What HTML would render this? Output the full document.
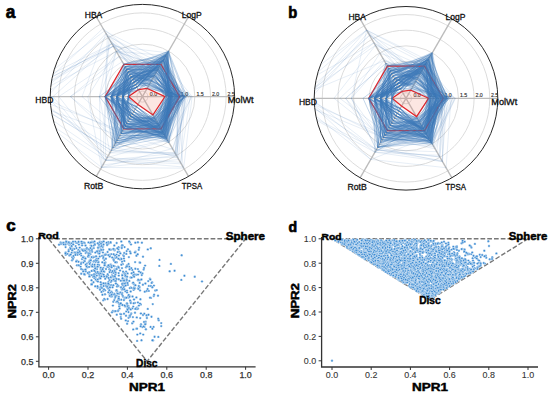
<!DOCTYPE html><html><head><meta charset="utf-8"><style>html,body{margin:0;padding:0;background:#fff;}svg{display:block;}</style></head><body>
<svg width="550" height="395" viewBox="0 0 550 395" font-family='"Liberation Sans", sans-serif'>
<rect width="550" height="395" fill="#fff"/>
<defs><circle id="pt" r="1.2" fill="#3a8ad2" stroke="#fff" stroke-width="0.42"/></defs>
<clipPath id="clipa"><circle cx="142.4" cy="96.6" r="92.2"/></clipPath>
<g clip-path="url(#clipa)">
<circle cx="142.4" cy="96.6" r="5.50" fill="none" stroke="#dcdcdc" stroke-width="1"/>
<circle cx="142.4" cy="96.6" r="21.15" fill="none" stroke="#dcdcdc" stroke-width="1"/>
<circle cx="142.4" cy="96.6" r="36.80" fill="none" stroke="#dcdcdc" stroke-width="1"/>
<circle cx="142.4" cy="96.6" r="52.45" fill="none" stroke="#dcdcdc" stroke-width="1"/>
<circle cx="142.4" cy="96.6" r="68.10" fill="none" stroke="#dcdcdc" stroke-width="1"/>
<circle cx="142.4" cy="96.6" r="83.75" fill="none" stroke="#dcdcdc" stroke-width="1"/>
<line x1="142.4" y1="96.6" x2="234.60" y2="96.60" stroke="#bcbcbc" stroke-width="1.35"/>
<line x1="142.4" y1="96.6" x2="188.50" y2="16.75" stroke="#bcbcbc" stroke-width="1.35"/>
<line x1="142.4" y1="96.6" x2="96.30" y2="16.75" stroke="#bcbcbc" stroke-width="1.35"/>
<line x1="142.4" y1="96.6" x2="50.20" y2="96.60" stroke="#bcbcbc" stroke-width="1.35"/>
<line x1="142.4" y1="96.6" x2="96.30" y2="176.45" stroke="#bcbcbc" stroke-width="1.35"/>
<line x1="142.4" y1="96.6" x2="188.50" y2="176.45" stroke="#bcbcbc" stroke-width="1.35"/>
<text x="149.8" y="95.5" font-size="5.2" fill="#333" stroke="#333" stroke-width="0.15" textLength="7.3" lengthAdjust="spacingAndGlyphs">0.0</text>
<text x="165.3" y="95.5" font-size="5.2" fill="#333" stroke="#333" stroke-width="0.15" textLength="7.3" lengthAdjust="spacingAndGlyphs">0.5</text>
<text x="180.8" y="95.5" font-size="5.2" fill="#333" stroke="#333" stroke-width="0.15" textLength="7.3" lengthAdjust="spacingAndGlyphs">1.0</text>
<text x="196.4" y="95.5" font-size="5.2" fill="#333" stroke="#333" stroke-width="0.15" textLength="7.3" lengthAdjust="spacingAndGlyphs">1.5</text>
<text x="211.9" y="95.5" font-size="5.2" fill="#333" stroke="#333" stroke-width="0.15" textLength="7.3" lengthAdjust="spacingAndGlyphs">2.0</text>
<text x="227.4" y="95.5" font-size="5.2" fill="#333" stroke="#333" stroke-width="0.15" textLength="7.3" lengthAdjust="spacingAndGlyphs">2.5</text>
<path d="M190.3 96.6L157.3 70.8L119.2 56.5L58.8 96.6L107.1 157.7L180.4 162.3ZM186.6 96.6L160.5 65.2L111.9 43.7L24.0 96.6L111.3 150.5L175.1 153.2ZM182.9 96.6L153.1 78.0L113.3 46.2L12.4 96.6L101.5 167.4L178.7 159.5ZM177.8 96.6L161.5 63.5L107.4 36.0L105.2 96.6L105.7 160.2L177.3 157.0ZM178.7 96.6L157.9 69.7L106.0 33.5L47.2 96.6L105.7 160.2L175.3 153.5ZM177.9 96.6L152.3 79.4L106.0 33.5L82.0 96.6L122.5 131.1L160.4 127.8ZM178.4 96.6L152.2 79.7L113.3 46.2L12.4 96.6L119.7 135.9L168.7 142.1ZM192.1 96.6L151.7 80.5L116.3 51.4L87.8 96.6L101.5 167.4L183.7 168.2ZM178.6 96.6L155.0 74.7L110.4 41.1L99.4 96.6L109.9 152.9L167.3 139.6ZM185.3 96.6L153.7 77.0L119.2 56.5L70.4 96.6L116.9 140.8L165.2 136.2ZM180.1 96.6L167.7 52.8L113.3 46.2L24.0 96.6L111.3 150.5L175.8 154.5ZM177.9 96.6L166.1 55.5L116.3 51.4L105.2 96.6L118.3 138.3L177.9 158.1ZM185.9 96.6L147.4 87.9L108.9 38.6L105.2 96.6L102.9 165.0L176.2 155.2ZM178.3 96.6L149.2 84.8L122.2 61.6L70.4 96.6L119.7 135.9L160.4 127.8ZM183.7 96.6L148.0 86.9L107.4 36.0L35.6 96.6L109.9 152.9L174.7 152.6ZM188.7 96.6L154.7 75.3L113.3 46.2L41.4 96.6L121.1 133.5L172.9 149.4ZM185.1 96.6L159.8 66.4L116.3 51.4L29.8 96.6L112.7 148.0L176.4 155.6ZM192.1 96.6L163.2 60.6L104.5 30.9L18.2 96.6L107.1 157.7L167.5 140.1ZM190.8 96.6L159.6 66.8L116.3 51.4L99.4 96.6L101.5 167.4L172.4 148.6ZM185.5 96.6L156.3 72.5L103.0 28.4L29.8 96.6L122.5 131.1L168.9 142.6ZM178.2 96.6L158.2 69.3L111.9 43.7L53.0 96.6L105.7 160.2L183.0 167.0ZM184.5 96.6L147.4 87.9L111.9 43.7L6.6 96.6L105.7 160.2L181.2 163.8Z" fill="none" stroke="#3f7bbb" stroke-opacity="0.15" stroke-width="0.85"/>
<path d="M171.9 96.6L154.7 75.3L128.1 71.8L122.6 96.6L133.7 111.7L165.1 135.9ZM179.1 96.6L163.3 60.4L136.9 87.1L116.8 96.6L125.3 126.2L166.2 137.9ZM169.3 96.6L161.3 63.9L134.0 82.0L105.2 96.6L132.3 114.1L154.4 117.4ZM175.0 96.6L157.9 69.8L132.5 79.5L116.8 96.6L136.5 106.8L158.3 124.1ZM173.4 96.6L149.3 84.7L136.9 87.1L122.6 96.6L121.1 133.5L161.3 129.3ZM175.5 96.6L166.6 54.8L131.0 76.9L111.0 96.6L126.7 123.8L159.1 125.6ZM172.6 96.6L156.1 72.8L136.9 87.1L111.0 96.6L128.1 121.4L169.1 142.9ZM180.3 96.6L164.3 58.7L135.5 84.6L116.8 96.6L125.3 126.2L159.5 126.2ZM175.6 96.6L165.1 57.2L131.0 76.9L105.2 96.6L119.7 135.9L156.3 120.7ZM177.3 96.6L156.5 72.2L134.0 82.0L116.8 96.6L123.9 128.6L155.0 118.4ZM179.4 96.6L153.7 77.1L129.6 74.3L111.0 96.6L125.3 126.2L159.3 125.9ZM183.3 96.6L159.0 67.8L125.1 66.7L111.0 96.6L132.3 114.1L166.2 137.8ZM179.7 96.6L164.2 58.8L126.6 69.2L105.2 96.6L123.9 128.6L157.6 122.9ZM169.4 96.6L150.2 83.2L138.4 89.7L128.4 96.6L130.9 116.5L164.4 134.8ZM167.6 96.6L167.4 53.3L132.5 79.5L122.6 96.6L119.7 135.9L164.4 134.6ZM169.4 96.6L156.5 72.1L131.0 76.9L111.0 96.6L123.9 128.6L165.4 136.5ZM178.5 96.6L151.6 80.7L131.0 76.9L122.6 96.6L121.1 133.5L162.1 130.8ZM179.1 96.6L149.3 84.7L128.1 71.8L116.8 96.6L133.7 111.7L156.6 121.2ZM184.1 96.6L151.4 81.0L136.9 87.1L111.0 96.6L125.3 126.2L159.0 125.3ZM171.0 96.6L150.4 82.8L135.5 84.6L128.4 96.6L126.7 123.8L159.5 126.3ZM181.8 96.6L148.4 86.1L131.0 76.9L116.8 96.6L126.7 123.8L163.4 133.0ZM177.0 96.6L149.8 83.9L132.5 79.5L116.8 96.6L112.7 148.0L165.9 137.3ZM181.4 96.6L165.7 56.3L129.6 74.3L122.6 96.6L125.3 126.2L155.0 118.5ZM164.5 96.6L153.8 76.9L129.6 74.3L111.0 96.6L132.3 114.1L157.2 122.3ZM179.7 96.6L168.5 51.3L129.6 74.3L122.6 96.6L128.1 121.4L161.2 129.1ZM167.2 96.6L151.6 80.7L129.6 74.3L122.6 96.6L137.9 104.4L153.9 116.4ZM174.6 96.6L157.9 69.8L129.6 74.3L116.8 96.6L122.5 131.1L156.8 121.5ZM166.4 96.6L151.2 81.4L129.6 74.3L116.8 96.6L122.5 131.1L163.0 132.2ZM171.4 96.6L148.1 86.7L131.0 76.9L122.6 96.6L123.9 128.6L154.7 117.9ZM168.2 96.6L155.5 73.9L131.0 76.9L128.4 96.6L136.5 106.8L159.3 125.8ZM174.3 96.6L163.7 59.7L134.0 82.0L105.2 96.6L118.3 138.3L162.5 131.4ZM170.9 96.6L163.6 59.9L135.5 84.6L116.8 96.6L118.3 138.3L165.5 136.6ZM183.9 96.6L159.1 67.6L125.1 66.7L111.0 96.6L116.9 140.8L163.2 132.6ZM171.2 96.6L158.4 68.9L126.6 69.2L105.2 96.6L129.5 118.9L168.0 140.9ZM170.7 96.6L158.1 69.5L129.6 74.3L116.8 96.6L130.9 116.5L167.7 140.5ZM173.7 96.6L157.6 70.3L126.6 69.2L122.6 96.6L123.9 128.6L164.6 135.1ZM175.3 96.6L151.7 80.5L126.6 69.2L122.6 96.6L129.5 118.9L158.2 124.0ZM182.1 96.6L164.4 58.5L132.5 79.5L105.2 96.6L130.9 116.5L164.9 135.6ZM170.9 96.6L158.6 68.5L132.5 79.5L116.8 96.6L133.7 111.7L165.2 136.2ZM172.0 96.6L162.1 62.5L136.9 87.1L116.8 96.6L136.5 106.8L158.4 124.2ZM174.9 96.6L166.1 55.5L128.1 71.8L116.8 96.6L126.7 123.8L160.0 127.2ZM173.0 96.6L154.6 75.5L135.5 84.6L122.6 96.6L125.3 126.2L160.5 128.0ZM171.1 96.6L152.8 78.6L134.0 82.0L122.6 96.6L132.3 114.1L166.8 138.8ZM169.9 96.6L165.0 57.5L125.1 66.7L111.0 96.6L112.7 148.0L155.5 119.3Z" fill="none" stroke="#3f7bbb" stroke-opacity="0.36" stroke-width="0.85"/>
<path d="M179.6 96.6 L161.0 64.4 L123.8 64.4 L105.2 96.6 L123.8 128.8 L161.0 128.8Z" fill="none" stroke="#e0252a" stroke-width="1.25"/>
<path d="M165.0 96.6 L147.2 88.4 L138.4 89.7 L128.5 96.6 L137.9 104.4 L153.0 114.9Z" fill="rgb(240,130,110)" fill-opacity="0.2" stroke="#e0252a" stroke-width="1.25"/>
<path d="M172.1 96.6L157.5 70.5L128.1 71.8L111.0 96.6L129.5 118.9L162.0 130.5ZM168.5 96.6L162.0 62.6L125.1 66.7L122.6 96.6L130.9 116.5L165.7 137.0ZM178.9 96.6L157.2 70.9L126.6 69.2L116.8 96.6L121.1 133.5L167.0 139.1ZM177.8 96.6L158.2 69.3L129.6 74.3L99.4 96.6L123.9 128.6L157.9 123.4ZM169.4 96.6L160.0 66.0L134.0 82.0L116.8 96.6L111.3 150.5L162.9 132.0ZM184.9 96.6L147.1 88.4L132.5 79.5L116.8 96.6L126.7 123.8L156.3 120.7ZM180.8 96.6L163.1 60.7L125.1 66.7L116.8 96.6L130.9 116.5L168.7 142.2ZM169.1 96.6L155.2 74.5L136.9 87.1L116.8 96.6L136.5 106.8L161.1 129.0ZM177.0 96.6L156.4 72.3L125.1 66.7L122.6 96.6L121.1 133.5L159.1 125.5ZM168.6 96.6L155.5 73.8L126.6 69.2L105.2 96.6L121.1 133.5L162.9 132.1ZM173.3 96.6L165.0 57.4L136.9 87.1L128.4 96.6L135.1 109.2L162.7 131.8ZM177.8 96.6L154.2 76.2L128.1 71.8L105.2 96.6L130.9 116.5L161.2 129.2ZM183.4 96.6L159.5 67.0L131.0 76.9L116.8 96.6L132.3 114.1L168.0 140.9ZM181.1 96.6L156.3 72.6L131.0 76.9L105.2 96.6L130.9 116.5L160.1 127.2ZM185.0 96.6L159.3 67.4L131.0 76.9L116.8 96.6L115.5 143.2L159.0 125.4ZM170.6 96.6L159.1 67.7L134.0 82.0L122.6 96.6L132.3 114.1L162.7 131.8ZM166.4 96.6L164.2 58.9L132.5 79.5L111.0 96.6L122.5 131.1L162.9 132.2ZM173.6 96.6L152.8 78.5L138.4 89.7L111.0 96.6L136.5 106.8L155.7 119.6ZM176.3 96.6L162.7 61.4L129.6 74.3L116.8 96.6L114.1 145.6L159.1 125.5ZM179.5 96.6L157.2 70.9L132.5 79.5L116.8 96.6L133.7 111.7L160.8 128.5ZM170.9 96.6L149.7 83.9L134.0 82.0L105.2 96.6L115.5 143.2L163.5 133.1ZM170.5 96.6L166.0 55.8L132.5 79.5L111.0 96.6L118.3 138.3L162.6 131.5ZM183.3 96.6L148.7 85.7L135.5 84.6L111.0 96.6L119.7 135.9L164.2 134.3ZM168.4 96.6L158.6 68.6L131.0 76.9L105.2 96.6L133.7 111.7L157.7 123.2ZM175.0 96.6L159.1 67.7L128.1 71.8L122.6 96.6L125.3 126.2L165.7 137.0ZM184.4 96.6L162.4 62.0L128.1 71.8L128.4 96.6L115.5 143.2L163.3 132.9ZM171.8 96.6L166.1 55.6L134.0 82.0L128.4 96.6L133.7 111.7L158.7 124.9ZM171.9 96.6L154.6 75.4L128.1 71.8L116.8 96.6L125.3 126.2L166.8 138.9ZM179.8 96.6L162.1 62.5L135.5 84.6L116.8 96.6L135.1 109.2L158.9 125.1ZM177.9 96.6L151.4 81.1L131.0 76.9L128.4 96.6L123.9 128.6L161.6 129.9ZM168.9 96.6L166.3 55.2L126.6 69.2L122.6 96.6L129.5 118.9L154.7 117.9ZM178.0 96.6L160.0 66.2L136.9 87.1L111.0 96.6L129.5 118.9L164.6 135.0ZM169.3 96.6L161.0 64.3L131.0 76.9L122.6 96.6L135.1 109.2L157.2 122.2ZM171.0 96.6L164.6 58.2L136.9 87.1L122.6 96.6L123.9 128.6L159.9 127.0ZM169.4 96.6L164.4 58.5L136.9 87.1L122.6 96.6L126.7 123.8L160.2 127.4ZM165.5 96.6L165.9 55.9L128.1 71.8L111.0 96.6L116.9 140.8L154.2 117.0ZM186.8 96.6L168.5 51.4L125.1 66.7L116.8 96.6L125.3 126.2L153.9 116.5ZM184.4 96.6L158.4 69.0L136.9 87.1L111.0 96.6L130.9 116.5L160.3 127.6ZM169.4 96.6L165.9 55.9L123.7 64.1L116.8 96.6L123.9 128.6L166.7 138.7ZM176.7 96.6L163.3 60.5L136.9 87.1L105.2 96.6L128.1 121.4L157.1 122.0ZM167.1 96.6L168.2 52.0L132.5 79.5L122.6 96.6L130.9 116.5L161.9 130.3ZM173.4 96.6L161.9 62.9L126.6 69.2L122.6 96.6L125.3 126.2L154.4 117.3ZM171.9 96.6L152.9 78.3L131.0 76.9L111.0 96.6L126.7 123.8L156.0 120.2ZM172.7 96.6L154.6 75.4L132.5 79.5L105.2 96.6L132.3 114.1L162.1 130.7ZM180.8 96.6L163.1 60.8L128.1 71.8L116.8 96.6L126.7 123.8L158.4 124.4ZM182.5 96.6L154.8 75.2L134.0 82.0L116.8 96.6L116.9 140.8L162.5 131.3ZM181.0 96.6L158.4 68.8L126.6 69.2L111.0 96.6L136.5 106.8L155.8 119.8ZM171.6 96.6L162.7 61.5L123.7 64.1L111.0 96.6L129.5 118.9L157.5 122.7ZM170.6 96.6L160.7 64.9L128.1 71.8L111.0 96.6L125.3 126.2L163.0 132.2ZM170.6 96.6L163.7 59.7L136.9 87.1L111.0 96.6L126.7 123.8L158.1 123.7ZM175.7 96.6L151.9 80.1L131.0 76.9L128.4 96.6L122.5 131.1L162.5 131.4ZM172.0 96.6L155.9 73.3L134.0 82.0L122.6 96.6L129.5 118.9L161.3 129.4ZM170.0 96.6L167.6 53.0L134.0 82.0L122.6 96.6L132.3 114.1L164.2 134.3ZM171.8 96.6L166.9 54.1L123.7 64.1L122.6 96.6L123.9 128.6L163.5 133.2ZM176.1 96.6L160.0 66.1L134.0 82.0L128.4 96.6L121.1 133.5L161.7 130.1ZM170.2 96.6L163.4 60.3L135.5 84.6L105.2 96.6L115.5 143.2L165.1 135.9ZM185.5 96.6L168.0 52.3L135.5 84.6L111.0 96.6L132.3 114.1L164.5 134.8ZM175.0 96.6L157.6 70.3L129.6 74.3L122.6 96.6L130.9 116.5L155.2 118.9ZM166.8 96.6L160.0 66.1L131.0 76.9L105.2 96.6L130.9 116.5L155.0 118.4ZM180.7 96.6L158.4 69.0L138.4 89.7L116.8 96.6L125.3 126.2L166.2 137.8ZM168.7 96.6L161.0 64.5L134.0 82.0L128.4 96.6L116.9 140.8L163.6 133.3ZM178.5 96.6L159.8 66.5L125.1 66.7L105.2 96.6L123.9 128.6L160.0 127.1ZM177.0 96.6L150.3 82.9L125.1 66.7L128.4 96.6L128.1 121.4L155.9 119.9ZM165.5 96.6L160.4 65.5L128.1 71.8L122.6 96.6L130.9 116.5L156.1 120.3ZM177.6 96.6L153.7 77.1L132.5 79.5L122.6 96.6L130.9 116.5L158.8 125.1ZM176.3 96.6L156.9 71.4L134.0 82.0L111.0 96.6L123.9 128.6L155.5 119.3ZM172.2 96.6L157.2 70.9L131.0 76.9L111.0 96.6L132.3 114.1L159.1 125.5ZM184.8 96.6L163.4 60.3L126.6 69.2L116.8 96.6L129.5 118.9L158.2 123.9ZM166.1 96.6L153.8 76.8L126.6 69.2L111.0 96.6L125.3 126.2L160.3 127.6ZM169.3 96.6L168.0 52.3L135.5 84.6L116.8 96.6L133.7 111.7L164.4 134.6ZM176.5 96.6L167.0 54.0L136.9 87.1L122.6 96.6L121.1 133.5L160.8 128.5ZM173.1 96.6L154.3 76.1L135.5 84.6L111.0 96.6L135.1 109.2L158.2 124.0ZM170.3 96.6L151.3 81.2L132.5 79.5L122.6 96.6L135.1 109.2L163.8 133.7ZM176.8 96.6L154.3 75.9L131.0 76.9L116.8 96.6L125.3 126.2L166.4 138.2ZM169.0 96.6L167.4 53.3L131.0 76.9L105.2 96.6L112.7 148.0L158.4 124.2ZM169.5 96.6L165.8 56.1L135.5 84.6L122.6 96.6L126.7 123.8L153.3 115.5ZM170.1 96.6L150.7 82.2L132.5 79.5L122.6 96.6L114.1 145.6L164.4 134.7ZM175.2 96.6L156.2 72.7L135.5 84.6L111.0 96.6L126.7 123.8L163.4 133.0ZM183.9 96.6L160.2 65.7L134.0 82.0L111.0 96.6L129.5 118.9L157.1 122.0ZM168.5 96.6L149.3 84.6L134.0 82.0L122.6 96.6L130.9 116.5L166.5 138.3ZM166.3 96.6L168.8 50.9L126.6 69.2L128.4 96.6L128.1 121.4L159.0 125.4ZM177.2 96.6L168.7 51.1L132.5 79.5L122.6 96.6L121.1 133.5L159.9 126.8ZM168.5 96.6L163.6 59.9L132.5 79.5L122.6 96.6L128.1 121.4L154.5 117.6ZM173.6 96.6L151.9 80.2L128.1 71.8L122.6 96.6L123.9 128.6L159.4 126.1Z" fill="none" stroke="#3f7bbb" stroke-opacity="0.36" stroke-width="0.85"/>
</g>
<circle cx="142.4" cy="96.6" r="92.2" fill="none" stroke="#2a2a2a" stroke-width="1.0"/>
<text x="84.8" y="18.2" font-size="8.5" fill="#111" stroke="#111" stroke-width="0.3" textLength="17.5" lengthAdjust="spacingAndGlyphs">HBA</text>
<text x="181.8" y="18.2" font-size="8.5" fill="#111" stroke="#111" stroke-width="0.3" textLength="20" lengthAdjust="spacingAndGlyphs">LogP</text>
<text x="35.3" y="103.4" font-size="8.5" fill="#111" stroke="#111" stroke-width="0.3" textLength="18" lengthAdjust="spacingAndGlyphs">HBD</text>
<text x="227.7" y="103.2" font-size="8.5" fill="#111" stroke="#111" stroke-width="0.3" textLength="25.9" lengthAdjust="spacingAndGlyphs">MolWt</text>
<text x="83.9" y="188.5" font-size="8.5" fill="#111" stroke="#111" stroke-width="0.3" textLength="19.3" lengthAdjust="spacingAndGlyphs">RotB</text>
<text x="181.8" y="188.5" font-size="8.5" fill="#111" stroke="#111" stroke-width="0.3" textLength="20.5" lengthAdjust="spacingAndGlyphs">TPSA</text>
<clipPath id="clipb"><circle cx="406.0" cy="98.3" r="91.8"/></clipPath>
<g clip-path="url(#clipb)">
<circle cx="406.0" cy="98.3" r="5.50" fill="none" stroke="#dcdcdc" stroke-width="1"/>
<circle cx="406.0" cy="98.3" r="21.15" fill="none" stroke="#dcdcdc" stroke-width="1"/>
<circle cx="406.0" cy="98.3" r="36.80" fill="none" stroke="#dcdcdc" stroke-width="1"/>
<circle cx="406.0" cy="98.3" r="52.45" fill="none" stroke="#dcdcdc" stroke-width="1"/>
<circle cx="406.0" cy="98.3" r="68.10" fill="none" stroke="#dcdcdc" stroke-width="1"/>
<circle cx="406.0" cy="98.3" r="83.75" fill="none" stroke="#dcdcdc" stroke-width="1"/>
<line x1="406.0" y1="98.3" x2="497.80" y2="98.30" stroke="#bcbcbc" stroke-width="1.35"/>
<line x1="406.0" y1="98.3" x2="451.90" y2="18.80" stroke="#bcbcbc" stroke-width="1.35"/>
<line x1="406.0" y1="98.3" x2="360.10" y2="18.80" stroke="#bcbcbc" stroke-width="1.35"/>
<line x1="406.0" y1="98.3" x2="314.20" y2="98.30" stroke="#bcbcbc" stroke-width="1.35"/>
<line x1="406.0" y1="98.3" x2="360.10" y2="177.80" stroke="#bcbcbc" stroke-width="1.35"/>
<line x1="406.0" y1="98.3" x2="451.90" y2="177.80" stroke="#bcbcbc" stroke-width="1.35"/>
<text x="413.4" y="97.2" font-size="5.2" fill="#333" stroke="#333" stroke-width="0.15" textLength="7.3" lengthAdjust="spacingAndGlyphs">0.0</text>
<text x="428.9" y="97.2" font-size="5.2" fill="#333" stroke="#333" stroke-width="0.15" textLength="7.3" lengthAdjust="spacingAndGlyphs">0.5</text>
<text x="444.4" y="97.2" font-size="5.2" fill="#333" stroke="#333" stroke-width="0.15" textLength="7.3" lengthAdjust="spacingAndGlyphs">1.0</text>
<text x="460.0" y="97.2" font-size="5.2" fill="#333" stroke="#333" stroke-width="0.15" textLength="7.3" lengthAdjust="spacingAndGlyphs">1.5</text>
<text x="475.5" y="97.2" font-size="5.2" fill="#333" stroke="#333" stroke-width="0.15" textLength="7.3" lengthAdjust="spacingAndGlyphs">2.0</text>
<text x="491.0" y="97.2" font-size="5.2" fill="#333" stroke="#333" stroke-width="0.15" textLength="7.3" lengthAdjust="spacingAndGlyphs">2.5</text>
<path d="M454.9 98.3L425.5 64.6L387.2 65.8L368.8 98.3L381.9 140.0L434.1 146.9ZM455.7 98.3L416.8 79.6L382.8 58.2L339.8 98.3L386.1 132.8L431.7 142.8ZM448.4 98.3L425.8 64.1L369.6 35.2L305.0 98.3L370.7 159.4L428.6 137.4ZM452.7 98.3L414.3 83.8L375.4 45.4L334.0 98.3L383.3 137.6L431.8 142.9ZM441.2 98.3L423.6 67.7L385.8 63.3L345.6 98.3L381.9 140.0L430.9 141.4ZM454.4 98.3L422.9 69.0L379.9 53.1L351.4 98.3L381.9 140.0L432.6 144.3ZM443.7 98.3L419.9 74.2L366.6 30.1L276.0 98.3L374.9 152.2L438.9 155.3ZM452.5 98.3L413.1 86.0L366.6 30.1L287.6 98.3L383.3 137.6L435.2 148.9ZM451.0 98.3L421.6 71.3L384.3 60.7L293.4 98.3L370.7 159.4L446.1 167.7ZM441.9 98.3L420.1 73.8L385.8 63.3L345.6 98.3L377.7 147.3L442.6 161.7ZM443.7 98.3L419.2 75.5L384.3 60.7L351.4 98.3L376.3 149.7L436.8 151.7ZM442.0 98.3L420.3 73.5L374.0 42.8L276.0 98.3L376.3 149.7L439.9 157.0ZM443.1 98.3L424.3 66.6L375.4 45.4L299.2 98.3L384.7 135.2L433.6 146.0ZM445.1 98.3L427.9 60.3L366.6 30.1L305.0 98.3L374.9 152.2L442.5 161.6ZM445.8 98.3L419.0 75.7L369.6 35.2L299.2 98.3L376.3 149.7L439.8 156.9ZM447.3 98.3L426.7 62.4L366.6 30.1L351.4 98.3L376.3 149.7L427.5 135.5ZM447.5 98.3L415.9 81.2L368.1 32.6L310.8 98.3L376.3 149.7L442.0 160.7ZM450.4 98.3L421.0 72.4L374.0 42.8L305.0 98.3L383.3 137.6L432.8 144.7Z" fill="none" stroke="#3f7bbb" stroke-opacity="0.15" stroke-width="0.85"/>
<path d="M430.6 98.3L419.8 74.4L390.2 70.9L380.4 98.3L394.5 118.2L429.3 138.7ZM428.4 98.3L426.1 63.5L390.2 70.9L374.6 98.3L394.5 118.2L416.6 116.7ZM431.2 98.3L418.4 76.9L397.6 83.7L392.0 98.3L380.5 142.5L427.6 135.7ZM441.2 98.3L419.9 74.2L397.6 83.7L374.6 98.3L386.1 132.8L419.3 121.3ZM434.4 98.3L422.6 69.5L399.1 86.3L386.2 98.3L387.5 130.3L423.6 128.8ZM440.5 98.3L427.3 61.4L397.6 83.7L374.6 98.3L395.9 115.8L423.9 129.2ZM439.4 98.3L430.9 55.2L399.1 86.3L368.8 98.3L383.3 137.6L431.7 142.8ZM438.3 98.3L432.0 53.2L391.7 73.5L374.6 98.3L377.7 147.3L431.8 143.0ZM429.8 98.3L428.2 59.8L402.0 91.4L374.6 98.3L400.1 108.5L427.7 135.9ZM445.1 98.3L416.7 79.7L385.8 63.3L374.6 98.3L397.3 113.4L427.0 134.6ZM438.6 98.3L413.9 84.7L399.1 86.3L380.4 98.3L391.7 123.1L429.5 139.0ZM433.5 98.3L431.9 53.4L393.1 76.0L380.4 98.3L383.3 137.6L422.3 126.6ZM445.2 98.3L412.7 86.7L394.6 78.6L380.4 98.3L390.3 125.5L422.1 126.2ZM429.5 98.3L425.8 64.0L387.2 65.8L392.0 98.3L398.7 110.9L428.6 137.4ZM427.6 98.3L428.0 60.1L391.7 73.5L374.6 98.3L387.5 130.3L422.6 127.0ZM447.5 98.3L421.8 71.0L400.5 88.8L386.2 98.3L398.7 110.9L417.8 118.7ZM440.7 98.3L428.3 59.7L396.1 81.2L374.6 98.3L398.7 110.9L421.5 125.1ZM427.7 98.3L413.7 85.0L390.2 70.9L374.6 98.3L388.9 127.9L429.2 138.4ZM429.1 98.3L419.2 75.5L400.5 88.8L374.6 98.3L383.3 137.6L430.7 141.1ZM431.5 98.3L417.9 77.7L396.1 81.2L380.4 98.3L394.5 118.2L419.9 122.3ZM431.0 98.3L429.9 56.9L391.7 73.5L374.6 98.3L398.7 110.9L425.8 132.5ZM428.6 98.3L414.0 84.4L397.6 83.7L368.8 98.3L384.7 135.2L430.5 140.7ZM443.8 98.3L414.7 83.2L399.1 86.3L380.4 98.3L395.9 115.8L424.7 130.8ZM445.5 98.3L423.6 67.8L387.2 65.8L374.6 98.3L398.7 110.9L419.0 120.8ZM438.7 98.3L415.8 81.4L397.6 83.7L392.0 98.3L387.5 130.3L426.8 134.3ZM436.4 98.3L421.0 72.3L402.0 91.4L386.2 98.3L393.1 120.6L430.5 140.7ZM442.7 98.3L427.1 61.8L400.5 88.8L380.4 98.3L394.5 118.2L432.6 144.4ZM446.3 98.3L424.9 65.5L393.1 76.0L380.4 98.3L390.3 125.5L429.2 138.5ZM440.2 98.3L424.1 67.0L397.6 83.7L380.4 98.3L391.7 123.1L418.4 119.8ZM444.9 98.3L428.9 58.7L387.2 65.8L380.4 98.3L384.7 135.2L427.2 135.1ZM436.5 98.3L422.3 70.1L394.6 78.6L368.8 98.3L388.9 127.9L419.2 121.2ZM438.5 98.3L425.7 64.2L397.6 83.7L380.4 98.3L390.3 125.5L421.7 125.6ZM433.1 98.3L417.9 77.6L391.7 73.5L374.6 98.3L383.3 137.6L426.3 133.5ZM443.9 98.3L420.8 72.7L394.6 78.6L374.6 98.3L386.1 132.8L421.8 125.7ZM445.5 98.3L426.3 63.1L399.1 86.3L386.2 98.3L386.1 132.8L431.4 142.3ZM438.6 98.3L415.4 82.0L400.5 88.8L368.8 98.3L381.9 140.0L428.8 137.8ZM441.4 98.3L426.8 62.3L388.7 68.4L368.8 98.3L388.9 127.9L428.7 137.6ZM428.7 98.3L426.1 63.6L397.6 83.7L380.4 98.3L384.7 135.2L417.0 117.4ZM433.4 98.3L426.5 62.7L400.5 88.8L368.8 98.3L397.3 113.4L425.0 131.2ZM436.7 98.3L425.8 64.0L391.7 73.5L380.4 98.3L395.9 115.8L423.1 127.9ZM429.8 98.3L422.0 70.6L396.1 81.2L380.4 98.3L400.1 108.5L426.3 133.4ZM432.9 98.3L423.9 67.3L396.1 81.2L380.4 98.3L380.5 142.5L420.6 123.6ZM444.9 98.3L430.9 55.1L400.5 88.8L386.2 98.3L393.1 120.6L422.2 126.4ZM446.7 98.3L430.6 55.7L397.6 83.7L380.4 98.3L384.7 135.2L419.3 121.3ZM436.3 98.3L419.3 75.2L393.1 76.0L368.8 98.3L381.9 140.0L430.1 140.1ZM437.2 98.3L412.7 86.7L394.6 78.6L386.2 98.3L388.9 127.9L424.6 130.4Z" fill="none" stroke="#3f7bbb" stroke-opacity="0.36" stroke-width="0.85"/>
<path d="M443.2 98.3 L424.6 66.1 L387.4 66.1 L368.8 98.3 L387.4 130.5 L424.6 130.5Z" fill="none" stroke="#e0252a" stroke-width="1.25"/>
<path d="M428.6 98.3 L410.8 90.1 L402.0 91.4 L392.1 98.3 L401.5 106.1 L416.6 116.6Z" fill="rgb(240,130,110)" fill-opacity="0.2" stroke="#e0252a" stroke-width="1.25"/>
<path d="M431.1 98.3L429.8 57.1L391.7 73.5L368.8 98.3L395.9 115.8L423.9 129.3ZM434.7 98.3L426.9 62.0L397.6 83.7L374.6 98.3L386.1 132.8L425.2 131.6ZM435.9 98.3L425.9 63.9L396.1 81.2L380.4 98.3L400.1 108.5L428.1 136.6ZM446.3 98.3L424.2 66.7L396.1 81.2L392.0 98.3L386.1 132.8L420.3 123.0ZM440.6 98.3L427.8 60.5L390.2 70.9L392.0 98.3L398.7 110.9L426.3 133.4ZM431.3 98.3L411.1 89.4L400.5 88.8L374.6 98.3L379.1 144.9L419.7 122.1ZM437.8 98.3L418.2 77.2L399.1 86.3L380.4 98.3L386.1 132.8L431.1 141.7ZM442.4 98.3L423.9 67.3L393.1 76.0L368.8 98.3L391.7 123.1L419.3 121.3ZM437.4 98.3L428.5 59.3L394.6 78.6L386.2 98.3L390.3 125.5L432.1 143.6ZM449.0 98.3L426.8 62.3L397.6 83.7L380.4 98.3L390.3 125.5L423.3 128.3ZM434.4 98.3L416.0 80.9L385.8 63.3L380.4 98.3L383.3 137.6L431.7 142.8ZM446.1 98.3L427.6 60.9L391.7 73.5L386.2 98.3L377.7 147.3L423.1 127.8ZM435.9 98.3L423.7 67.7L388.7 68.4L386.2 98.3L386.1 132.8L426.8 134.4ZM429.7 98.3L417.5 78.4L399.1 86.3L374.6 98.3L397.3 113.4L418.8 120.5ZM440.8 98.3L417.0 79.2L397.6 83.7L374.6 98.3L397.3 113.4L421.5 125.1ZM447.5 98.3L420.6 73.1L396.1 81.2L386.2 98.3L393.1 120.6L425.4 131.9ZM430.3 98.3L429.4 57.7L396.1 81.2L380.4 98.3L387.5 130.3L425.2 131.6ZM447.0 98.3L417.0 79.2L388.7 68.4L368.8 98.3L391.7 123.1L426.0 133.0ZM437.8 98.3L424.9 65.5L396.1 81.2L386.2 98.3L400.1 108.5L421.7 125.5ZM436.1 98.3L428.8 58.8L394.6 78.6L374.6 98.3L393.1 120.6L430.3 140.4ZM443.5 98.3L416.0 81.0L388.7 68.4L392.0 98.3L400.1 108.5L427.8 136.1ZM450.2 98.3L411.8 88.2L393.1 76.0L374.6 98.3L393.1 120.6L419.8 122.1ZM441.8 98.3L428.5 59.3L394.6 78.6L368.8 98.3L394.5 118.2L423.4 128.4ZM429.5 98.3L422.5 69.7L394.6 78.6L368.8 98.3L377.7 147.3L429.2 138.5ZM443.4 98.3L411.7 88.5L396.1 81.2L368.8 98.3L387.5 130.3L417.3 117.8ZM440.8 98.3L424.9 65.6L399.1 86.3L368.8 98.3L395.9 115.8L430.7 141.2ZM437.0 98.3L431.6 54.0L396.1 81.2L368.8 98.3L397.3 113.4L423.4 128.5ZM433.9 98.3L427.0 61.9L391.7 73.5L380.4 98.3L400.1 108.5L424.8 130.8ZM444.0 98.3L422.1 70.4L394.6 78.6L368.8 98.3L400.1 108.5L418.3 119.6ZM440.7 98.3L432.4 52.5L390.2 70.9L386.2 98.3L391.7 123.1L423.6 128.8ZM430.5 98.3L423.4 68.2L399.1 86.3L380.4 98.3L400.1 108.5L432.4 144.1ZM444.2 98.3L420.9 72.5L397.6 83.7L380.4 98.3L390.3 125.5L428.6 137.5ZM437.6 98.3L411.7 88.5L400.5 88.8L380.4 98.3L395.9 115.8L422.2 126.3ZM430.5 98.3L418.6 76.5L397.6 83.7L374.6 98.3L383.3 137.6L427.1 134.9ZM442.9 98.3L417.1 79.1L399.1 86.3L386.2 98.3L386.1 132.8L417.6 118.4ZM437.1 98.3L423.0 68.8L391.7 73.5L374.6 98.3L384.7 135.2L428.3 136.9ZM445.4 98.3L420.6 73.0L396.1 81.2L380.4 98.3L384.7 135.2L423.3 128.2ZM441.1 98.3L419.3 75.3L399.1 86.3L392.0 98.3L391.7 123.1L422.3 126.5ZM447.1 98.3L421.4 71.7L400.5 88.8L368.8 98.3L387.5 130.3L418.9 120.6ZM437.1 98.3L428.5 59.4L399.1 86.3L368.8 98.3L384.7 135.2L419.6 121.9ZM432.3 98.3L430.5 55.8L390.2 70.9L386.2 98.3L388.9 127.9L429.5 139.0ZM433.7 98.3L422.3 70.1L399.1 86.3L374.6 98.3L374.9 152.2L420.6 123.6ZM436.5 98.3L423.4 68.2L394.6 78.6L380.4 98.3L377.7 147.3L430.1 140.1ZM442.4 98.3L420.0 74.1L397.6 83.7L380.4 98.3L388.9 127.9L420.4 123.2ZM440.3 98.3L424.4 66.4L394.6 78.6L380.4 98.3L393.1 120.6L421.1 124.5ZM439.1 98.3L420.9 72.5L396.1 81.2L374.6 98.3L398.7 110.9L417.8 118.7ZM446.7 98.3L417.5 78.4L391.7 73.5L374.6 98.3L386.1 132.8L426.6 134.0ZM446.5 98.3L426.8 62.3L390.2 70.9L386.2 98.3L397.3 113.4L419.8 122.2ZM443.0 98.3L425.4 64.7L390.2 70.9L374.6 98.3L377.7 147.3L426.2 133.3ZM448.6 98.3L428.2 59.9L396.1 81.2L380.4 98.3L383.3 137.6L423.8 129.1ZM442.0 98.3L425.3 64.8L397.6 83.7L380.4 98.3L393.1 120.6L428.7 137.6ZM434.7 98.3L421.7 71.1L397.6 83.7L374.6 98.3L397.3 113.4L425.7 132.5ZM443.9 98.3L423.2 68.5L393.1 76.0L363.0 98.3L381.9 140.0L422.7 127.2ZM438.6 98.3L413.4 85.5L394.6 78.6L392.0 98.3L391.7 123.1L419.8 122.2ZM431.9 98.3L421.3 71.8L394.6 78.6L380.4 98.3L387.5 130.3L427.9 136.2ZM441.8 98.3L415.2 82.3L388.7 68.4L374.6 98.3L383.3 137.6L428.0 136.4ZM447.6 98.3L429.8 57.0L397.6 83.7L392.0 98.3L391.7 123.1L420.9 124.0ZM443.8 98.3L415.5 81.8L399.1 86.3L374.6 98.3L388.9 127.9L421.8 125.6ZM432.3 98.3L420.3 73.5L393.1 76.0L386.2 98.3L390.3 125.5L426.9 134.5ZM435.9 98.3L425.4 64.8L388.7 68.4L380.4 98.3L398.7 110.9L424.6 130.6ZM432.7 98.3L420.5 73.1L388.7 68.4L380.4 98.3L387.5 130.3L418.8 120.6ZM438.0 98.3L431.3 54.5L388.7 68.4L380.4 98.3L395.9 115.8L430.6 140.8ZM447.5 98.3L420.9 72.4L396.1 81.2L374.6 98.3L398.7 110.9L431.4 142.2ZM445.0 98.3L423.3 68.4L400.5 88.8L368.8 98.3L395.9 115.8L420.8 123.9ZM428.0 98.3L431.8 53.6L396.1 81.2L386.2 98.3L395.9 115.8L422.2 126.4ZM435.9 98.3L423.4 68.1L399.1 86.3L374.6 98.3L381.9 140.0L426.6 134.0ZM441.4 98.3L414.5 83.6L397.6 83.7L368.8 98.3L379.1 144.9L425.5 132.1ZM433.1 98.3L428.6 59.2L396.1 81.2L392.0 98.3L390.3 125.5L417.4 118.0ZM429.1 98.3L426.2 63.2L402.0 91.4L380.4 98.3L390.3 125.5L424.7 130.7ZM438.8 98.3L417.7 78.0L390.2 70.9L374.6 98.3L386.1 132.8L425.3 131.7ZM433.8 98.3L416.1 80.9L399.1 86.3L380.4 98.3L390.3 125.5L430.5 140.7ZM435.5 98.3L422.1 70.5L396.1 81.2L386.2 98.3L397.3 113.4L431.4 142.3ZM439.2 98.3L424.6 66.0L399.1 86.3L386.2 98.3L390.3 125.5L426.7 134.1ZM434.4 98.3L426.1 63.4L391.7 73.5L380.4 98.3L380.5 142.5L423.7 128.9ZM440.0 98.3L415.7 81.5L400.5 88.8L374.6 98.3L397.3 113.4L430.7 141.1ZM440.5 98.3L427.9 60.3L387.2 65.8L392.0 98.3L388.9 127.9L431.0 141.7ZM447.0 98.3L412.4 87.2L394.6 78.6L374.6 98.3L395.9 115.8L423.6 128.7ZM436.4 98.3L424.2 66.8L390.2 70.9L380.4 98.3L390.3 125.5L424.1 129.6ZM443.0 98.3L423.6 67.9L397.6 83.7L380.4 98.3L384.7 135.2L426.1 133.1ZM431.0 98.3L432.4 52.6L393.1 76.0L380.4 98.3L395.9 115.8L423.6 128.7ZM432.7 98.3L418.9 75.9L396.1 81.2L386.2 98.3L384.7 135.2L424.9 131.1ZM438.9 98.3L421.2 71.9L394.6 78.6L386.2 98.3L386.1 132.8L429.2 138.4ZM436.5 98.3L421.5 71.5L390.2 70.9L380.4 98.3L380.5 142.5L424.4 130.2ZM428.5 98.3L425.8 64.0L387.2 65.8L380.4 98.3L397.3 113.4L423.5 128.5ZM435.2 98.3L422.8 69.2L394.6 78.6L386.2 98.3L377.7 147.3L427.8 136.0ZM436.6 98.3L426.4 62.9L399.1 86.3L392.0 98.3L394.5 118.2L423.2 128.1Z" fill="none" stroke="#3f7bbb" stroke-opacity="0.36" stroke-width="0.85"/>
</g>
<circle cx="406.0" cy="98.3" r="91.8" fill="none" stroke="#2a2a2a" stroke-width="1.0"/>
<text x="348.4" y="20.0" font-size="8.5" fill="#111" stroke="#111" stroke-width="0.3" textLength="17.5" lengthAdjust="spacingAndGlyphs">HBA</text>
<text x="445.4" y="20.0" font-size="8.5" fill="#111" stroke="#111" stroke-width="0.3" textLength="20" lengthAdjust="spacingAndGlyphs">LogP</text>
<text x="298.9" y="105.2" font-size="8.5" fill="#111" stroke="#111" stroke-width="0.3" textLength="18" lengthAdjust="spacingAndGlyphs">HBD</text>
<text x="491.3" y="105.0" font-size="8.5" fill="#111" stroke="#111" stroke-width="0.3" textLength="25.9" lengthAdjust="spacingAndGlyphs">MolWt</text>
<text x="347.5" y="190.3" font-size="8.5" fill="#111" stroke="#111" stroke-width="0.3" textLength="19.3" lengthAdjust="spacingAndGlyphs">RotB</text>
<text x="445.4" y="190.3" font-size="8.5" fill="#111" stroke="#111" stroke-width="0.3" textLength="20.5" lengthAdjust="spacingAndGlyphs">TPSA</text>
<text x="5.8" y="18" font-size="17.6" font-weight="bold" fill="#000" stroke="#000" stroke-width="0.7" textLength="9.6" lengthAdjust="spacingAndGlyphs">a</text>
<text x="288.2" y="18" font-size="15.8" font-weight="bold" fill="#000" stroke="#000" stroke-width="0.7" textLength="9.0" lengthAdjust="spacingAndGlyphs">b</text>
<text x="6.3" y="230.6" font-size="15.6" font-weight="bold" fill="#000" stroke="#000" stroke-width="0.7" textLength="9.4" lengthAdjust="spacingAndGlyphs">c</text>
<text x="288.5" y="231.6" font-size="15" font-weight="bold" fill="#000" stroke="#000" stroke-width="0.7" textLength="8.6" lengthAdjust="spacingAndGlyphs">d</text>
<path d="M38.9 237 L38.9 366.8 L255.6 366.8" fill="none" stroke="#333" stroke-width="1.3"/>
<line x1="35.9" y1="361.3" x2="38.9" y2="361.3" stroke="#333" stroke-width="1"/>
<text x="33.5" y="364.9" font-size="8.4" fill="#333" stroke="#333" stroke-width="0.25" text-anchor="end" textLength="12.4" lengthAdjust="spacingAndGlyphs">0.5</text>
<line x1="35.9" y1="336.8" x2="38.9" y2="336.8" stroke="#333" stroke-width="1"/>
<text x="33.5" y="340.4" font-size="8.4" fill="#333" stroke="#333" stroke-width="0.25" text-anchor="end" textLength="12.4" lengthAdjust="spacingAndGlyphs">0.6</text>
<line x1="35.9" y1="312.3" x2="38.9" y2="312.3" stroke="#333" stroke-width="1"/>
<text x="33.5" y="315.9" font-size="8.4" fill="#333" stroke="#333" stroke-width="0.25" text-anchor="end" textLength="12.4" lengthAdjust="spacingAndGlyphs">0.7</text>
<line x1="35.9" y1="287.8" x2="38.9" y2="287.8" stroke="#333" stroke-width="1"/>
<text x="33.5" y="291.4" font-size="8.4" fill="#333" stroke="#333" stroke-width="0.25" text-anchor="end" textLength="12.4" lengthAdjust="spacingAndGlyphs">0.8</text>
<line x1="35.9" y1="263.3" x2="38.9" y2="263.3" stroke="#333" stroke-width="1"/>
<text x="33.5" y="266.9" font-size="8.4" fill="#333" stroke="#333" stroke-width="0.25" text-anchor="end" textLength="12.4" lengthAdjust="spacingAndGlyphs">0.9</text>
<line x1="35.9" y1="238.8" x2="38.9" y2="238.8" stroke="#333" stroke-width="1"/>
<text x="33.5" y="242.4" font-size="8.4" fill="#333" stroke="#333" stroke-width="0.25" text-anchor="end" textLength="12.4" lengthAdjust="spacingAndGlyphs">1.0</text>
<line x1="48.6" y1="366.8" x2="48.6" y2="369.8" stroke="#333" stroke-width="1"/>
<text x="48.6" y="378.2" font-size="8.4" fill="#333" stroke="#333" stroke-width="0.25" text-anchor="middle" textLength="12.4" lengthAdjust="spacingAndGlyphs">0.0</text>
<line x1="88.0" y1="366.8" x2="88.0" y2="369.8" stroke="#333" stroke-width="1"/>
<text x="88.0" y="378.2" font-size="8.4" fill="#333" stroke="#333" stroke-width="0.25" text-anchor="middle" textLength="12.4" lengthAdjust="spacingAndGlyphs">0.2</text>
<line x1="127.4" y1="366.8" x2="127.4" y2="369.8" stroke="#333" stroke-width="1"/>
<text x="127.4" y="378.2" font-size="8.4" fill="#333" stroke="#333" stroke-width="0.25" text-anchor="middle" textLength="12.4" lengthAdjust="spacingAndGlyphs">0.4</text>
<line x1="166.8" y1="366.8" x2="166.8" y2="369.8" stroke="#333" stroke-width="1"/>
<text x="166.8" y="378.2" font-size="8.4" fill="#333" stroke="#333" stroke-width="0.25" text-anchor="middle" textLength="12.4" lengthAdjust="spacingAndGlyphs">0.6</text>
<line x1="206.2" y1="366.8" x2="206.2" y2="369.8" stroke="#333" stroke-width="1"/>
<text x="206.2" y="378.2" font-size="8.4" fill="#333" stroke="#333" stroke-width="0.25" text-anchor="middle" textLength="12.4" lengthAdjust="spacingAndGlyphs">0.8</text>
<line x1="245.6" y1="366.8" x2="245.6" y2="369.8" stroke="#333" stroke-width="1"/>
<text x="245.6" y="378.2" font-size="8.4" fill="#333" stroke="#333" stroke-width="0.25" text-anchor="middle" textLength="12.4" lengthAdjust="spacingAndGlyphs">1.0</text>
<path d="M48.6 238.8 L245.6 238.8 L147.1 361.3 Z" fill="none" stroke="#777" stroke-width="1.4" stroke-dasharray="4.7 2.05"/>
<use href="#pt" x="67.6" y="253.9"/><use href="#pt" x="95.8" y="262.0"/><use href="#pt" x="126.9" y="303.3"/><use href="#pt" x="123.3" y="255.3"/><use href="#pt" x="135.3" y="242.7"/><use href="#pt" x="107.6" y="252.0"/><use href="#pt" x="92.6" y="257.1"/><use href="#pt" x="120.9" y="293.4"/><use href="#pt" x="114.7" y="275.4"/><use href="#pt" x="87.3" y="267.4"/><use href="#pt" x="131.0" y="244.4"/><use href="#pt" x="133.2" y="306.6"/><use href="#pt" x="108.0" y="275.5"/><use href="#pt" x="65.8" y="254.7"/><use href="#pt" x="83.5" y="270.1"/><use href="#pt" x="151.0" y="297.9"/><use href="#pt" x="153.9" y="285.6"/><use href="#pt" x="108.0" y="288.3"/><use href="#pt" x="142.4" y="327.1"/><use href="#pt" x="91.4" y="275.1"/><use href="#pt" x="121.3" y="241.5"/><use href="#pt" x="88.6" y="253.9"/><use href="#pt" x="118.9" y="255.6"/><use href="#pt" x="89.0" y="249.1"/><use href="#pt" x="140.9" y="272.6"/><use href="#pt" x="124.0" y="288.4"/><use href="#pt" x="109.8" y="279.9"/><use href="#pt" x="94.6" y="269.7"/><use href="#pt" x="118.6" y="310.1"/><use href="#pt" x="125.5" y="291.3"/><use href="#pt" x="93.8" y="248.1"/><use href="#pt" x="88.4" y="256.9"/><use href="#pt" x="112.5" y="287.3"/><use href="#pt" x="124.3" y="260.9"/><use href="#pt" x="114.5" y="250.3"/><use href="#pt" x="137.1" y="340.9"/><use href="#pt" x="114.4" y="249.2"/><use href="#pt" x="137.9" y="302.4"/><use href="#pt" x="113.5" y="249.5"/><use href="#pt" x="78.4" y="242.8"/><use href="#pt" x="108.3" y="284.4"/><use href="#pt" x="137.9" y="242.2"/><use href="#pt" x="98.3" y="279.1"/><use href="#pt" x="73.6" y="257.4"/><use href="#pt" x="136.9" y="307.5"/><use href="#pt" x="107.7" y="274.2"/><use href="#pt" x="87.4" y="249.2"/><use href="#pt" x="65.7" y="252.4"/><use href="#pt" x="89.2" y="249.8"/><use href="#pt" x="100.9" y="272.5"/><use href="#pt" x="94.5" y="256.9"/><use href="#pt" x="114.5" y="280.0"/><use href="#pt" x="121.1" y="287.6"/><use href="#pt" x="96.5" y="251.7"/><use href="#pt" x="106.9" y="243.6"/><use href="#pt" x="94.4" y="277.8"/><use href="#pt" x="91.6" y="248.4"/><use href="#pt" x="134.1" y="284.2"/><use href="#pt" x="143.7" y="269.6"/><use href="#pt" x="140.0" y="290.4"/><use href="#pt" x="151.5" y="316.8"/><use href="#pt" x="127.9" y="249.3"/><use href="#pt" x="126.3" y="311.4"/><use href="#pt" x="99.5" y="272.7"/><use href="#pt" x="74.4" y="252.4"/><use href="#pt" x="89.8" y="262.8"/><use href="#pt" x="110.7" y="242.8"/><use href="#pt" x="101.9" y="273.4"/><use href="#pt" x="100.6" y="269.0"/><use href="#pt" x="114.5" y="280.7"/><use href="#pt" x="116.6" y="295.7"/><use href="#pt" x="88.8" y="262.2"/><use href="#pt" x="109.7" y="286.8"/><use href="#pt" x="95.7" y="279.5"/><use href="#pt" x="140.8" y="304.5"/><use href="#pt" x="91.3" y="246.0"/><use href="#pt" x="139.1" y="288.7"/><use href="#pt" x="84.4" y="261.0"/><use href="#pt" x="110.9" y="264.6"/><use href="#pt" x="127.6" y="310.0"/><use href="#pt" x="122.9" y="280.5"/><use href="#pt" x="104.4" y="271.8"/><use href="#pt" x="128.9" y="257.1"/><use href="#pt" x="122.2" y="289.1"/><use href="#pt" x="120.6" y="258.8"/><use href="#pt" x="101.9" y="274.0"/><use href="#pt" x="131.7" y="273.2"/><use href="#pt" x="124.3" y="299.0"/><use href="#pt" x="135.4" y="285.3"/><use href="#pt" x="124.2" y="253.0"/><use href="#pt" x="101.4" y="246.3"/><use href="#pt" x="95.4" y="277.4"/><use href="#pt" x="117.9" y="267.4"/><use href="#pt" x="116.7" y="243.0"/><use href="#pt" x="97.0" y="269.0"/><use href="#pt" x="117.3" y="291.4"/><use href="#pt" x="106.0" y="283.8"/><use href="#pt" x="66.7" y="241.7"/><use href="#pt" x="112.9" y="276.7"/><use href="#pt" x="96.7" y="258.6"/><use href="#pt" x="133.7" y="289.9"/><use href="#pt" x="148.2" y="281.1"/><use href="#pt" x="103.0" y="246.7"/><use href="#pt" x="90.7" y="259.4"/><use href="#pt" x="92.0" y="241.7"/><use href="#pt" x="105.1" y="265.1"/><use href="#pt" x="96.8" y="280.8"/><use href="#pt" x="101.0" y="243.6"/><use href="#pt" x="92.8" y="270.7"/><use href="#pt" x="161.2" y="326.1"/><use href="#pt" x="123.1" y="296.7"/><use href="#pt" x="98.3" y="258.6"/><use href="#pt" x="110.4" y="264.7"/><use href="#pt" x="146.7" y="315.6"/><use href="#pt" x="111.6" y="294.0"/><use href="#pt" x="82.5" y="269.6"/><use href="#pt" x="112.0" y="275.3"/><use href="#pt" x="128.7" y="297.5"/><use href="#pt" x="111.2" y="254.1"/><use href="#pt" x="124.9" y="284.4"/><use href="#pt" x="117.0" y="268.7"/><use href="#pt" x="100.7" y="271.5"/><use href="#pt" x="114.5" y="266.3"/><use href="#pt" x="121.4" y="304.7"/><use href="#pt" x="126.0" y="315.8"/><use href="#pt" x="116.5" y="254.6"/><use href="#pt" x="93.3" y="242.1"/><use href="#pt" x="84.3" y="257.2"/><use href="#pt" x="120.0" y="259.5"/><use href="#pt" x="115.0" y="255.7"/><use href="#pt" x="82.5" y="242.2"/><use href="#pt" x="89.9" y="250.9"/><use href="#pt" x="84.2" y="258.6"/><use href="#pt" x="144.8" y="323.9"/><use href="#pt" x="120.0" y="270.5"/><use href="#pt" x="155.3" y="290.5"/><use href="#pt" x="117.1" y="267.1"/><use href="#pt" x="85.5" y="245.5"/><use href="#pt" x="76.3" y="242.9"/><use href="#pt" x="122.1" y="261.7"/><use href="#pt" x="114.9" y="298.0"/><use href="#pt" x="86.6" y="251.7"/><use href="#pt" x="89.4" y="274.7"/><use href="#pt" x="138.3" y="288.1"/><use href="#pt" x="91.2" y="284.3"/><use href="#pt" x="100.8" y="249.3"/><use href="#pt" x="81.1" y="269.0"/><use href="#pt" x="98.3" y="253.3"/><use href="#pt" x="60.6" y="242.5"/><use href="#pt" x="98.1" y="250.5"/><use href="#pt" x="128.0" y="321.1"/><use href="#pt" x="78.0" y="242.9"/><use href="#pt" x="122.6" y="295.6"/><use href="#pt" x="102.0" y="271.6"/><use href="#pt" x="105.5" y="254.0"/><use href="#pt" x="148.8" y="290.9"/><use href="#pt" x="136.4" y="328.7"/><use href="#pt" x="85.7" y="271.2"/><use href="#pt" x="113.6" y="272.9"/><use href="#pt" x="115.8" y="257.9"/><use href="#pt" x="81.2" y="255.6"/><use href="#pt" x="125.3" y="297.8"/><use href="#pt" x="76.6" y="253.4"/><use href="#pt" x="70.2" y="254.4"/><use href="#pt" x="126.1" y="282.4"/><use href="#pt" x="120.8" y="317.1"/><use href="#pt" x="112.9" y="305.6"/><use href="#pt" x="100.3" y="242.8"/><use href="#pt" x="113.5" y="270.8"/><use href="#pt" x="60.9" y="244.1"/><use href="#pt" x="97.7" y="287.7"/><use href="#pt" x="125.3" y="283.4"/><use href="#pt" x="122.7" y="245.4"/><use href="#pt" x="145.4" y="283.5"/><use href="#pt" x="65.6" y="247.1"/><use href="#pt" x="72.8" y="248.7"/><use href="#pt" x="158.3" y="336.9"/><use href="#pt" x="91.5" y="280.3"/><use href="#pt" x="84.9" y="274.6"/><use href="#pt" x="72.6" y="243.8"/><use href="#pt" x="111.5" y="291.6"/><use href="#pt" x="150.0" y="297.7"/><use href="#pt" x="99.8" y="241.7"/><use href="#pt" x="113.6" y="272.8"/><use href="#pt" x="127.0" y="290.6"/><use href="#pt" x="124.6" y="247.1"/><use href="#pt" x="117.0" y="293.1"/><use href="#pt" x="122.8" y="285.3"/><use href="#pt" x="100.7" y="275.4"/><use href="#pt" x="149.9" y="278.8"/><use href="#pt" x="148.9" y="285.9"/><use href="#pt" x="120.2" y="313.9"/><use href="#pt" x="135.0" y="288.3"/><use href="#pt" x="68.2" y="243.9"/><use href="#pt" x="115.0" y="295.6"/><use href="#pt" x="126.1" y="271.8"/><use href="#pt" x="90.1" y="243.0"/><use href="#pt" x="135.5" y="251.8"/><use href="#pt" x="126.6" y="280.5"/><use href="#pt" x="119.7" y="252.2"/><use href="#pt" x="128.2" y="296.0"/><use href="#pt" x="93.0" y="256.6"/><use href="#pt" x="113.3" y="301.8"/><use href="#pt" x="104.3" y="260.1"/><use href="#pt" x="99.9" y="275.9"/><use href="#pt" x="118.0" y="300.1"/><use href="#pt" x="118.1" y="266.8"/><use href="#pt" x="103.8" y="276.2"/><use href="#pt" x="70.1" y="242.6"/><use href="#pt" x="81.8" y="249.4"/><use href="#pt" x="150.9" y="286.0"/><use href="#pt" x="84.0" y="273.9"/><use href="#pt" x="133.2" y="288.4"/><use href="#pt" x="121.5" y="259.0"/><use href="#pt" x="103.3" y="300.3"/><use href="#pt" x="95.7" y="274.0"/><use href="#pt" x="69.2" y="244.8"/><use href="#pt" x="113.8" y="258.1"/><use href="#pt" x="78.9" y="244.6"/><use href="#pt" x="93.1" y="276.9"/><use href="#pt" x="105.4" y="262.4"/><use href="#pt" x="99.1" y="245.9"/><use href="#pt" x="100.8" y="267.6"/><use href="#pt" x="111.5" y="276.9"/><use href="#pt" x="128.4" y="305.9"/><use href="#pt" x="107.6" y="299.0"/><use href="#pt" x="85.7" y="269.4"/><use href="#pt" x="134.9" y="252.4"/><use href="#pt" x="84.1" y="261.1"/><use href="#pt" x="139.6" y="280.2"/><use href="#pt" x="152.1" y="282.2"/><use href="#pt" x="132.5" y="296.5"/><use href="#pt" x="139.6" y="262.4"/><use href="#pt" x="105.4" y="283.4"/><use href="#pt" x="97.5" y="286.3"/><use href="#pt" x="158.7" y="320.3"/><use href="#pt" x="69.7" y="243.6"/><use href="#pt" x="102.5" y="246.8"/><use href="#pt" x="109.3" y="254.6"/><use href="#pt" x="145.9" y="329.2"/><use href="#pt" x="130.5" y="301.6"/><use href="#pt" x="132.2" y="323.2"/><use href="#pt" x="115.4" y="274.6"/><use href="#pt" x="124.2" y="273.1"/><use href="#pt" x="127.6" y="308.3"/><use href="#pt" x="132.3" y="269.9"/><use href="#pt" x="110.6" y="265.9"/><use href="#pt" x="99.9" y="242.7"/><use href="#pt" x="100.9" y="286.3"/><use href="#pt" x="106.0" y="269.0"/><use href="#pt" x="113.2" y="258.6"/><use href="#pt" x="105.0" y="290.3"/><use href="#pt" x="83.4" y="250.2"/><use href="#pt" x="75.2" y="241.6"/><use href="#pt" x="93.9" y="270.1"/><use href="#pt" x="118.2" y="249.3"/><use href="#pt" x="135.1" y="262.1"/><use href="#pt" x="126.1" y="267.2"/><use href="#pt" x="98.5" y="266.3"/><use href="#pt" x="115.3" y="278.1"/><use href="#pt" x="108.1" y="288.2"/><use href="#pt" x="118.6" y="247.2"/><use href="#pt" x="134.9" y="302.9"/><use href="#pt" x="116.3" y="302.1"/><use href="#pt" x="110.8" y="249.8"/><use href="#pt" x="122.7" y="283.5"/><use href="#pt" x="132.3" y="308.4"/><use href="#pt" x="118.3" y="258.7"/><use href="#pt" x="104.9" y="299.6"/><use href="#pt" x="116.7" y="279.0"/><use href="#pt" x="94.8" y="267.1"/><use href="#pt" x="121.1" y="318.8"/><use href="#pt" x="114.2" y="293.7"/><use href="#pt" x="127.3" y="306.0"/><use href="#pt" x="70.4" y="243.7"/><use href="#pt" x="97.8" y="252.1"/><use href="#pt" x="110.5" y="296.3"/><use href="#pt" x="107.7" y="285.3"/><use href="#pt" x="125.3" y="306.4"/><use href="#pt" x="140.1" y="262.7"/><use href="#pt" x="111.6" y="277.3"/><use href="#pt" x="153.8" y="296.0"/><use href="#pt" x="123.1" y="271.7"/><use href="#pt" x="101.8" y="242.5"/><use href="#pt" x="146.7" y="291.0"/><use href="#pt" x="138.8" y="249.8"/><use href="#pt" x="143.0" y="256.7"/><use href="#pt" x="118.8" y="298.2"/><use href="#pt" x="70.3" y="247.4"/><use href="#pt" x="108.6" y="243.5"/><use href="#pt" x="111.0" y="285.0"/><use href="#pt" x="127.6" y="273.4"/><use href="#pt" x="88.9" y="272.3"/><use href="#pt" x="140.6" y="272.5"/><use href="#pt" x="78.5" y="250.2"/><use href="#pt" x="111.7" y="265.7"/><use href="#pt" x="72.1" y="260.2"/><use href="#pt" x="116.0" y="272.6"/><use href="#pt" x="100.3" y="246.5"/><use href="#pt" x="134.0" y="287.5"/><use href="#pt" x="124.0" y="283.5"/><use href="#pt" x="76.7" y="252.5"/><use href="#pt" x="67.3" y="243.0"/><use href="#pt" x="118.5" y="286.0"/><use href="#pt" x="83.3" y="262.5"/><use href="#pt" x="109.9" y="271.8"/><use href="#pt" x="74.5" y="252.6"/><use href="#pt" x="123.9" y="258.4"/><use href="#pt" x="110.8" y="281.0"/><use href="#pt" x="93.1" y="242.2"/><use href="#pt" x="106.1" y="254.6"/><use href="#pt" x="78.3" y="251.4"/><use href="#pt" x="122.9" y="264.1"/><use href="#pt" x="71.2" y="243.3"/><use href="#pt" x="89.6" y="276.3"/><use href="#pt" x="95.2" y="286.3"/><use href="#pt" x="119.2" y="306.3"/><use href="#pt" x="123.9" y="256.1"/><use href="#pt" x="97.7" y="266.5"/><use href="#pt" x="138.9" y="271.4"/><use href="#pt" x="147.8" y="308.9"/><use href="#pt" x="126.7" y="251.1"/><use href="#pt" x="96.8" y="275.6"/><use href="#pt" x="66.0" y="241.5"/><use href="#pt" x="69.5" y="255.2"/><use href="#pt" x="84.8" y="261.1"/><use href="#pt" x="68.6" y="243.4"/><use href="#pt" x="143.2" y="334.6"/><use href="#pt" x="111.7" y="272.3"/><use href="#pt" x="118.8" y="279.2"/><use href="#pt" x="118.8" y="251.8"/><use href="#pt" x="156.8" y="290.1"/><use href="#pt" x="117.0" y="286.6"/><use href="#pt" x="108.2" y="242.1"/><use href="#pt" x="129.8" y="242.6"/><use href="#pt" x="99.1" y="264.9"/><use href="#pt" x="88.0" y="252.9"/><use href="#pt" x="111.2" y="296.5"/><use href="#pt" x="86.7" y="263.8"/><use href="#pt" x="78.5" y="261.7"/><use href="#pt" x="123.4" y="279.1"/><use href="#pt" x="121.2" y="299.7"/><use href="#pt" x="141.0" y="324.2"/><use href="#pt" x="140.9" y="313.5"/><use href="#pt" x="133.5" y="272.3"/><use href="#pt" x="94.7" y="266.9"/><use href="#pt" x="112.2" y="292.9"/><use href="#pt" x="82.0" y="259.1"/><use href="#pt" x="90.8" y="245.6"/><use href="#pt" x="91.6" y="270.9"/><use href="#pt" x="118.8" y="275.6"/><use href="#pt" x="109.8" y="255.3"/><use href="#pt" x="140.0" y="303.6"/><use href="#pt" x="129.2" y="241.4"/><use href="#pt" x="113.3" y="285.2"/><use href="#pt" x="95.3" y="252.6"/><use href="#pt" x="62.2" y="242.9"/><use href="#pt" x="121.1" y="287.3"/><use href="#pt" x="126.7" y="279.2"/><use href="#pt" x="88.5" y="242.4"/><use href="#pt" x="118.9" y="267.7"/><use href="#pt" x="101.0" y="284.6"/><use href="#pt" x="127.8" y="284.9"/><use href="#pt" x="92.5" y="264.4"/><use href="#pt" x="109.6" y="266.6"/><use href="#pt" x="150.6" y="326.9"/><use href="#pt" x="112.5" y="275.9"/><use href="#pt" x="86.7" y="265.7"/><use href="#pt" x="139.6" y="287.0"/><use href="#pt" x="107.8" y="244.0"/><use href="#pt" x="102.2" y="241.9"/><use href="#pt" x="107.3" y="266.7"/><use href="#pt" x="140.4" y="299.2"/><use href="#pt" x="128.6" y="264.0"/><use href="#pt" x="125.2" y="275.5"/><use href="#pt" x="103.1" y="291.0"/><use href="#pt" x="153.1" y="340.4"/><use href="#pt" x="102.2" y="269.6"/><use href="#pt" x="124.6" y="305.5"/><use href="#pt" x="123.9" y="300.1"/><use href="#pt" x="96.4" y="273.0"/><use href="#pt" x="98.4" y="261.8"/><use href="#pt" x="66.0" y="242.5"/><use href="#pt" x="90.0" y="248.5"/><use href="#pt" x="136.4" y="255.7"/><use href="#pt" x="127.1" y="265.3"/><use href="#pt" x="95.7" y="267.8"/><use href="#pt" x="94.6" y="243.9"/><use href="#pt" x="121.8" y="247.0"/><use href="#pt" x="118.8" y="296.8"/><use href="#pt" x="118.9" y="293.9"/><use href="#pt" x="110.9" y="281.9"/><use href="#pt" x="119.6" y="293.0"/><use href="#pt" x="114.2" y="300.1"/><use href="#pt" x="89.4" y="276.4"/><use href="#pt" x="154.6" y="336.8"/><use href="#pt" x="99.3" y="274.7"/><use href="#pt" x="77.6" y="254.7"/><use href="#pt" x="128.5" y="312.1"/><use href="#pt" x="101.6" y="245.9"/><use href="#pt" x="130.0" y="251.5"/><use href="#pt" x="79.5" y="252.0"/><use href="#pt" x="150.3" y="279.5"/><use href="#pt" x="85.7" y="253.1"/><use href="#pt" x="77.0" y="265.3"/><use href="#pt" x="141.9" y="242.7"/><use href="#pt" x="68.8" y="249.8"/><use href="#pt" x="79.7" y="252.2"/><use href="#pt" x="159.3" y="265.9"/><use href="#pt" x="91.5" y="245.9"/><use href="#pt" x="152.3" y="287.2"/><use href="#pt" x="110.6" y="292.9"/><use href="#pt" x="130.7" y="309.0"/><use href="#pt" x="106.8" y="286.8"/><use href="#pt" x="118.0" y="311.0"/><use href="#pt" x="125.2" y="274.2"/><use href="#pt" x="90.0" y="262.6"/><use href="#pt" x="113.5" y="276.5"/><use href="#pt" x="92.1" y="251.8"/><use href="#pt" x="114.3" y="294.2"/><use href="#pt" x="146.7" y="315.2"/><use href="#pt" x="104.0" y="289.3"/><use href="#pt" x="103.5" y="244.5"/><use href="#pt" x="97.6" y="279.8"/><use href="#pt" x="72.2" y="257.2"/><use href="#pt" x="120.6" y="292.5"/><use href="#pt" x="75.5" y="253.9"/><use href="#pt" x="102.9" y="252.4"/><use href="#pt" x="134.0" y="299.5"/><use href="#pt" x="106.6" y="242.7"/><use href="#pt" x="136.8" y="317.4"/><use href="#pt" x="112.5" y="271.1"/><use href="#pt" x="127.6" y="309.6"/><use href="#pt" x="94.6" y="264.7"/><use href="#pt" x="125.8" y="320.4"/><use href="#pt" x="158.2" y="318.7"/><use href="#pt" x="74.3" y="248.9"/><use href="#pt" x="122.2" y="274.7"/><use href="#pt" x="124.1" y="286.5"/><use href="#pt" x="69.2" y="243.0"/><use href="#pt" x="65.5" y="244.5"/><use href="#pt" x="75.2" y="252.7"/><use href="#pt" x="129.3" y="266.7"/><use href="#pt" x="96.1" y="256.3"/><use href="#pt" x="112.9" y="310.9"/><use href="#pt" x="108.0" y="266.9"/><use href="#pt" x="130.6" y="253.2"/><use href="#pt" x="108.1" y="284.3"/><use href="#pt" x="116.8" y="291.0"/><use href="#pt" x="136.2" y="274.8"/><use href="#pt" x="113.6" y="259.2"/><use href="#pt" x="126.9" y="266.3"/><use href="#pt" x="122.2" y="293.0"/><use href="#pt" x="71.7" y="246.0"/><use href="#pt" x="68.8" y="242.2"/><use href="#pt" x="144.3" y="313.7"/><use href="#pt" x="99.7" y="277.5"/><use href="#pt" x="71.8" y="246.1"/><use href="#pt" x="90.3" y="254.2"/><use href="#pt" x="103.2" y="258.2"/><use href="#pt" x="130.6" y="277.5"/><use href="#pt" x="100.1" y="273.4"/><use href="#pt" x="139.7" y="282.9"/><use href="#pt" x="59.0" y="244.7"/><use href="#pt" x="83.2" y="271.4"/><use href="#pt" x="93.8" y="245.6"/><use href="#pt" x="115.3" y="272.5"/><use href="#pt" x="109.7" y="294.2"/><use href="#pt" x="116.8" y="291.2"/><use href="#pt" x="130.7" y="291.5"/><use href="#pt" x="117.2" y="284.8"/><use href="#pt" x="105.9" y="258.8"/><use href="#pt" x="81.2" y="273.8"/><use href="#pt" x="83.3" y="249.6"/><use href="#pt" x="111.6" y="280.8"/><use href="#pt" x="152.8" y="304.1"/><use href="#pt" x="118.1" y="302.4"/><use href="#pt" x="79.5" y="254.1"/><use href="#pt" x="138.0" y="308.8"/><use href="#pt" x="138.9" y="305.6"/><use href="#pt" x="138.8" y="286.0"/><use href="#pt" x="99.7" y="251.9"/><use href="#pt" x="94.5" y="241.4"/><use href="#pt" x="88.0" y="255.9"/><use href="#pt" x="145.6" y="321.7"/><use href="#pt" x="143.0" y="315.0"/><use href="#pt" x="110.3" y="294.8"/><use href="#pt" x="152.4" y="340.3"/><use href="#pt" x="102.0" y="283.4"/><use href="#pt" x="109.2" y="280.0"/><use href="#pt" x="98.2" y="262.2"/><use href="#pt" x="120.8" y="280.7"/><use href="#pt" x="101.0" y="243.8"/><use href="#pt" x="102.8" y="270.9"/><use href="#pt" x="93.2" y="274.9"/><use href="#pt" x="85.9" y="249.3"/><use href="#pt" x="145.3" y="323.4"/><use href="#pt" x="103.7" y="241.4"/><use href="#pt" x="126.5" y="297.7"/><use href="#pt" x="88.1" y="256.4"/><use href="#pt" x="114.5" y="311.3"/><use href="#pt" x="117.6" y="252.1"/><use href="#pt" x="103.6" y="283.3"/><use href="#pt" x="71.9" y="249.4"/><use href="#pt" x="113.5" y="279.4"/><use href="#pt" x="119.0" y="299.7"/><use href="#pt" x="106.9" y="277.1"/><use href="#pt" x="124.4" y="279.8"/><use href="#pt" x="104.2" y="276.5"/><use href="#pt" x="103.2" y="268.0"/><use href="#pt" x="128.6" y="317.7"/><use href="#pt" x="133.5" y="321.6"/><use href="#pt" x="90.9" y="242.4"/><use href="#pt" x="93.0" y="257.4"/><use href="#pt" x="101.4" y="271.1"/><use href="#pt" x="63.6" y="242.7"/><use href="#pt" x="133.2" y="329.4"/><use href="#pt" x="137.0" y="328.7"/><use href="#pt" x="132.7" y="283.1"/><use href="#pt" x="136.3" y="308.1"/><use href="#pt" x="82.1" y="245.3"/><use href="#pt" x="94.9" y="244.8"/><use href="#pt" x="129.4" y="295.7"/><use href="#pt" x="108.3" y="292.3"/><use href="#pt" x="145.1" y="265.6"/><use href="#pt" x="113.6" y="265.9"/><use href="#pt" x="131.2" y="313.4"/><use href="#pt" x="109.2" y="249.2"/><use href="#pt" x="71.7" y="252.8"/><use href="#pt" x="70.5" y="248.8"/><use href="#pt" x="98.1" y="273.2"/><use href="#pt" x="136.9" y="309.1"/><use href="#pt" x="84.7" y="243.0"/><use href="#pt" x="89.7" y="263.9"/><use href="#pt" x="80.6" y="266.6"/><use href="#pt" x="144.0" y="268.0"/><use href="#pt" x="84.3" y="274.2"/><use href="#pt" x="95.8" y="259.9"/><use href="#pt" x="91.4" y="266.0"/><use href="#pt" x="129.6" y="269.2"/><use href="#pt" x="88.4" y="273.6"/><use href="#pt" x="110.5" y="295.4"/><use href="#pt" x="109.3" y="269.3"/><use href="#pt" x="122.6" y="278.2"/><use href="#pt" x="97.2" y="260.4"/><use href="#pt" x="117.1" y="301.4"/><use href="#pt" x="78.4" y="250.0"/><use href="#pt" x="144.0" y="321.9"/><use href="#pt" x="102.6" y="269.2"/><use href="#pt" x="101.4" y="291.9"/><use href="#pt" x="94.3" y="277.9"/><use href="#pt" x="97.9" y="281.6"/><use href="#pt" x="63.7" y="244.4"/><use href="#pt" x="73.0" y="258.9"/><use href="#pt" x="100.2" y="288.1"/><use href="#pt" x="98.9" y="244.8"/><use href="#pt" x="98.6" y="247.6"/><use href="#pt" x="126.8" y="280.0"/><use href="#pt" x="83.3" y="256.8"/><use href="#pt" x="120.4" y="253.4"/><use href="#pt" x="89.0" y="249.1"/><use href="#pt" x="129.5" y="296.7"/><use href="#pt" x="130.6" y="287.4"/><use href="#pt" x="130.7" y="314.6"/><use href="#pt" x="89.9" y="253.2"/><use href="#pt" x="118.7" y="273.1"/><use href="#pt" x="95.4" y="271.8"/><use href="#pt" x="93.4" y="282.2"/><use href="#pt" x="103.8" y="271.4"/><use href="#pt" x="134.5" y="274.5"/><use href="#pt" x="81.2" y="262.8"/><use href="#pt" x="112.2" y="257.4"/><use href="#pt" x="84.1" y="242.7"/><use href="#pt" x="130.6" y="309.4"/><use href="#pt" x="99.4" y="253.5"/><use href="#pt" x="129.3" y="280.9"/><use href="#pt" x="138.0" y="280.2"/><use href="#pt" x="140.2" y="333.4"/><use href="#pt" x="92.0" y="283.6"/><use href="#pt" x="88.9" y="253.4"/><use href="#pt" x="110.2" y="270.2"/><use href="#pt" x="133.8" y="276.3"/><use href="#pt" x="81.6" y="242.1"/><use href="#pt" x="118.7" y="298.4"/><use href="#pt" x="123.9" y="289.2"/><use href="#pt" x="114.1" y="260.9"/><use href="#pt" x="122.3" y="275.4"/><use href="#pt" x="93.5" y="261.6"/><use href="#pt" x="109.6" y="272.1"/><use href="#pt" x="147.6" y="289.0"/><use href="#pt" x="85.7" y="264.7"/><use href="#pt" x="99.7" y="250.9"/><use href="#pt" x="100.7" y="282.2"/><use href="#pt" x="94.1" y="261.0"/><use href="#pt" x="116.7" y="262.2"/><use href="#pt" x="104.2" y="298.9"/><use href="#pt" x="114.6" y="269.5"/><use href="#pt" x="116.7" y="257.1"/><use href="#pt" x="73.4" y="256.0"/><use href="#pt" x="139.1" y="247.7"/><use href="#pt" x="113.8" y="260.0"/><use href="#pt" x="125.7" y="285.6"/><use href="#pt" x="101.1" y="250.2"/><use href="#pt" x="76.7" y="260.7"/><use href="#pt" x="108.6" y="277.9"/><use href="#pt" x="153.6" y="326.9"/><use href="#pt" x="127.1" y="323.8"/><use href="#pt" x="103.1" y="249.6"/><use href="#pt" x="85.5" y="258.5"/><use href="#pt" x="106.0" y="286.0"/><use href="#pt" x="135.3" y="308.9"/><use href="#pt" x="114.8" y="270.2"/><use href="#pt" x="121.0" y="314.3"/><use href="#pt" x="137.7" y="254.3"/><use href="#pt" x="89.2" y="272.3"/><use href="#pt" x="82.7" y="242.2"/><use href="#pt" x="132.9" y="317.1"/><use href="#pt" x="86.9" y="248.0"/><use href="#pt" x="120.8" y="303.2"/><use href="#pt" x="130.1" y="300.4"/><use href="#pt" x="89.6" y="260.8"/><use href="#pt" x="78.8" y="265.2"/><use href="#pt" x="108.3" y="282.1"/><use href="#pt" x="144.4" y="326.9"/><use href="#pt" x="106.6" y="276.0"/><use href="#pt" x="84.3" y="249.7"/><use href="#pt" x="106.8" y="276.8"/><use href="#pt" x="101.9" y="287.9"/><use href="#pt" x="99.8" y="256.5"/><use href="#pt" x="114.8" y="270.9"/><use href="#pt" x="116.1" y="269.1"/><use href="#pt" x="108.8" y="284.5"/><use href="#pt" x="94.1" y="274.2"/><use href="#pt" x="69.5" y="255.2"/><use href="#pt" x="78.6" y="241.8"/><use href="#pt" x="154.1" y="294.7"/><use href="#pt" x="131.3" y="268.1"/><use href="#pt" x="110.8" y="277.2"/><use href="#pt" x="80.9" y="253.6"/><use href="#pt" x="76.2" y="261.5"/><use href="#pt" x="103.4" y="255.6"/><use href="#pt" x="66.2" y="241.7"/><use href="#pt" x="111.9" y="296.2"/><use href="#pt" x="142.4" y="273.5"/><use href="#pt" x="137.9" y="269.1"/><use href="#pt" x="72.2" y="250.3"/><use href="#pt" x="113.3" y="248.9"/><use href="#pt" x="136.4" y="297.4"/><use href="#pt" x="105.1" y="254.9"/><use href="#pt" x="142.9" y="284.8"/><use href="#pt" x="81.9" y="243.3"/><use href="#pt" x="129.5" y="315.8"/><use href="#pt" x="130.8" y="303.0"/><use href="#pt" x="97.8" y="264.6"/><use href="#pt" x="97.7" y="271.9"/><use href="#pt" x="125.4" y="276.6"/><use href="#pt" x="127.6" y="283.0"/><use href="#pt" x="116.8" y="314.7"/><use href="#pt" x="109.5" y="249.5"/><use href="#pt" x="152.4" y="328.7"/><use href="#pt" x="114.3" y="245.5"/><use href="#pt" x="125.4" y="275.9"/><use href="#pt" x="114.8" y="276.3"/><use href="#pt" x="135.3" y="268.8"/><use href="#pt" x="104.6" y="263.2"/><use href="#pt" x="86.6" y="266.4"/><use href="#pt" x="112.8" y="294.6"/><use href="#pt" x="134.2" y="288.7"/><use href="#pt" x="101.4" y="276.4"/><use href="#pt" x="103.6" y="283.4"/><use href="#pt" x="122.1" y="245.2"/><use href="#pt" x="103.6" y="286.0"/><use href="#pt" x="122.5" y="305.0"/><use href="#pt" x="105.2" y="278.8"/><use href="#pt" x="92.3" y="266.5"/><use href="#pt" x="75.7" y="254.0"/><use href="#pt" x="141.8" y="275.1"/><use href="#pt" x="71.6" y="246.0"/><use href="#pt" x="97.1" y="251.3"/><use href="#pt" x="109.7" y="256.5"/><use href="#pt" x="138.2" y="279.8"/><use href="#pt" x="140.2" y="318.1"/><use href="#pt" x="111.5" y="294.8"/><use href="#pt" x="117.3" y="248.2"/><use href="#pt" x="115.3" y="262.3"/><use href="#pt" x="83.4" y="250.9"/><use href="#pt" x="101.0" y="284.6"/><use href="#pt" x="108.4" y="265.3"/><use href="#pt" x="88.7" y="255.2"/><use href="#pt" x="109.9" y="287.5"/><use href="#pt" x="109.8" y="295.9"/><use href="#pt" x="119.6" y="308.4"/><use href="#pt" x="79.5" y="251.1"/><use href="#pt" x="118.5" y="267.2"/><use href="#pt" x="91.9" y="249.9"/><use href="#pt" x="98.0" y="247.8"/><use href="#pt" x="129.8" y="316.9"/><use href="#pt" x="104.6" y="265.3"/><use href="#pt" x="97.8" y="243.2"/><use href="#pt" x="138.0" y="274.6"/><use href="#pt" x="103.0" y="249.7"/><use href="#pt" x="102.3" y="262.3"/><use href="#pt" x="86.0" y="251.9"/><use href="#pt" x="161.2" y="323.1"/><use href="#pt" x="121.9" y="289.5"/><use href="#pt" x="115.8" y="281.0"/><use href="#pt" x="130.0" y="315.9"/><use href="#pt" x="108.3" y="255.1"/><use href="#pt" x="115.9" y="283.5"/><use href="#pt" x="146.9" y="318.0"/><use href="#pt" x="79.7" y="251.9"/><use href="#pt" x="70.7" y="254.6"/><use href="#pt" x="116.7" y="269.0"/><use href="#pt" x="85.3" y="269.6"/><use href="#pt" x="90.5" y="248.1"/><use href="#pt" x="103.6" y="274.6"/><use href="#pt" x="133.4" y="275.3"/><use href="#pt" x="87.8" y="272.9"/><use href="#pt" x="85.0" y="250.6"/><use href="#pt" x="105.0" y="294.2"/><use href="#pt" x="77.9" y="252.7"/><use href="#pt" x="134.1" y="276.7"/><use href="#pt" x="124.2" y="281.0"/><use href="#pt" x="116.1" y="290.4"/><use href="#pt" x="79.7" y="247.6"/><use href="#pt" x="122.0" y="268.1"/><use href="#pt" x="141.4" y="279.5"/><use href="#pt" x="108.3" y="283.6"/><use href="#pt" x="148.5" y="314.7"/><use href="#pt" x="150.8" y="248.2"/><use href="#pt" x="65.5" y="253.3"/><use href="#pt" x="140.7" y="326.3"/><use href="#pt" x="111.6" y="267.2"/><use href="#pt" x="83.0" y="257.4"/><use href="#pt" x="112.0" y="312.3"/><use href="#pt" x="100.4" y="278.4"/><use href="#pt" x="135.0" y="312.8"/><use href="#pt" x="145.2" y="324.3"/><use href="#pt" x="131.4" y="287.9"/><use href="#pt" x="75.4" y="254.9"/><use href="#pt" x="109.3" y="290.2"/><use href="#pt" x="97.6" y="266.6"/><use href="#pt" x="89.1" y="266.9"/><use href="#pt" x="117.8" y="293.6"/><use href="#pt" x="113.7" y="254.2"/><use href="#pt" x="124.0" y="280.5"/><use href="#pt" x="68.6" y="251.2"/><use href="#pt" x="75.7" y="246.1"/><use href="#pt" x="102.1" y="255.9"/><use href="#pt" x="102.4" y="294.7"/><use href="#pt" x="123.6" y="287.9"/><use href="#pt" x="151.7" y="282.9"/><use href="#pt" x="147.8" y="249.4"/><use href="#pt" x="158.0" y="295.7"/><use href="#pt" x="129.8" y="288.1"/><use href="#pt" x="127.1" y="292.4"/><use href="#pt" x="122.5" y="289.0"/><use href="#pt" x="76.4" y="248.1"/><use href="#pt" x="90.8" y="260.4"/><use href="#pt" x="96.1" y="260.8"/><use href="#pt" x="103.3" y="257.1"/><use href="#pt" x="124.0" y="313.7"/><use href="#pt" x="94.1" y="276.3"/><use href="#pt" x="107.1" y="245.0"/><use href="#pt" x="133.7" y="303.3"/><use href="#pt" x="82.7" y="250.2"/><use href="#pt" x="73.0" y="241.7"/><use href="#pt" x="91.8" y="284.4"/><use href="#pt" x="141.5" y="340.2"/><use href="#pt" x="127.1" y="303.8"/><use href="#pt" x="133.2" y="282.6"/><use href="#pt" x="122.0" y="294.1"/><use href="#pt" x="124.2" y="289.3"/><use href="#pt" x="138.3" y="288.9"/><use href="#pt" x="122.1" y="283.9"/><use href="#pt" x="121.8" y="248.0"/><use href="#pt" x="127.1" y="276.7"/><use href="#pt" x="110.6" y="242.2"/><use href="#pt" x="119.3" y="303.9"/><use href="#pt" x="107.1" y="286.8"/><use href="#pt" x="128.9" y="308.0"/><use href="#pt" x="94.4" y="270.8"/><use href="#pt" x="126.3" y="253.9"/><use href="#pt" x="131.7" y="277.6"/><use href="#pt" x="115.3" y="297.0"/><use href="#pt" x="121.3" y="264.8"/><use href="#pt" x="115.7" y="311.1"/><use href="#pt" x="81.0" y="263.9"/><use href="#pt" x="73.2" y="244.4"/><use href="#pt" x="101.2" y="249.9"/><use href="#pt" x="95.2" y="268.5"/><use href="#pt" x="144.8" y="291.7"/><use href="#pt" x="137.3" y="334.6"/><use href="#pt" x="143.6" y="326.4"/><use href="#pt" x="116.7" y="290.1"/><use href="#pt" x="91.6" y="257.1"/><use href="#pt" x="128.7" y="294.9"/><use href="#pt" x="100.0" y="289.7"/><use href="#pt" x="120.7" y="303.5"/><use href="#pt" x="81.5" y="241.6"/><use href="#pt" x="184.4" y="275.7"/><use href="#pt" x="181.3" y="279.9"/><use href="#pt" x="174.6" y="270.7"/><use href="#pt" x="194.8" y="276.8"/><use href="#pt" x="181.7" y="255.2"/><use href="#pt" x="169.7" y="271.3"/><use href="#pt" x="202.0" y="281.4"/><use href="#pt" x="170.9" y="263.9"/><use href="#pt" x="159.5" y="259.9"/>
<path d="M321.6 237 L321.6 367.0 L538.0 367.0" fill="none" stroke="#333" stroke-width="1.3"/>
<line x1="318.6" y1="360.8" x2="321.6" y2="360.8" stroke="#333" stroke-width="1"/>
<text x="316.2" y="364.4" font-size="8.4" fill="#333" stroke="#333" stroke-width="0.08" text-anchor="end" textLength="12.4" lengthAdjust="spacingAndGlyphs">0.0</text>
<line x1="318.6" y1="336.4" x2="321.6" y2="336.4" stroke="#333" stroke-width="1"/>
<text x="316.2" y="340.0" font-size="8.4" fill="#333" stroke="#333" stroke-width="0.08" text-anchor="end" textLength="12.4" lengthAdjust="spacingAndGlyphs">0.2</text>
<line x1="318.6" y1="312.0" x2="321.6" y2="312.0" stroke="#333" stroke-width="1"/>
<text x="316.2" y="315.6" font-size="8.4" fill="#333" stroke="#333" stroke-width="0.08" text-anchor="end" textLength="12.4" lengthAdjust="spacingAndGlyphs">0.4</text>
<line x1="318.6" y1="287.6" x2="321.6" y2="287.6" stroke="#333" stroke-width="1"/>
<text x="316.2" y="291.2" font-size="8.4" fill="#333" stroke="#333" stroke-width="0.08" text-anchor="end" textLength="12.4" lengthAdjust="spacingAndGlyphs">0.6</text>
<line x1="318.6" y1="263.2" x2="321.6" y2="263.2" stroke="#333" stroke-width="1"/>
<text x="316.2" y="266.8" font-size="8.4" fill="#333" stroke="#333" stroke-width="0.08" text-anchor="end" textLength="12.4" lengthAdjust="spacingAndGlyphs">0.8</text>
<line x1="318.6" y1="238.8" x2="321.6" y2="238.8" stroke="#333" stroke-width="1"/>
<text x="316.2" y="242.4" font-size="8.4" fill="#333" stroke="#333" stroke-width="0.08" text-anchor="end" textLength="12.4" lengthAdjust="spacingAndGlyphs">1.0</text>
<line x1="332.0" y1="367.0" x2="332.0" y2="370.0" stroke="#333" stroke-width="1"/>
<text x="332.0" y="378.4" font-size="8.4" fill="#333" stroke="#333" stroke-width="0.08" text-anchor="middle" textLength="12.4" lengthAdjust="spacingAndGlyphs">0.0</text>
<line x1="371.2" y1="367.0" x2="371.2" y2="370.0" stroke="#333" stroke-width="1"/>
<text x="371.2" y="378.4" font-size="8.4" fill="#333" stroke="#333" stroke-width="0.08" text-anchor="middle" textLength="12.4" lengthAdjust="spacingAndGlyphs">0.2</text>
<line x1="410.4" y1="367.0" x2="410.4" y2="370.0" stroke="#333" stroke-width="1"/>
<text x="410.4" y="378.4" font-size="8.4" fill="#333" stroke="#333" stroke-width="0.08" text-anchor="middle" textLength="12.4" lengthAdjust="spacingAndGlyphs">0.4</text>
<line x1="449.6" y1="367.0" x2="449.6" y2="370.0" stroke="#333" stroke-width="1"/>
<text x="449.6" y="378.4" font-size="8.4" fill="#333" stroke="#333" stroke-width="0.08" text-anchor="middle" textLength="12.4" lengthAdjust="spacingAndGlyphs">0.6</text>
<line x1="488.8" y1="367.0" x2="488.8" y2="370.0" stroke="#333" stroke-width="1"/>
<text x="488.8" y="378.4" font-size="8.4" fill="#333" stroke="#333" stroke-width="0.08" text-anchor="middle" textLength="12.4" lengthAdjust="spacingAndGlyphs">0.8</text>
<line x1="528.0" y1="367.0" x2="528.0" y2="370.0" stroke="#333" stroke-width="1"/>
<text x="528.0" y="378.4" font-size="8.4" fill="#333" stroke="#333" stroke-width="0.08" text-anchor="middle" textLength="12.4" lengthAdjust="spacingAndGlyphs">1.0</text>
<path d="M332.0 238.8 L528.0 238.8 L430.0 299.8 Z" fill="none" stroke="#777" stroke-width="1.4" stroke-dasharray="4.7 2.05"/>
<use href="#pt" x="361.1" y="246.6"/><use href="#pt" x="413.9" y="258.6"/><use href="#pt" x="368.1" y="257.6"/><use href="#pt" x="395.7" y="254.7"/><use href="#pt" x="463.2" y="261.9"/><use href="#pt" x="393.7" y="269.3"/><use href="#pt" x="437.6" y="265.1"/><use href="#pt" x="443.2" y="270.1"/><use href="#pt" x="417.1" y="276.6"/><use href="#pt" x="423.7" y="248.0"/><use href="#pt" x="456.6" y="263.5"/><use href="#pt" x="436.9" y="270.2"/><use href="#pt" x="390.9" y="261.1"/><use href="#pt" x="346.1" y="242.5"/><use href="#pt" x="343.1" y="243.4"/><use href="#pt" x="386.5" y="260.3"/><use href="#pt" x="369.3" y="244.3"/><use href="#pt" x="410.8" y="251.3"/><use href="#pt" x="450.7" y="280.7"/><use href="#pt" x="436.2" y="287.9"/><use href="#pt" x="385.3" y="248.7"/><use href="#pt" x="401.5" y="260.6"/><use href="#pt" x="410.1" y="245.1"/><use href="#pt" x="395.5" y="272.3"/><use href="#pt" x="387.6" y="253.0"/><use href="#pt" x="364.5" y="244.6"/><use href="#pt" x="366.4" y="239.7"/><use href="#pt" x="403.7" y="240.1"/><use href="#pt" x="461.6" y="243.2"/><use href="#pt" x="416.7" y="247.7"/><use href="#pt" x="451.9" y="282.4"/><use href="#pt" x="454.0" y="266.8"/><use href="#pt" x="387.0" y="251.8"/><use href="#pt" x="404.8" y="273.4"/><use href="#pt" x="440.8" y="273.3"/><use href="#pt" x="447.0" y="245.4"/><use href="#pt" x="379.3" y="265.8"/><use href="#pt" x="371.7" y="261.1"/><use href="#pt" x="369.8" y="244.0"/><use href="#pt" x="415.5" y="263.2"/><use href="#pt" x="429.1" y="254.9"/><use href="#pt" x="450.2" y="250.2"/><use href="#pt" x="436.0" y="290.1"/><use href="#pt" x="430.2" y="247.3"/><use href="#pt" x="373.3" y="251.3"/><use href="#pt" x="376.6" y="264.5"/><use href="#pt" x="444.5" y="287.6"/><use href="#pt" x="392.6" y="245.0"/><use href="#pt" x="404.7" y="269.4"/><use href="#pt" x="420.3" y="266.2"/><use href="#pt" x="384.9" y="241.4"/><use href="#pt" x="418.1" y="275.6"/><use href="#pt" x="401.2" y="242.8"/><use href="#pt" x="463.8" y="268.3"/><use href="#pt" x="444.8" y="276.7"/><use href="#pt" x="456.9" y="262.2"/><use href="#pt" x="471.4" y="247.5"/><use href="#pt" x="403.4" y="252.6"/><use href="#pt" x="429.5" y="259.3"/><use href="#pt" x="467.2" y="270.7"/><use href="#pt" x="368.8" y="252.2"/><use href="#pt" x="368.2" y="252.1"/><use href="#pt" x="427.3" y="287.7"/><use href="#pt" x="421.5" y="261.0"/><use href="#pt" x="444.4" y="248.9"/><use href="#pt" x="408.4" y="262.9"/><use href="#pt" x="392.2" y="264.0"/><use href="#pt" x="478.5" y="266.4"/><use href="#pt" x="382.3" y="260.9"/><use href="#pt" x="405.0" y="249.8"/><use href="#pt" x="434.1" y="268.3"/><use href="#pt" x="368.2" y="255.6"/><use href="#pt" x="412.6" y="258.1"/><use href="#pt" x="411.3" y="274.1"/><use href="#pt" x="397.3" y="278.8"/><use href="#pt" x="408.3" y="256.1"/><use href="#pt" x="422.1" y="269.2"/><use href="#pt" x="392.4" y="273.1"/><use href="#pt" x="415.2" y="261.9"/><use href="#pt" x="391.9" y="253.8"/><use href="#pt" x="424.0" y="291.7"/><use href="#pt" x="372.1" y="241.1"/><use href="#pt" x="465.3" y="273.4"/><use href="#pt" x="399.9" y="251.5"/><use href="#pt" x="420.5" y="268.1"/><use href="#pt" x="364.5" y="246.7"/><use href="#pt" x="444.6" y="268.1"/><use href="#pt" x="445.0" y="278.8"/><use href="#pt" x="412.8" y="249.8"/><use href="#pt" x="419.5" y="267.7"/><use href="#pt" x="435.9" y="286.8"/><use href="#pt" x="441.5" y="289.1"/><use href="#pt" x="448.4" y="269.4"/><use href="#pt" x="370.1" y="251.3"/><use href="#pt" x="402.5" y="265.6"/><use href="#pt" x="458.8" y="260.1"/><use href="#pt" x="359.7" y="253.4"/><use href="#pt" x="432.2" y="272.2"/><use href="#pt" x="428.6" y="252.5"/><use href="#pt" x="411.4" y="275.9"/><use href="#pt" x="394.6" y="257.3"/><use href="#pt" x="478.0" y="259.7"/><use href="#pt" x="430.1" y="285.5"/><use href="#pt" x="379.4" y="264.9"/><use href="#pt" x="389.4" y="262.8"/><use href="#pt" x="442.9" y="246.6"/><use href="#pt" x="436.2" y="263.8"/><use href="#pt" x="403.0" y="282.6"/><use href="#pt" x="393.1" y="275.1"/><use href="#pt" x="433.1" y="262.1"/><use href="#pt" x="374.0" y="256.6"/><use href="#pt" x="425.3" y="265.8"/><use href="#pt" x="428.5" y="259.3"/><use href="#pt" x="364.9" y="258.6"/><use href="#pt" x="413.0" y="262.3"/><use href="#pt" x="433.0" y="290.4"/><use href="#pt" x="443.7" y="280.9"/><use href="#pt" x="389.1" y="260.0"/><use href="#pt" x="408.1" y="270.3"/><use href="#pt" x="425.7" y="278.4"/><use href="#pt" x="430.1" y="286.2"/><use href="#pt" x="412.7" y="252.8"/><use href="#pt" x="404.6" y="279.7"/><use href="#pt" x="413.5" y="287.6"/><use href="#pt" x="417.6" y="281.5"/><use href="#pt" x="424.9" y="257.9"/><use href="#pt" x="456.8" y="246.2"/><use href="#pt" x="396.6" y="274.3"/><use href="#pt" x="416.7" y="287.2"/><use href="#pt" x="394.4" y="254.5"/><use href="#pt" x="405.1" y="268.2"/><use href="#pt" x="352.3" y="240.6"/><use href="#pt" x="353.5" y="244.4"/><use href="#pt" x="424.5" y="242.2"/><use href="#pt" x="414.6" y="276.4"/><use href="#pt" x="433.4" y="250.6"/><use href="#pt" x="389.0" y="267.3"/><use href="#pt" x="373.7" y="259.4"/><use href="#pt" x="365.1" y="239.9"/><use href="#pt" x="448.4" y="250.7"/><use href="#pt" x="412.5" y="280.0"/><use href="#pt" x="470.7" y="246.2"/><use href="#pt" x="403.3" y="240.9"/><use href="#pt" x="403.7" y="241.2"/><use href="#pt" x="455.6" y="264.4"/><use href="#pt" x="368.3" y="246.9"/><use href="#pt" x="405.6" y="283.0"/><use href="#pt" x="449.1" y="252.8"/><use href="#pt" x="422.9" y="266.7"/><use href="#pt" x="356.1" y="247.2"/><use href="#pt" x="439.8" y="292.3"/><use href="#pt" x="398.9" y="253.4"/><use href="#pt" x="439.8" y="287.5"/><use href="#pt" x="451.9" y="267.6"/><use href="#pt" x="412.6" y="266.8"/><use href="#pt" x="436.6" y="269.9"/><use href="#pt" x="374.1" y="264.6"/><use href="#pt" x="452.2" y="263.4"/><use href="#pt" x="396.3" y="263.8"/><use href="#pt" x="408.8" y="282.1"/><use href="#pt" x="408.7" y="260.0"/><use href="#pt" x="463.7" y="274.5"/><use href="#pt" x="345.5" y="241.7"/><use href="#pt" x="367.4" y="251.9"/><use href="#pt" x="406.4" y="260.4"/><use href="#pt" x="412.1" y="240.7"/><use href="#pt" x="397.0" y="253.7"/><use href="#pt" x="406.4" y="268.0"/><use href="#pt" x="360.2" y="251.4"/><use href="#pt" x="393.7" y="255.9"/><use href="#pt" x="374.0" y="256.0"/><use href="#pt" x="472.4" y="263.1"/><use href="#pt" x="418.8" y="268.0"/><use href="#pt" x="450.6" y="276.1"/><use href="#pt" x="444.9" y="250.9"/><use href="#pt" x="445.5" y="280.9"/><use href="#pt" x="405.8" y="257.8"/><use href="#pt" x="442.7" y="257.5"/><use href="#pt" x="452.8" y="275.0"/><use href="#pt" x="438.7" y="267.4"/><use href="#pt" x="400.2" y="271.5"/><use href="#pt" x="350.1" y="245.2"/><use href="#pt" x="413.9" y="272.9"/><use href="#pt" x="416.9" y="291.1"/><use href="#pt" x="435.9" y="283.7"/><use href="#pt" x="397.9" y="261.5"/><use href="#pt" x="380.4" y="251.9"/><use href="#pt" x="410.5" y="271.0"/><use href="#pt" x="434.9" y="245.5"/><use href="#pt" x="449.5" y="275.8"/><use href="#pt" x="381.3" y="263.5"/><use href="#pt" x="439.9" y="243.6"/><use href="#pt" x="409.5" y="272.9"/><use href="#pt" x="381.3" y="249.4"/><use href="#pt" x="406.7" y="271.5"/><use href="#pt" x="339.2" y="241.2"/><use href="#pt" x="433.6" y="261.7"/><use href="#pt" x="381.0" y="255.9"/><use href="#pt" x="442.5" y="244.6"/><use href="#pt" x="351.6" y="240.7"/><use href="#pt" x="347.0" y="247.7"/><use href="#pt" x="346.9" y="242.2"/><use href="#pt" x="442.7" y="280.9"/><use href="#pt" x="382.1" y="257.2"/><use href="#pt" x="431.4" y="250.7"/><use href="#pt" x="382.5" y="269.5"/><use href="#pt" x="355.9" y="251.1"/><use href="#pt" x="442.0" y="269.9"/><use href="#pt" x="355.2" y="251.6"/><use href="#pt" x="425.5" y="281.2"/><use href="#pt" x="439.4" y="251.2"/><use href="#pt" x="377.4" y="246.2"/><use href="#pt" x="421.0" y="252.7"/><use href="#pt" x="437.9" y="278.6"/><use href="#pt" x="410.7" y="265.5"/><use href="#pt" x="449.4" y="285.2"/><use href="#pt" x="465.1" y="275.4"/><use href="#pt" x="421.5" y="270.4"/><use href="#pt" x="363.8" y="258.0"/><use href="#pt" x="426.5" y="280.6"/><use href="#pt" x="455.5" y="259.7"/><use href="#pt" x="428.4" y="245.2"/><use href="#pt" x="462.3" y="271.9"/><use href="#pt" x="392.5" y="240.2"/><use href="#pt" x="422.1" y="264.9"/><use href="#pt" x="351.7" y="241.5"/><use href="#pt" x="407.9" y="265.7"/><use href="#pt" x="426.8" y="289.0"/><use href="#pt" x="376.7" y="241.4"/><use href="#pt" x="353.4" y="240.5"/><use href="#pt" x="435.5" y="259.8"/><use href="#pt" x="440.1" y="277.6"/><use href="#pt" x="453.7" y="264.1"/><use href="#pt" x="444.4" y="283.5"/><use href="#pt" x="456.6" y="271.9"/><use href="#pt" x="429.7" y="294.7"/><use href="#pt" x="425.4" y="285.8"/><use href="#pt" x="386.1" y="241.4"/><use href="#pt" x="426.2" y="260.2"/><use href="#pt" x="427.9" y="249.8"/><use href="#pt" x="366.1" y="248.7"/><use href="#pt" x="400.5" y="270.5"/><use href="#pt" x="391.7" y="267.3"/><use href="#pt" x="425.5" y="288.2"/><use href="#pt" x="424.2" y="279.0"/><use href="#pt" x="387.2" y="249.5"/><use href="#pt" x="362.7" y="243.7"/><use href="#pt" x="381.0" y="264.6"/><use href="#pt" x="393.7" y="276.2"/><use href="#pt" x="425.0" y="288.7"/><use href="#pt" x="450.5" y="259.3"/><use href="#pt" x="375.5" y="253.0"/><use href="#pt" x="423.0" y="258.6"/><use href="#pt" x="413.4" y="258.7"/><use href="#pt" x="379.6" y="267.4"/><use href="#pt" x="359.3" y="248.3"/><use href="#pt" x="455.9" y="271.8"/><use href="#pt" x="435.6" y="283.4"/><use href="#pt" x="391.6" y="257.1"/><use href="#pt" x="440.8" y="289.9"/><use href="#pt" x="399.7" y="247.4"/><use href="#pt" x="468.8" y="272.1"/><use href="#pt" x="419.6" y="290.6"/><use href="#pt" x="415.6" y="270.3"/><use href="#pt" x="438.2" y="254.8"/><use href="#pt" x="440.4" y="278.9"/><use href="#pt" x="390.3" y="262.0"/><use href="#pt" x="392.2" y="252.1"/><use href="#pt" x="394.3" y="245.0"/><use href="#pt" x="374.6" y="246.9"/><use href="#pt" x="416.6" y="267.0"/><use href="#pt" x="367.6" y="259.3"/><use href="#pt" x="422.9" y="285.8"/><use href="#pt" x="400.8" y="261.0"/><use href="#pt" x="434.7" y="253.4"/><use href="#pt" x="407.4" y="279.7"/><use href="#pt" x="392.7" y="240.5"/><use href="#pt" x="344.7" y="240.9"/><use href="#pt" x="396.2" y="248.3"/><use href="#pt" x="401.3" y="244.2"/><use href="#pt" x="356.8" y="253.0"/><use href="#pt" x="402.3" y="268.4"/><use href="#pt" x="441.8" y="280.3"/><use href="#pt" x="406.7" y="264.2"/><use href="#pt" x="400.4" y="274.8"/><use href="#pt" x="439.9" y="263.6"/><use href="#pt" x="430.7" y="278.4"/><use href="#pt" x="443.6" y="266.2"/><use href="#pt" x="391.7" y="261.7"/><use href="#pt" x="366.1" y="254.6"/><use href="#pt" x="457.4" y="253.2"/><use href="#pt" x="431.9" y="260.2"/><use href="#pt" x="376.9" y="263.0"/><use href="#pt" x="449.6" y="262.2"/><use href="#pt" x="397.0" y="277.1"/><use href="#pt" x="394.2" y="276.0"/><use href="#pt" x="415.5" y="286.8"/><use href="#pt" x="404.4" y="262.2"/><use href="#pt" x="399.6" y="273.8"/><use href="#pt" x="418.8" y="240.8"/><use href="#pt" x="430.2" y="274.6"/><use href="#pt" x="432.5" y="264.9"/><use href="#pt" x="441.9" y="284.0"/><use href="#pt" x="407.2" y="276.9"/><use href="#pt" x="412.6" y="272.3"/><use href="#pt" x="441.1" y="275.3"/><use href="#pt" x="389.8" y="261.4"/><use href="#pt" x="470.2" y="273.3"/><use href="#pt" x="422.8" y="278.2"/><use href="#pt" x="381.6" y="251.2"/><use href="#pt" x="388.9" y="265.9"/><use href="#pt" x="452.6" y="265.5"/><use href="#pt" x="424.8" y="271.8"/><use href="#pt" x="417.8" y="282.0"/><use href="#pt" x="385.9" y="260.0"/><use href="#pt" x="412.5" y="256.5"/><use href="#pt" x="426.7" y="297.1"/><use href="#pt" x="412.4" y="279.1"/><use href="#pt" x="370.4" y="248.9"/><use href="#pt" x="431.1" y="248.5"/><use href="#pt" x="436.4" y="282.6"/><use href="#pt" x="444.2" y="283.4"/><use href="#pt" x="416.7" y="250.1"/><use href="#pt" x="373.6" y="260.4"/><use href="#pt" x="362.8" y="256.7"/><use href="#pt" x="381.0" y="246.9"/><use href="#pt" x="428.5" y="270.7"/><use href="#pt" x="391.2" y="245.7"/><use href="#pt" x="416.1" y="279.1"/><use href="#pt" x="421.3" y="267.1"/><use href="#pt" x="459.5" y="256.9"/><use href="#pt" x="360.8" y="255.9"/><use href="#pt" x="460.5" y="265.0"/><use href="#pt" x="421.0" y="260.1"/><use href="#pt" x="405.7" y="281.4"/><use href="#pt" x="427.4" y="249.7"/><use href="#pt" x="357.0" y="240.2"/><use href="#pt" x="468.9" y="253.6"/><use href="#pt" x="361.5" y="246.3"/><use href="#pt" x="442.2" y="246.4"/><use href="#pt" x="462.6" y="264.3"/><use href="#pt" x="426.3" y="291.2"/><use href="#pt" x="433.4" y="275.5"/><use href="#pt" x="407.5" y="270.1"/><use href="#pt" x="411.6" y="272.0"/><use href="#pt" x="341.4" y="241.1"/><use href="#pt" x="381.2" y="262.4"/><use href="#pt" x="477.6" y="267.3"/><use href="#pt" x="395.1" y="276.6"/><use href="#pt" x="394.2" y="252.4"/><use href="#pt" x="397.7" y="254.1"/><use href="#pt" x="417.0" y="277.7"/><use href="#pt" x="400.2" y="267.1"/><use href="#pt" x="413.8" y="284.8"/><use href="#pt" x="388.0" y="258.4"/><use href="#pt" x="400.7" y="259.9"/><use href="#pt" x="425.1" y="292.5"/><use href="#pt" x="427.8" y="289.5"/><use href="#pt" x="455.8" y="268.9"/><use href="#pt" x="394.8" y="259.1"/><use href="#pt" x="385.3" y="269.9"/><use href="#pt" x="403.5" y="261.2"/><use href="#pt" x="442.1" y="274.2"/><use href="#pt" x="387.5" y="272.5"/><use href="#pt" x="379.8" y="243.3"/><use href="#pt" x="345.4" y="240.2"/><use href="#pt" x="436.9" y="293.4"/><use href="#pt" x="405.6" y="274.5"/><use href="#pt" x="429.0" y="254.0"/><use href="#pt" x="375.4" y="247.9"/><use href="#pt" x="446.0" y="252.2"/><use href="#pt" x="390.9" y="255.7"/><use href="#pt" x="413.9" y="277.5"/><use href="#pt" x="397.4" y="276.0"/><use href="#pt" x="353.3" y="241.5"/><use href="#pt" x="401.3" y="252.7"/><use href="#pt" x="448.1" y="281.6"/><use href="#pt" x="364.1" y="240.2"/><use href="#pt" x="431.4" y="278.3"/><use href="#pt" x="467.8" y="254.2"/><use href="#pt" x="410.2" y="245.3"/><use href="#pt" x="341.9" y="244.1"/><use href="#pt" x="460.1" y="269.4"/><use href="#pt" x="385.7" y="253.5"/><use href="#pt" x="436.6" y="289.9"/><use href="#pt" x="421.9" y="256.1"/><use href="#pt" x="399.4" y="274.9"/><use href="#pt" x="445.2" y="255.1"/><use href="#pt" x="350.9" y="247.9"/><use href="#pt" x="361.9" y="240.0"/><use href="#pt" x="394.6" y="241.8"/><use href="#pt" x="423.2" y="267.3"/><use href="#pt" x="439.4" y="274.1"/><use href="#pt" x="410.8" y="286.1"/><use href="#pt" x="465.3" y="275.9"/><use href="#pt" x="399.1" y="275.8"/><use href="#pt" x="448.2" y="285.7"/><use href="#pt" x="411.5" y="254.2"/><use href="#pt" x="409.9" y="255.8"/><use href="#pt" x="459.1" y="275.8"/><use href="#pt" x="486.2" y="257.7"/><use href="#pt" x="422.2" y="283.3"/><use href="#pt" x="378.4" y="249.8"/><use href="#pt" x="396.3" y="273.7"/><use href="#pt" x="389.5" y="269.7"/><use href="#pt" x="451.9" y="279.7"/><use href="#pt" x="427.1" y="250.9"/><use href="#pt" x="443.3" y="253.2"/><use href="#pt" x="410.6" y="282.6"/><use href="#pt" x="386.9" y="265.6"/><use href="#pt" x="426.0" y="294.0"/><use href="#pt" x="361.7" y="245.0"/><use href="#pt" x="458.1" y="261.6"/><use href="#pt" x="349.4" y="244.3"/><use href="#pt" x="384.2" y="242.1"/><use href="#pt" x="460.3" y="264.4"/><use href="#pt" x="368.2" y="259.1"/><use href="#pt" x="358.0" y="245.6"/><use href="#pt" x="427.7" y="265.4"/><use href="#pt" x="430.3" y="258.3"/><use href="#pt" x="423.9" y="271.0"/><use href="#pt" x="375.4" y="242.0"/><use href="#pt" x="407.8" y="277.3"/><use href="#pt" x="470.2" y="270.9"/><use href="#pt" x="420.6" y="265.2"/><use href="#pt" x="395.0" y="260.4"/><use href="#pt" x="399.5" y="272.6"/><use href="#pt" x="426.2" y="256.8"/><use href="#pt" x="383.1" y="251.0"/><use href="#pt" x="484.9" y="263.6"/><use href="#pt" x="421.7" y="271.2"/><use href="#pt" x="409.7" y="279.7"/><use href="#pt" x="448.9" y="260.3"/><use href="#pt" x="389.6" y="257.1"/><use href="#pt" x="396.5" y="269.4"/><use href="#pt" x="440.4" y="259.0"/><use href="#pt" x="445.9" y="270.0"/><use href="#pt" x="406.9" y="243.6"/><use href="#pt" x="426.8" y="292.5"/><use href="#pt" x="404.2" y="280.3"/><use href="#pt" x="402.5" y="250.1"/><use href="#pt" x="452.7" y="283.4"/><use href="#pt" x="351.8" y="241.9"/><use href="#pt" x="433.3" y="269.3"/><use href="#pt" x="424.9" y="263.6"/><use href="#pt" x="444.1" y="278.3"/><use href="#pt" x="354.0" y="249.2"/><use href="#pt" x="455.1" y="280.0"/><use href="#pt" x="348.2" y="244.9"/><use href="#pt" x="368.6" y="245.1"/><use href="#pt" x="455.2" y="256.5"/><use href="#pt" x="437.8" y="293.2"/><use href="#pt" x="446.6" y="265.6"/><use href="#pt" x="431.9" y="268.5"/><use href="#pt" x="409.1" y="285.7"/><use href="#pt" x="408.2" y="252.4"/><use href="#pt" x="466.3" y="265.9"/><use href="#pt" x="448.2" y="254.3"/><use href="#pt" x="473.9" y="263.2"/><use href="#pt" x="397.4" y="242.4"/><use href="#pt" x="445.0" y="256.2"/><use href="#pt" x="438.9" y="266.5"/><use href="#pt" x="427.4" y="288.0"/><use href="#pt" x="436.5" y="290.0"/><use href="#pt" x="480.2" y="262.7"/><use href="#pt" x="363.4" y="251.4"/><use href="#pt" x="382.7" y="263.2"/><use href="#pt" x="445.6" y="264.9"/><use href="#pt" x="452.2" y="270.9"/><use href="#pt" x="413.8" y="268.7"/><use href="#pt" x="436.8" y="270.6"/><use href="#pt" x="385.6" y="242.6"/><use href="#pt" x="462.7" y="271.0"/><use href="#pt" x="388.8" y="273.3"/><use href="#pt" x="420.4" y="276.7"/><use href="#pt" x="401.8" y="278.0"/><use href="#pt" x="363.9" y="257.2"/><use href="#pt" x="445.2" y="285.0"/><use href="#pt" x="422.2" y="287.7"/><use href="#pt" x="388.1" y="245.3"/><use href="#pt" x="414.3" y="287.2"/><use href="#pt" x="360.7" y="243.5"/><use href="#pt" x="394.4" y="242.3"/><use href="#pt" x="431.4" y="279.9"/><use href="#pt" x="422.3" y="282.7"/><use href="#pt" x="452.2" y="259.4"/><use href="#pt" x="385.4" y="245.1"/><use href="#pt" x="406.8" y="258.5"/><use href="#pt" x="403.4" y="267.0"/><use href="#pt" x="400.2" y="253.9"/><use href="#pt" x="370.3" y="247.1"/><use href="#pt" x="374.5" y="243.6"/><use href="#pt" x="418.9" y="264.5"/><use href="#pt" x="421.9" y="276.4"/><use href="#pt" x="425.7" y="268.5"/><use href="#pt" x="438.4" y="289.6"/><use href="#pt" x="358.7" y="248.6"/><use href="#pt" x="457.1" y="259.1"/><use href="#pt" x="416.5" y="280.4"/><use href="#pt" x="442.4" y="267.7"/><use href="#pt" x="342.9" y="242.9"/><use href="#pt" x="445.8" y="276.7"/><use href="#pt" x="384.6" y="264.0"/><use href="#pt" x="416.0" y="246.9"/><use href="#pt" x="423.3" y="260.8"/><use href="#pt" x="417.5" y="286.2"/><use href="#pt" x="393.4" y="240.4"/><use href="#pt" x="430.5" y="293.6"/><use href="#pt" x="418.4" y="286.0"/><use href="#pt" x="390.2" y="274.3"/><use href="#pt" x="373.3" y="243.7"/><use href="#pt" x="410.2" y="281.8"/><use href="#pt" x="353.3" y="242.9"/><use href="#pt" x="418.8" y="240.8"/><use href="#pt" x="462.4" y="249.0"/><use href="#pt" x="371.4" y="257.0"/><use href="#pt" x="348.2" y="243.4"/><use href="#pt" x="389.1" y="247.3"/><use href="#pt" x="426.1" y="251.8"/><use href="#pt" x="461.3" y="272.9"/><use href="#pt" x="399.9" y="241.6"/><use href="#pt" x="428.0" y="270.8"/><use href="#pt" x="352.5" y="244.1"/><use href="#pt" x="406.8" y="249.0"/><use href="#pt" x="438.0" y="290.7"/><use href="#pt" x="440.0" y="278.8"/><use href="#pt" x="429.2" y="293.9"/><use href="#pt" x="366.6" y="251.8"/><use href="#pt" x="377.2" y="259.4"/><use href="#pt" x="461.5" y="272.0"/><use href="#pt" x="429.8" y="273.8"/><use href="#pt" x="418.8" y="274.5"/><use href="#pt" x="469.1" y="254.1"/><use href="#pt" x="447.1" y="277.7"/><use href="#pt" x="353.1" y="246.4"/><use href="#pt" x="384.2" y="244.3"/><use href="#pt" x="410.7" y="266.0"/><use href="#pt" x="410.9" y="257.7"/><use href="#pt" x="422.2" y="292.4"/><use href="#pt" x="413.7" y="245.4"/><use href="#pt" x="356.6" y="249.9"/><use href="#pt" x="424.0" y="275.8"/><use href="#pt" x="403.9" y="281.0"/><use href="#pt" x="378.9" y="249.9"/><use href="#pt" x="427.2" y="277.5"/><use href="#pt" x="368.4" y="249.0"/><use href="#pt" x="445.8" y="273.5"/><use href="#pt" x="401.5" y="278.1"/><use href="#pt" x="415.1" y="281.1"/><use href="#pt" x="433.6" y="288.6"/><use href="#pt" x="340.3" y="240.6"/><use href="#pt" x="409.9" y="248.0"/><use href="#pt" x="425.4" y="278.7"/><use href="#pt" x="443.4" y="288.5"/><use href="#pt" x="353.7" y="249.6"/><use href="#pt" x="439.7" y="263.2"/><use href="#pt" x="376.4" y="263.2"/><use href="#pt" x="421.1" y="268.9"/><use href="#pt" x="384.9" y="271.1"/><use href="#pt" x="406.7" y="248.5"/><use href="#pt" x="376.0" y="240.0"/><use href="#pt" x="387.5" y="272.5"/><use href="#pt" x="384.9" y="254.7"/><use href="#pt" x="405.0" y="267.5"/><use href="#pt" x="339.8" y="240.4"/><use href="#pt" x="379.1" y="260.4"/><use href="#pt" x="430.5" y="267.9"/><use href="#pt" x="437.8" y="281.0"/><use href="#pt" x="378.0" y="264.1"/><use href="#pt" x="426.6" y="290.0"/><use href="#pt" x="461.6" y="268.9"/><use href="#pt" x="409.2" y="244.3"/><use href="#pt" x="432.9" y="261.4"/><use href="#pt" x="354.8" y="240.5"/><use href="#pt" x="372.3" y="256.1"/><use href="#pt" x="351.2" y="240.9"/><use href="#pt" x="387.4" y="242.7"/><use href="#pt" x="357.7" y="242.5"/><use href="#pt" x="357.4" y="242.5"/><use href="#pt" x="393.9" y="252.6"/><use href="#pt" x="423.3" y="266.2"/><use href="#pt" x="414.5" y="283.5"/><use href="#pt" x="391.0" y="269.5"/><use href="#pt" x="382.8" y="265.0"/><use href="#pt" x="414.6" y="249.0"/><use href="#pt" x="374.2" y="240.6"/><use href="#pt" x="410.5" y="278.9"/><use href="#pt" x="469.0" y="263.7"/><use href="#pt" x="417.1" y="259.2"/><use href="#pt" x="399.8" y="242.6"/><use href="#pt" x="439.8" y="284.1"/><use href="#pt" x="484.3" y="250.7"/><use href="#pt" x="389.5" y="272.7"/><use href="#pt" x="384.1" y="269.3"/><use href="#pt" x="376.8" y="250.9"/><use href="#pt" x="436.6" y="261.4"/><use href="#pt" x="438.9" y="255.4"/><use href="#pt" x="427.1" y="266.5"/><use href="#pt" x="374.2" y="242.2"/><use href="#pt" x="411.7" y="257.9"/><use href="#pt" x="442.7" y="253.3"/><use href="#pt" x="396.5" y="259.9"/><use href="#pt" x="411.4" y="242.4"/><use href="#pt" x="389.4" y="268.4"/><use href="#pt" x="406.5" y="251.8"/><use href="#pt" x="374.9" y="263.4"/><use href="#pt" x="381.7" y="254.5"/><use href="#pt" x="376.6" y="246.3"/><use href="#pt" x="424.1" y="283.6"/><use href="#pt" x="376.3" y="247.7"/><use href="#pt" x="445.9" y="243.4"/><use href="#pt" x="380.8" y="263.0"/><use href="#pt" x="472.7" y="258.2"/><use href="#pt" x="402.9" y="279.0"/><use href="#pt" x="436.4" y="249.2"/><use href="#pt" x="395.7" y="257.8"/><use href="#pt" x="415.6" y="271.1"/><use href="#pt" x="440.1" y="272.3"/><use href="#pt" x="349.0" y="242.3"/><use href="#pt" x="436.2" y="286.9"/><use href="#pt" x="373.3" y="254.4"/><use href="#pt" x="352.6" y="240.0"/><use href="#pt" x="373.8" y="258.4"/><use href="#pt" x="415.0" y="263.4"/><use href="#pt" x="374.1" y="259.6"/><use href="#pt" x="459.0" y="263.8"/><use href="#pt" x="453.2" y="274.6"/><use href="#pt" x="420.2" y="255.1"/><use href="#pt" x="390.4" y="266.2"/><use href="#pt" x="452.9" y="266.0"/><use href="#pt" x="441.7" y="271.6"/><use href="#pt" x="370.7" y="239.9"/><use href="#pt" x="427.2" y="260.6"/><use href="#pt" x="446.1" y="285.0"/><use href="#pt" x="378.9" y="262.9"/><use href="#pt" x="357.8" y="242.9"/><use href="#pt" x="438.6" y="283.1"/><use href="#pt" x="420.7" y="251.3"/><use href="#pt" x="422.3" y="276.2"/><use href="#pt" x="392.3" y="258.1"/><use href="#pt" x="431.1" y="276.6"/><use href="#pt" x="443.3" y="288.0"/><use href="#pt" x="422.0" y="290.8"/><use href="#pt" x="411.2" y="276.1"/><use href="#pt" x="386.6" y="247.3"/><use href="#pt" x="411.3" y="281.0"/><use href="#pt" x="393.0" y="264.3"/><use href="#pt" x="444.1" y="282.7"/><use href="#pt" x="442.5" y="264.7"/><use href="#pt" x="404.8" y="253.4"/><use href="#pt" x="441.0" y="253.1"/><use href="#pt" x="392.4" y="258.0"/><use href="#pt" x="419.8" y="249.6"/><use href="#pt" x="399.6" y="273.6"/><use href="#pt" x="411.0" y="269.5"/><use href="#pt" x="405.1" y="281.9"/><use href="#pt" x="365.2" y="258.4"/><use href="#pt" x="454.0" y="270.1"/><use href="#pt" x="458.8" y="272.3"/><use href="#pt" x="433.3" y="276.6"/><use href="#pt" x="400.3" y="271.1"/><use href="#pt" x="385.1" y="268.5"/><use href="#pt" x="410.2" y="270.9"/><use href="#pt" x="379.5" y="241.3"/><use href="#pt" x="396.5" y="269.2"/><use href="#pt" x="393.0" y="249.5"/><use href="#pt" x="424.8" y="243.6"/><use href="#pt" x="359.1" y="255.1"/><use href="#pt" x="443.6" y="256.2"/><use href="#pt" x="438.4" y="260.3"/><use href="#pt" x="347.6" y="239.7"/><use href="#pt" x="435.2" y="256.6"/><use href="#pt" x="402.2" y="268.3"/><use href="#pt" x="428.9" y="254.5"/><use href="#pt" x="456.5" y="281.9"/><use href="#pt" x="400.2" y="248.8"/><use href="#pt" x="359.5" y="245.3"/><use href="#pt" x="428.9" y="239.9"/><use href="#pt" x="384.3" y="266.7"/><use href="#pt" x="379.7" y="251.7"/><use href="#pt" x="431.5" y="249.8"/><use href="#pt" x="394.3" y="274.8"/><use href="#pt" x="440.4" y="254.1"/><use href="#pt" x="432.9" y="296.6"/><use href="#pt" x="380.6" y="245.6"/><use href="#pt" x="338.4" y="241.2"/><use href="#pt" x="399.8" y="275.3"/><use href="#pt" x="428.7" y="291.2"/><use href="#pt" x="412.0" y="252.8"/><use href="#pt" x="347.4" y="247.3"/><use href="#pt" x="357.9" y="254.1"/><use href="#pt" x="356.0" y="252.3"/><use href="#pt" x="359.0" y="248.0"/><use href="#pt" x="463.6" y="276.8"/><use href="#pt" x="444.1" y="279.4"/><use href="#pt" x="414.7" y="272.7"/><use href="#pt" x="447.5" y="261.5"/><use href="#pt" x="476.3" y="256.7"/><use href="#pt" x="375.8" y="247.4"/><use href="#pt" x="453.0" y="275.6"/><use href="#pt" x="422.2" y="267.5"/><use href="#pt" x="461.5" y="263.2"/><use href="#pt" x="477.7" y="266.9"/><use href="#pt" x="454.0" y="252.1"/><use href="#pt" x="400.8" y="275.4"/><use href="#pt" x="381.5" y="245.8"/><use href="#pt" x="413.8" y="262.5"/><use href="#pt" x="364.3" y="240.0"/><use href="#pt" x="422.6" y="251.6"/><use href="#pt" x="439.2" y="292.3"/><use href="#pt" x="416.7" y="255.1"/><use href="#pt" x="401.1" y="266.8"/><use href="#pt" x="401.4" y="252.4"/><use href="#pt" x="432.0" y="250.7"/><use href="#pt" x="442.7" y="277.4"/><use href="#pt" x="420.5" y="282.2"/><use href="#pt" x="381.9" y="240.8"/><use href="#pt" x="408.1" y="273.5"/><use href="#pt" x="385.2" y="259.3"/><use href="#pt" x="388.8" y="272.7"/><use href="#pt" x="378.5" y="248.2"/><use href="#pt" x="401.9" y="267.7"/><use href="#pt" x="441.9" y="244.9"/><use href="#pt" x="344.4" y="240.1"/><use href="#pt" x="425.8" y="244.3"/><use href="#pt" x="448.4" y="242.7"/><use href="#pt" x="421.6" y="266.6"/><use href="#pt" x="346.9" y="241.6"/><use href="#pt" x="418.8" y="268.9"/><use href="#pt" x="361.2" y="252.1"/><use href="#pt" x="392.1" y="261.9"/><use href="#pt" x="404.7" y="266.9"/><use href="#pt" x="411.1" y="252.0"/><use href="#pt" x="364.8" y="253.3"/><use href="#pt" x="445.0" y="247.7"/><use href="#pt" x="405.4" y="246.7"/><use href="#pt" x="440.4" y="278.4"/><use href="#pt" x="414.9" y="243.0"/><use href="#pt" x="377.6" y="244.6"/><use href="#pt" x="406.7" y="275.3"/><use href="#pt" x="393.4" y="264.6"/><use href="#pt" x="419.8" y="284.8"/><use href="#pt" x="397.6" y="265.8"/><use href="#pt" x="389.4" y="244.5"/><use href="#pt" x="394.8" y="253.3"/><use href="#pt" x="341.5" y="239.8"/><use href="#pt" x="416.3" y="274.7"/><use href="#pt" x="428.5" y="245.3"/><use href="#pt" x="386.3" y="262.8"/><use href="#pt" x="384.9" y="260.2"/><use href="#pt" x="353.3" y="239.8"/><use href="#pt" x="411.6" y="275.0"/><use href="#pt" x="404.3" y="275.2"/><use href="#pt" x="434.3" y="267.6"/><use href="#pt" x="362.2" y="257.2"/><use href="#pt" x="403.6" y="259.2"/><use href="#pt" x="463.3" y="266.4"/><use href="#pt" x="440.4" y="264.8"/><use href="#pt" x="405.6" y="263.5"/><use href="#pt" x="433.0" y="273.5"/><use href="#pt" x="457.3" y="259.6"/><use href="#pt" x="425.3" y="289.2"/><use href="#pt" x="434.8" y="294.9"/><use href="#pt" x="425.0" y="291.9"/><use href="#pt" x="400.2" y="242.5"/><use href="#pt" x="431.0" y="267.0"/><use href="#pt" x="372.9" y="254.4"/><use href="#pt" x="446.2" y="282.3"/><use href="#pt" x="450.5" y="267.9"/><use href="#pt" x="438.2" y="272.7"/><use href="#pt" x="369.1" y="255.6"/><use href="#pt" x="369.2" y="244.1"/><use href="#pt" x="447.5" y="278.3"/><use href="#pt" x="393.2" y="268.1"/><use href="#pt" x="440.8" y="253.4"/><use href="#pt" x="418.2" y="251.8"/><use href="#pt" x="413.7" y="263.5"/><use href="#pt" x="424.9" y="244.7"/><use href="#pt" x="365.1" y="245.0"/><use href="#pt" x="406.9" y="250.2"/><use href="#pt" x="415.7" y="261.1"/><use href="#pt" x="435.4" y="274.1"/><use href="#pt" x="382.0" y="262.4"/><use href="#pt" x="450.4" y="255.7"/><use href="#pt" x="429.7" y="296.6"/><use href="#pt" x="409.4" y="259.9"/><use href="#pt" x="378.9" y="248.5"/><use href="#pt" x="413.0" y="266.5"/><use href="#pt" x="387.5" y="261.8"/><use href="#pt" x="410.7" y="278.6"/><use href="#pt" x="415.7" y="280.0"/><use href="#pt" x="412.4" y="252.3"/><use href="#pt" x="398.0" y="245.1"/><use href="#pt" x="477.6" y="267.6"/><use href="#pt" x="402.4" y="274.8"/><use href="#pt" x="439.4" y="280.5"/><use href="#pt" x="408.1" y="249.6"/><use href="#pt" x="403.0" y="277.8"/><use href="#pt" x="388.2" y="258.8"/><use href="#pt" x="402.3" y="261.1"/><use href="#pt" x="454.3" y="255.3"/><use href="#pt" x="418.5" y="288.0"/><use href="#pt" x="422.7" y="267.1"/><use href="#pt" x="432.4" y="284.5"/><use href="#pt" x="428.5" y="277.0"/><use href="#pt" x="362.0" y="240.5"/><use href="#pt" x="414.6" y="268.5"/><use href="#pt" x="413.7" y="284.5"/><use href="#pt" x="462.6" y="277.7"/><use href="#pt" x="436.7" y="284.5"/><use href="#pt" x="415.4" y="280.6"/><use href="#pt" x="348.1" y="240.1"/><use href="#pt" x="382.4" y="241.3"/><use href="#pt" x="361.7" y="244.0"/><use href="#pt" x="421.3" y="265.4"/><use href="#pt" x="387.9" y="262.7"/><use href="#pt" x="361.5" y="252.7"/><use href="#pt" x="440.5" y="252.2"/><use href="#pt" x="461.0" y="272.5"/><use href="#pt" x="421.1" y="278.3"/><use href="#pt" x="373.1" y="241.7"/><use href="#pt" x="463.2" y="271.8"/><use href="#pt" x="397.9" y="271.1"/><use href="#pt" x="402.5" y="275.7"/><use href="#pt" x="438.0" y="270.0"/><use href="#pt" x="401.9" y="274.3"/><use href="#pt" x="377.3" y="253.8"/><use href="#pt" x="443.4" y="285.1"/><use href="#pt" x="428.5" y="259.9"/><use href="#pt" x="362.1" y="242.1"/><use href="#pt" x="433.8" y="288.6"/><use href="#pt" x="425.6" y="287.9"/><use href="#pt" x="396.6" y="273.7"/><use href="#pt" x="419.5" y="268.3"/><use href="#pt" x="444.3" y="287.0"/><use href="#pt" x="424.2" y="273.5"/><use href="#pt" x="426.1" y="287.5"/><use href="#pt" x="406.7" y="244.8"/><use href="#pt" x="360.9" y="247.9"/><use href="#pt" x="432.5" y="251.1"/><use href="#pt" x="373.2" y="250.3"/><use href="#pt" x="406.9" y="268.7"/><use href="#pt" x="453.5" y="280.2"/><use href="#pt" x="428.6" y="296.3"/><use href="#pt" x="370.2" y="252.4"/><use href="#pt" x="464.4" y="260.2"/><use href="#pt" x="448.3" y="286.6"/><use href="#pt" x="363.3" y="255.1"/><use href="#pt" x="461.9" y="274.0"/><use href="#pt" x="417.1" y="288.5"/><use href="#pt" x="406.0" y="241.5"/><use href="#pt" x="382.9" y="260.6"/><use href="#pt" x="369.7" y="255.5"/><use href="#pt" x="406.6" y="263.8"/><use href="#pt" x="402.9" y="276.9"/><use href="#pt" x="412.9" y="277.2"/><use href="#pt" x="453.1" y="281.0"/><use href="#pt" x="382.6" y="267.5"/><use href="#pt" x="411.9" y="261.7"/><use href="#pt" x="406.6" y="271.1"/><use href="#pt" x="412.5" y="283.8"/><use href="#pt" x="412.4" y="257.6"/><use href="#pt" x="452.0" y="263.3"/><use href="#pt" x="388.6" y="244.4"/><use href="#pt" x="373.6" y="245.5"/><use href="#pt" x="430.8" y="277.2"/><use href="#pt" x="357.0" y="251.7"/><use href="#pt" x="420.5" y="260.7"/><use href="#pt" x="365.2" y="257.1"/><use href="#pt" x="420.3" y="292.3"/><use href="#pt" x="438.7" y="260.0"/><use href="#pt" x="406.3" y="273.1"/><use href="#pt" x="358.6" y="242.0"/><use href="#pt" x="406.8" y="243.7"/><use href="#pt" x="446.2" y="264.3"/><use href="#pt" x="453.3" y="278.6"/><use href="#pt" x="400.0" y="275.5"/><use href="#pt" x="426.5" y="273.2"/><use href="#pt" x="413.3" y="275.2"/><use href="#pt" x="371.7" y="260.7"/><use href="#pt" x="384.0" y="263.8"/><use href="#pt" x="391.6" y="269.1"/><use href="#pt" x="436.2" y="279.7"/><use href="#pt" x="425.0" y="293.5"/><use href="#pt" x="371.9" y="261.7"/><use href="#pt" x="440.3" y="276.9"/><use href="#pt" x="420.8" y="258.6"/><use href="#pt" x="365.0" y="259.0"/><use href="#pt" x="444.1" y="272.3"/><use href="#pt" x="410.6" y="241.5"/><use href="#pt" x="408.0" y="244.7"/><use href="#pt" x="371.3" y="262.5"/><use href="#pt" x="387.6" y="266.9"/><use href="#pt" x="386.1" y="250.7"/><use href="#pt" x="394.8" y="262.4"/><use href="#pt" x="413.4" y="253.2"/><use href="#pt" x="407.5" y="248.4"/><use href="#pt" x="380.5" y="255.3"/><use href="#pt" x="433.7" y="283.9"/><use href="#pt" x="414.2" y="256.4"/><use href="#pt" x="368.1" y="244.5"/><use href="#pt" x="388.9" y="269.8"/><use href="#pt" x="396.4" y="252.9"/><use href="#pt" x="417.3" y="262.0"/><use href="#pt" x="414.0" y="268.2"/><use href="#pt" x="443.5" y="255.5"/><use href="#pt" x="465.4" y="269.1"/><use href="#pt" x="405.7" y="247.4"/><use href="#pt" x="418.7" y="268.1"/><use href="#pt" x="464.2" y="250.9"/><use href="#pt" x="428.3" y="281.5"/><use href="#pt" x="460.6" y="272.1"/><use href="#pt" x="374.3" y="262.1"/><use href="#pt" x="437.3" y="263.8"/><use href="#pt" x="457.5" y="271.8"/><use href="#pt" x="402.1" y="250.3"/><use href="#pt" x="418.4" y="266.3"/><use href="#pt" x="413.7" y="277.4"/><use href="#pt" x="398.1" y="257.7"/><use href="#pt" x="412.5" y="266.1"/><use href="#pt" x="403.2" y="242.9"/><use href="#pt" x="435.3" y="284.9"/><use href="#pt" x="451.7" y="262.3"/><use href="#pt" x="414.7" y="285.0"/><use href="#pt" x="399.0" y="245.0"/><use href="#pt" x="384.8" y="267.0"/><use href="#pt" x="369.4" y="259.8"/><use href="#pt" x="450.9" y="273.3"/><use href="#pt" x="439.6" y="250.6"/><use href="#pt" x="449.0" y="271.0"/><use href="#pt" x="409.9" y="286.7"/><use href="#pt" x="391.6" y="251.1"/><use href="#pt" x="397.6" y="274.2"/><use href="#pt" x="394.1" y="267.3"/><use href="#pt" x="344.2" y="244.9"/><use href="#pt" x="447.9" y="281.3"/><use href="#pt" x="414.2" y="271.9"/><use href="#pt" x="410.8" y="269.1"/><use href="#pt" x="449.7" y="281.2"/><use href="#pt" x="425.9" y="287.3"/><use href="#pt" x="414.8" y="284.4"/><use href="#pt" x="413.3" y="285.9"/><use href="#pt" x="386.7" y="243.3"/><use href="#pt" x="414.7" y="287.2"/><use href="#pt" x="355.0" y="250.9"/><use href="#pt" x="468.8" y="273.2"/><use href="#pt" x="390.1" y="258.0"/><use href="#pt" x="386.9" y="244.2"/><use href="#pt" x="441.1" y="284.6"/><use href="#pt" x="391.6" y="255.8"/><use href="#pt" x="435.3" y="294.6"/><use href="#pt" x="408.1" y="278.4"/><use href="#pt" x="463.9" y="265.7"/><use href="#pt" x="374.4" y="241.9"/><use href="#pt" x="416.7" y="262.7"/><use href="#pt" x="390.6" y="245.9"/><use href="#pt" x="341.1" y="240.9"/><use href="#pt" x="397.4" y="276.5"/><use href="#pt" x="341.1" y="242.2"/><use href="#pt" x="386.6" y="264.1"/><use href="#pt" x="385.4" y="270.3"/><use href="#pt" x="339.1" y="241.1"/><use href="#pt" x="448.6" y="277.9"/><use href="#pt" x="421.8" y="293.5"/><use href="#pt" x="413.3" y="266.7"/><use href="#pt" x="448.0" y="269.8"/><use href="#pt" x="421.2" y="265.0"/><use href="#pt" x="408.9" y="279.8"/><use href="#pt" x="420.2" y="257.4"/><use href="#pt" x="355.3" y="249.0"/><use href="#pt" x="378.1" y="249.9"/><use href="#pt" x="449.7" y="262.2"/><use href="#pt" x="418.6" y="284.3"/><use href="#pt" x="409.3" y="242.4"/><use href="#pt" x="379.9" y="263.7"/><use href="#pt" x="415.4" y="268.0"/><use href="#pt" x="428.5" y="280.4"/><use href="#pt" x="401.8" y="247.6"/><use href="#pt" x="412.8" y="284.4"/><use href="#pt" x="398.0" y="279.2"/><use href="#pt" x="398.5" y="254.0"/><use href="#pt" x="431.7" y="270.4"/><use href="#pt" x="376.8" y="257.1"/><use href="#pt" x="457.0" y="273.1"/><use href="#pt" x="379.6" y="258.9"/><use href="#pt" x="420.6" y="246.8"/><use href="#pt" x="391.9" y="258.0"/><use href="#pt" x="394.7" y="266.5"/><use href="#pt" x="405.0" y="252.9"/><use href="#pt" x="367.3" y="247.7"/><use href="#pt" x="432.3" y="259.5"/><use href="#pt" x="385.6" y="259.8"/><use href="#pt" x="443.8" y="255.4"/><use href="#pt" x="436.6" y="259.0"/><use href="#pt" x="380.7" y="267.9"/><use href="#pt" x="408.6" y="262.8"/><use href="#pt" x="406.5" y="265.5"/><use href="#pt" x="388.0" y="269.6"/><use href="#pt" x="439.0" y="269.5"/><use href="#pt" x="457.0" y="280.0"/><use href="#pt" x="405.2" y="262.5"/><use href="#pt" x="386.4" y="255.3"/><use href="#pt" x="440.4" y="255.4"/><use href="#pt" x="437.2" y="293.6"/><use href="#pt" x="379.7" y="253.7"/><use href="#pt" x="441.7" y="253.6"/><use href="#pt" x="427.5" y="292.9"/><use href="#pt" x="381.5" y="244.9"/><use href="#pt" x="383.3" y="265.5"/><use href="#pt" x="348.1" y="244.1"/><use href="#pt" x="431.3" y="273.0"/><use href="#pt" x="418.5" y="281.9"/><use href="#pt" x="438.2" y="281.0"/><use href="#pt" x="381.0" y="252.3"/><use href="#pt" x="412.4" y="264.8"/><use href="#pt" x="352.5" y="251.0"/><use href="#pt" x="406.0" y="243.1"/><use href="#pt" x="383.0" y="265.0"/><use href="#pt" x="380.0" y="248.1"/><use href="#pt" x="433.7" y="256.8"/><use href="#pt" x="390.6" y="271.2"/><use href="#pt" x="418.3" y="249.5"/><use href="#pt" x="435.2" y="278.3"/><use href="#pt" x="429.2" y="297.1"/><use href="#pt" x="357.3" y="253.7"/><use href="#pt" x="345.3" y="244.6"/><use href="#pt" x="410.9" y="260.7"/><use href="#pt" x="453.9" y="252.2"/><use href="#pt" x="405.8" y="255.6"/><use href="#pt" x="439.6" y="291.3"/><use href="#pt" x="416.8" y="243.1"/><use href="#pt" x="370.6" y="261.6"/><use href="#pt" x="400.6" y="251.6"/><use href="#pt" x="436.2" y="273.0"/><use href="#pt" x="428.7" y="265.7"/><use href="#pt" x="425.6" y="259.9"/><use href="#pt" x="404.5" y="248.7"/><use href="#pt" x="401.3" y="274.4"/><use href="#pt" x="380.1" y="250.7"/><use href="#pt" x="422.5" y="267.6"/><use href="#pt" x="437.1" y="279.1"/><use href="#pt" x="399.9" y="254.4"/><use href="#pt" x="460.2" y="262.6"/><use href="#pt" x="429.5" y="252.4"/><use href="#pt" x="447.2" y="251.2"/><use href="#pt" x="445.1" y="268.3"/><use href="#pt" x="366.3" y="257.1"/><use href="#pt" x="398.8" y="270.6"/><use href="#pt" x="415.3" y="278.9"/><use href="#pt" x="424.5" y="277.6"/><use href="#pt" x="407.6" y="262.9"/><use href="#pt" x="474.5" y="268.7"/><use href="#pt" x="403.6" y="280.3"/><use href="#pt" x="424.3" y="264.5"/><use href="#pt" x="382.7" y="263.9"/><use href="#pt" x="390.6" y="242.8"/><use href="#pt" x="402.2" y="264.4"/><use href="#pt" x="365.7" y="249.4"/><use href="#pt" x="477.3" y="269.0"/><use href="#pt" x="426.6" y="252.6"/><use href="#pt" x="388.3" y="261.6"/><use href="#pt" x="376.3" y="243.8"/><use href="#pt" x="363.4" y="255.9"/><use href="#pt" x="431.7" y="275.0"/><use href="#pt" x="352.2" y="243.6"/><use href="#pt" x="400.2" y="265.0"/><use href="#pt" x="414.2" y="287.8"/><use href="#pt" x="393.3" y="253.1"/><use href="#pt" x="416.2" y="283.0"/><use href="#pt" x="366.2" y="249.4"/><use href="#pt" x="454.5" y="253.0"/><use href="#pt" x="376.7" y="249.0"/><use href="#pt" x="421.0" y="280.3"/><use href="#pt" x="423.4" y="260.2"/><use href="#pt" x="379.8" y="260.1"/><use href="#pt" x="417.0" y="287.5"/><use href="#pt" x="434.0" y="240.6"/><use href="#pt" x="428.4" y="243.9"/><use href="#pt" x="403.5" y="266.7"/><use href="#pt" x="391.5" y="242.9"/><use href="#pt" x="445.0" y="266.2"/><use href="#pt" x="438.9" y="259.9"/><use href="#pt" x="379.3" y="266.1"/><use href="#pt" x="344.2" y="243.2"/><use href="#pt" x="470.5" y="262.4"/><use href="#pt" x="432.2" y="290.3"/><use href="#pt" x="407.6" y="255.4"/><use href="#pt" x="395.5" y="272.2"/><use href="#pt" x="448.0" y="264.8"/><use href="#pt" x="444.4" y="269.9"/><use href="#pt" x="454.3" y="275.2"/><use href="#pt" x="389.4" y="266.7"/><use href="#pt" x="347.6" y="247.8"/><use href="#pt" x="449.4" y="284.9"/><use href="#pt" x="372.1" y="260.6"/><use href="#pt" x="456.8" y="264.0"/><use href="#pt" x="424.3" y="293.3"/><use href="#pt" x="375.9" y="240.9"/><use href="#pt" x="367.3" y="256.8"/><use href="#pt" x="363.7" y="254.6"/><use href="#pt" x="430.0" y="296.6"/><use href="#pt" x="398.1" y="256.0"/><use href="#pt" x="364.2" y="244.5"/><use href="#pt" x="446.7" y="287.9"/><use href="#pt" x="358.3" y="252.0"/><use href="#pt" x="406.9" y="242.0"/><use href="#pt" x="411.5" y="286.5"/><use href="#pt" x="396.6" y="276.7"/><use href="#pt" x="395.3" y="256.0"/><use href="#pt" x="408.9" y="273.7"/><use href="#pt" x="393.6" y="260.3"/><use href="#pt" x="393.2" y="271.1"/><use href="#pt" x="407.0" y="258.8"/><use href="#pt" x="372.7" y="251.1"/><use href="#pt" x="419.8" y="280.7"/><use href="#pt" x="390.9" y="261.2"/><use href="#pt" x="437.1" y="264.9"/><use href="#pt" x="433.0" y="296.4"/><use href="#pt" x="417.2" y="259.1"/><use href="#pt" x="418.2" y="291.8"/><use href="#pt" x="464.3" y="259.0"/><use href="#pt" x="451.5" y="284.3"/><use href="#pt" x="405.8" y="272.0"/><use href="#pt" x="420.1" y="260.3"/><use href="#pt" x="392.4" y="256.4"/><use href="#pt" x="414.1" y="272.2"/><use href="#pt" x="390.3" y="267.6"/><use href="#pt" x="386.9" y="247.6"/><use href="#pt" x="465.7" y="260.8"/><use href="#pt" x="425.0" y="258.5"/><use href="#pt" x="427.7" y="274.2"/><use href="#pt" x="428.9" y="270.8"/><use href="#pt" x="376.4" y="242.2"/><use href="#pt" x="429.1" y="272.5"/><use href="#pt" x="417.1" y="262.0"/><use href="#pt" x="400.4" y="242.6"/><use href="#pt" x="408.1" y="243.7"/><use href="#pt" x="421.6" y="251.9"/><use href="#pt" x="416.4" y="241.9"/><use href="#pt" x="394.3" y="251.2"/><use href="#pt" x="411.1" y="258.9"/><use href="#pt" x="386.7" y="240.8"/><use href="#pt" x="387.3" y="271.0"/><use href="#pt" x="407.3" y="248.7"/><use href="#pt" x="403.0" y="276.8"/><use href="#pt" x="448.1" y="277.4"/><use href="#pt" x="417.2" y="257.8"/><use href="#pt" x="385.2" y="252.5"/><use href="#pt" x="397.1" y="275.6"/><use href="#pt" x="403.7" y="271.2"/><use href="#pt" x="416.2" y="275.3"/><use href="#pt" x="434.7" y="269.8"/><use href="#pt" x="411.5" y="264.8"/><use href="#pt" x="427.1" y="263.4"/><use href="#pt" x="445.2" y="271.6"/><use href="#pt" x="400.1" y="277.7"/><use href="#pt" x="471.4" y="272.5"/><use href="#pt" x="417.0" y="284.2"/><use href="#pt" x="412.8" y="258.9"/><use href="#pt" x="400.5" y="268.7"/><use href="#pt" x="435.4" y="247.8"/><use href="#pt" x="417.3" y="284.4"/><use href="#pt" x="393.5" y="261.7"/><use href="#pt" x="430.9" y="293.1"/><use href="#pt" x="432.8" y="263.2"/><use href="#pt" x="387.2" y="267.8"/><use href="#pt" x="428.7" y="257.8"/><use href="#pt" x="454.3" y="271.6"/><use href="#pt" x="348.4" y="244.7"/><use href="#pt" x="366.9" y="255.6"/><use href="#pt" x="450.0" y="274.9"/><use href="#pt" x="402.2" y="276.9"/><use href="#pt" x="380.0" y="259.4"/><use href="#pt" x="435.8" y="268.0"/><use href="#pt" x="424.3" y="245.9"/><use href="#pt" x="424.9" y="281.3"/><use href="#pt" x="382.6" y="260.7"/><use href="#pt" x="381.2" y="249.5"/><use href="#pt" x="431.6" y="250.0"/><use href="#pt" x="401.5" y="264.8"/><use href="#pt" x="406.8" y="247.4"/><use href="#pt" x="400.8" y="273.6"/><use href="#pt" x="340.7" y="242.2"/><use href="#pt" x="378.6" y="251.6"/><use href="#pt" x="410.2" y="279.6"/><use href="#pt" x="453.1" y="278.7"/><use href="#pt" x="406.2" y="277.2"/><use href="#pt" x="402.6" y="269.7"/><use href="#pt" x="438.3" y="276.6"/><use href="#pt" x="429.1" y="282.0"/><use href="#pt" x="430.8" y="292.3"/><use href="#pt" x="376.9" y="262.8"/><use href="#pt" x="410.4" y="247.8"/><use href="#pt" x="356.0" y="240.1"/><use href="#pt" x="393.0" y="263.6"/><use href="#pt" x="412.0" y="239.8"/><use href="#pt" x="429.3" y="268.7"/><use href="#pt" x="398.9" y="243.6"/><use href="#pt" x="415.8" y="249.1"/><use href="#pt" x="394.0" y="276.0"/><use href="#pt" x="353.3" y="246.1"/><use href="#pt" x="423.1" y="294.0"/><use href="#pt" x="429.3" y="288.6"/><use href="#pt" x="460.8" y="262.3"/><use href="#pt" x="433.2" y="245.0"/><use href="#pt" x="371.7" y="246.8"/><use href="#pt" x="428.7" y="283.9"/><use href="#pt" x="368.2" y="259.8"/><use href="#pt" x="414.6" y="246.5"/><use href="#pt" x="425.1" y="266.2"/><use href="#pt" x="437.2" y="292.1"/><use href="#pt" x="410.8" y="287.2"/><use href="#pt" x="411.2" y="241.3"/><use href="#pt" x="412.1" y="266.5"/><use href="#pt" x="378.3" y="265.3"/><use href="#pt" x="418.4" y="270.1"/><use href="#pt" x="456.0" y="248.2"/><use href="#pt" x="455.5" y="255.7"/><use href="#pt" x="429.3" y="294.0"/><use href="#pt" x="456.7" y="278.4"/><use href="#pt" x="371.3" y="255.1"/><use href="#pt" x="422.7" y="284.1"/><use href="#pt" x="365.2" y="251.7"/><use href="#pt" x="431.1" y="252.3"/><use href="#pt" x="404.6" y="282.5"/><use href="#pt" x="457.9" y="276.0"/><use href="#pt" x="422.6" y="293.1"/><use href="#pt" x="382.3" y="241.9"/><use href="#pt" x="451.1" y="263.1"/><use href="#pt" x="394.7" y="261.5"/><use href="#pt" x="440.7" y="274.9"/><use href="#pt" x="358.1" y="244.7"/><use href="#pt" x="422.8" y="285.5"/><use href="#pt" x="409.4" y="252.1"/><use href="#pt" x="411.1" y="278.5"/><use href="#pt" x="409.5" y="252.9"/><use href="#pt" x="401.1" y="265.9"/><use href="#pt" x="407.8" y="257.8"/><use href="#pt" x="412.2" y="268.8"/><use href="#pt" x="375.5" y="250.0"/><use href="#pt" x="393.3" y="272.9"/><use href="#pt" x="377.1" y="248.8"/><use href="#pt" x="405.4" y="282.2"/><use href="#pt" x="348.2" y="243.0"/><use href="#pt" x="450.8" y="279.3"/><use href="#pt" x="413.0" y="257.0"/><use href="#pt" x="376.5" y="249.4"/><use href="#pt" x="418.5" y="288.5"/><use href="#pt" x="413.2" y="273.6"/><use href="#pt" x="430.5" y="265.5"/><use href="#pt" x="363.8" y="249.7"/><use href="#pt" x="385.9" y="269.2"/><use href="#pt" x="460.7" y="271.3"/><use href="#pt" x="436.9" y="269.2"/><use href="#pt" x="444.8" y="260.8"/><use href="#pt" x="454.6" y="279.2"/><use href="#pt" x="382.1" y="268.6"/><use href="#pt" x="359.9" y="251.4"/><use href="#pt" x="337.9" y="241.4"/><use href="#pt" x="437.9" y="279.1"/><use href="#pt" x="377.1" y="260.8"/><use href="#pt" x="423.4" y="292.0"/><use href="#pt" x="369.2" y="241.5"/><use href="#pt" x="380.9" y="253.2"/><use href="#pt" x="401.5" y="272.1"/><use href="#pt" x="354.2" y="249.2"/><use href="#pt" x="431.4" y="289.6"/><use href="#pt" x="428.4" y="283.7"/><use href="#pt" x="376.3" y="249.8"/><use href="#pt" x="429.2" y="297.2"/><use href="#pt" x="461.3" y="276.5"/><use href="#pt" x="453.6" y="271.9"/><use href="#pt" x="422.3" y="271.8"/><use href="#pt" x="392.6" y="272.3"/><use href="#pt" x="431.5" y="292.7"/><use href="#pt" x="416.9" y="288.9"/><use href="#pt" x="433.7" y="249.6"/><use href="#pt" x="392.3" y="273.1"/><use href="#pt" x="436.0" y="249.3"/><use href="#pt" x="368.0" y="254.2"/><use href="#pt" x="409.8" y="257.4"/><use href="#pt" x="452.7" y="255.5"/><use href="#pt" x="415.4" y="255.9"/><use href="#pt" x="434.5" y="248.8"/><use href="#pt" x="379.0" y="267.4"/><use href="#pt" x="426.9" y="273.9"/><use href="#pt" x="417.9" y="282.3"/><use href="#pt" x="378.6" y="256.3"/><use href="#pt" x="352.6" y="247.8"/><use href="#pt" x="437.8" y="267.0"/><use href="#pt" x="403.8" y="259.3"/><use href="#pt" x="386.5" y="249.0"/><use href="#pt" x="390.6" y="249.5"/><use href="#pt" x="378.7" y="259.2"/><use href="#pt" x="412.4" y="276.4"/><use href="#pt" x="427.5" y="276.2"/><use href="#pt" x="434.0" y="276.6"/><use href="#pt" x="390.4" y="249.4"/><use href="#pt" x="443.0" y="282.9"/><use href="#pt" x="371.2" y="246.2"/><use href="#pt" x="446.7" y="274.6"/><use href="#pt" x="347.4" y="243.2"/><use href="#pt" x="368.2" y="248.7"/><use href="#pt" x="437.4" y="267.9"/><use href="#pt" x="444.4" y="280.7"/><use href="#pt" x="348.4" y="242.8"/><use href="#pt" x="418.2" y="270.3"/><use href="#pt" x="405.3" y="271.4"/><use href="#pt" x="414.8" y="279.9"/><use href="#pt" x="391.0" y="268.5"/><use href="#pt" x="371.7" y="241.8"/><use href="#pt" x="434.2" y="279.7"/><use href="#pt" x="414.4" y="285.5"/><use href="#pt" x="423.7" y="279.5"/><use href="#pt" x="354.9" y="252.5"/><use href="#pt" x="420.7" y="274.7"/><use href="#pt" x="448.0" y="286.5"/><use href="#pt" x="382.2" y="244.5"/><use href="#pt" x="411.0" y="252.4"/><use href="#pt" x="423.2" y="241.2"/><use href="#pt" x="417.1" y="249.5"/><use href="#pt" x="439.4" y="247.5"/><use href="#pt" x="422.7" y="260.7"/><use href="#pt" x="442.5" y="252.0"/><use href="#pt" x="406.3" y="281.3"/><use href="#pt" x="425.7" y="296.7"/><use href="#pt" x="394.6" y="253.7"/><use href="#pt" x="384.7" y="264.7"/><use href="#pt" x="450.8" y="255.7"/><use href="#pt" x="413.8" y="259.9"/><use href="#pt" x="349.2" y="247.4"/><use href="#pt" x="381.2" y="257.4"/><use href="#pt" x="449.1" y="247.1"/><use href="#pt" x="382.7" y="260.3"/><use href="#pt" x="435.3" y="288.1"/><use href="#pt" x="395.7" y="276.7"/><use href="#pt" x="447.4" y="262.0"/><use href="#pt" x="430.3" y="261.8"/><use href="#pt" x="373.3" y="250.7"/><use href="#pt" x="413.1" y="276.5"/><use href="#pt" x="438.8" y="259.0"/><use href="#pt" x="419.1" y="289.4"/><use href="#pt" x="468.4" y="260.6"/><use href="#pt" x="428.6" y="273.2"/><use href="#pt" x="351.7" y="242.7"/><use href="#pt" x="391.4" y="260.1"/><use href="#pt" x="429.8" y="271.1"/><use href="#pt" x="425.8" y="250.1"/><use href="#pt" x="384.2" y="242.0"/><use href="#pt" x="423.7" y="252.0"/><use href="#pt" x="440.2" y="277.6"/><use href="#pt" x="404.1" y="277.5"/><use href="#pt" x="404.6" y="266.0"/><use href="#pt" x="384.1" y="248.9"/><use href="#pt" x="425.6" y="289.0"/><use href="#pt" x="369.2" y="252.1"/><use href="#pt" x="390.6" y="241.8"/><use href="#pt" x="433.8" y="293.0"/><use href="#pt" x="364.0" y="255.5"/><use href="#pt" x="420.8" y="287.7"/><use href="#pt" x="395.0" y="265.8"/><use href="#pt" x="398.5" y="278.8"/><use href="#pt" x="373.6" y="249.7"/><use href="#pt" x="358.1" y="254.5"/><use href="#pt" x="424.3" y="271.3"/><use href="#pt" x="427.3" y="244.8"/><use href="#pt" x="381.1" y="247.0"/><use href="#pt" x="409.6" y="243.5"/><use href="#pt" x="416.3" y="283.1"/><use href="#pt" x="375.9" y="264.0"/><use href="#pt" x="456.5" y="275.4"/><use href="#pt" x="401.8" y="266.1"/><use href="#pt" x="401.7" y="272.4"/><use href="#pt" x="353.1" y="246.0"/><use href="#pt" x="479.8" y="254.7"/><use href="#pt" x="405.3" y="270.5"/><use href="#pt" x="363.8" y="254.9"/><use href="#pt" x="432.6" y="277.7"/><use href="#pt" x="380.2" y="248.6"/><use href="#pt" x="400.2" y="264.7"/><use href="#pt" x="448.5" y="264.7"/><use href="#pt" x="459.9" y="259.3"/><use href="#pt" x="389.2" y="270.4"/><use href="#pt" x="405.0" y="244.0"/><use href="#pt" x="423.8" y="265.8"/><use href="#pt" x="390.0" y="267.1"/><use href="#pt" x="386.2" y="262.3"/><use href="#pt" x="402.7" y="254.0"/><use href="#pt" x="446.7" y="272.8"/><use href="#pt" x="403.9" y="275.6"/><use href="#pt" x="392.9" y="275.6"/><use href="#pt" x="457.5" y="276.6"/><use href="#pt" x="364.7" y="254.5"/><use href="#pt" x="385.9" y="242.4"/><use href="#pt" x="436.8" y="289.5"/><use href="#pt" x="412.2" y="254.3"/><use href="#pt" x="417.1" y="291.1"/><use href="#pt" x="351.0" y="240.5"/><use href="#pt" x="417.3" y="291.2"/><use href="#pt" x="393.4" y="268.8"/><use href="#pt" x="416.8" y="266.0"/><use href="#pt" x="423.5" y="283.3"/><use href="#pt" x="383.5" y="246.5"/><use href="#pt" x="411.1" y="280.0"/><use href="#pt" x="447.6" y="257.2"/><use href="#pt" x="452.0" y="268.1"/><use href="#pt" x="414.8" y="247.8"/><use href="#pt" x="479.5" y="266.3"/><use href="#pt" x="434.9" y="272.4"/><use href="#pt" x="371.7" y="259.8"/><use href="#pt" x="429.6" y="265.2"/><use href="#pt" x="437.2" y="281.2"/><use href="#pt" x="413.5" y="241.8"/><use href="#pt" x="381.3" y="245.8"/><use href="#pt" x="419.8" y="262.9"/><use href="#pt" x="378.2" y="267.0"/><use href="#pt" x="429.0" y="281.1"/><use href="#pt" x="450.6" y="278.8"/><use href="#pt" x="403.0" y="272.4"/><use href="#pt" x="396.8" y="251.9"/><use href="#pt" x="409.8" y="257.4"/><use href="#pt" x="433.2" y="296.6"/><use href="#pt" x="448.9" y="275.6"/><use href="#pt" x="402.7" y="259.8"/><use href="#pt" x="419.8" y="268.7"/><use href="#pt" x="412.4" y="241.8"/><use href="#pt" x="441.1" y="272.3"/><use href="#pt" x="432.4" y="284.7"/><use href="#pt" x="355.8" y="247.4"/><use href="#pt" x="446.4" y="281.5"/><use href="#pt" x="402.9" y="280.5"/><use href="#pt" x="391.0" y="269.4"/><use href="#pt" x="417.7" y="268.4"/><use href="#pt" x="433.9" y="256.4"/><use href="#pt" x="417.1" y="243.3"/><use href="#pt" x="418.7" y="274.1"/><use href="#pt" x="371.6" y="256.6"/><use href="#pt" x="408.4" y="281.5"/><use href="#pt" x="410.8" y="267.8"/><use href="#pt" x="388.9" y="261.1"/><use href="#pt" x="438.1" y="250.6"/><use href="#pt" x="418.4" y="276.3"/><use href="#pt" x="348.6" y="248.0"/><use href="#pt" x="444.1" y="271.5"/><use href="#pt" x="407.7" y="242.7"/><use href="#pt" x="434.2" y="288.9"/><use href="#pt" x="430.0" y="253.2"/><use href="#pt" x="387.6" y="251.1"/><use href="#pt" x="428.1" y="297.4"/><use href="#pt" x="436.5" y="259.0"/><use href="#pt" x="348.6" y="243.0"/><use href="#pt" x="369.8" y="252.9"/><use href="#pt" x="435.4" y="293.1"/><use href="#pt" x="435.8" y="245.0"/><use href="#pt" x="366.0" y="243.2"/><use href="#pt" x="416.7" y="251.9"/><use href="#pt" x="362.7" y="240.0"/><use href="#pt" x="432.3" y="288.2"/><use href="#pt" x="363.2" y="241.8"/><use href="#pt" x="432.8" y="294.6"/><use href="#pt" x="431.3" y="268.7"/><use href="#pt" x="448.4" y="283.2"/><use href="#pt" x="426.9" y="247.7"/><use href="#pt" x="383.7" y="268.0"/><use href="#pt" x="409.8" y="263.1"/><use href="#pt" x="446.3" y="266.3"/><use href="#pt" x="381.5" y="251.3"/><use href="#pt" x="375.5" y="258.9"/><use href="#pt" x="387.2" y="259.0"/><use href="#pt" x="428.7" y="242.4"/><use href="#pt" x="406.0" y="274.2"/><use href="#pt" x="420.4" y="258.8"/><use href="#pt" x="425.8" y="294.5"/><use href="#pt" x="398.3" y="276.9"/><use href="#pt" x="419.3" y="263.3"/><use href="#pt" x="412.9" y="268.3"/><use href="#pt" x="489.8" y="259.2"/><use href="#pt" x="434.3" y="282.5"/><use href="#pt" x="401.0" y="268.5"/><use href="#pt" x="385.0" y="266.5"/><use href="#pt" x="443.2" y="266.3"/><use href="#pt" x="402.2" y="257.4"/><use href="#pt" x="431.1" y="249.0"/><use href="#pt" x="474.1" y="265.5"/><use href="#pt" x="376.1" y="247.8"/><use href="#pt" x="443.0" y="279.8"/><use href="#pt" x="433.2" y="293.2"/><use href="#pt" x="355.3" y="249.3"/><use href="#pt" x="394.4" y="254.8"/><use href="#pt" x="427.0" y="293.1"/><use href="#pt" x="434.2" y="272.4"/><use href="#pt" x="406.8" y="244.2"/><use href="#pt" x="434.3" y="273.4"/><use href="#pt" x="437.2" y="286.3"/><use href="#pt" x="419.8" y="290.8"/><use href="#pt" x="430.6" y="267.9"/><use href="#pt" x="384.6" y="270.1"/><use href="#pt" x="339.9" y="240.0"/><use href="#pt" x="436.3" y="260.8"/><use href="#pt" x="394.1" y="271.7"/><use href="#pt" x="419.0" y="291.3"/><use href="#pt" x="368.6" y="257.5"/><use href="#pt" x="432.6" y="269.9"/><use href="#pt" x="390.2" y="257.7"/><use href="#pt" x="392.3" y="258.2"/><use href="#pt" x="437.3" y="266.9"/><use href="#pt" x="350.2" y="249.7"/><use href="#pt" x="457.7" y="257.4"/><use href="#pt" x="407.1" y="255.3"/><use href="#pt" x="439.2" y="256.4"/><use href="#pt" x="402.5" y="249.7"/><use href="#pt" x="353.9" y="244.0"/><use href="#pt" x="394.1" y="259.5"/><use href="#pt" x="418.1" y="284.6"/><use href="#pt" x="439.7" y="285.5"/><use href="#pt" x="368.5" y="245.3"/><use href="#pt" x="380.4" y="249.5"/><use href="#pt" x="420.7" y="245.5"/><use href="#pt" x="436.5" y="290.2"/><use href="#pt" x="391.8" y="248.8"/><use href="#pt" x="399.2" y="251.7"/><use href="#pt" x="390.4" y="257.8"/><use href="#pt" x="408.6" y="267.5"/><use href="#pt" x="393.1" y="257.4"/><use href="#pt" x="427.8" y="244.7"/><use href="#pt" x="414.9" y="255.7"/><use href="#pt" x="466.2" y="267.5"/><use href="#pt" x="371.6" y="247.7"/><use href="#pt" x="420.3" y="264.0"/><use href="#pt" x="442.5" y="259.9"/><use href="#pt" x="365.7" y="258.6"/><use href="#pt" x="392.5" y="263.1"/><use href="#pt" x="449.2" y="285.0"/><use href="#pt" x="454.5" y="272.8"/><use href="#pt" x="428.8" y="292.5"/><use href="#pt" x="369.4" y="249.8"/><use href="#pt" x="422.7" y="269.4"/><use href="#pt" x="428.5" y="289.7"/><use href="#pt" x="384.9" y="260.1"/><use href="#pt" x="418.9" y="282.8"/><use href="#pt" x="399.8" y="254.2"/><use href="#pt" x="420.0" y="248.6"/><use href="#pt" x="404.6" y="249.2"/><use href="#pt" x="398.9" y="257.3"/><use href="#pt" x="375.0" y="264.5"/><use href="#pt" x="438.0" y="285.0"/><use href="#pt" x="398.6" y="276.0"/><use href="#pt" x="407.5" y="243.2"/><use href="#pt" x="400.5" y="267.0"/><use href="#pt" x="402.5" y="246.2"/><use href="#pt" x="444.3" y="286.4"/><use href="#pt" x="350.6" y="249.8"/><use href="#pt" x="449.0" y="271.5"/><use href="#pt" x="447.5" y="266.2"/><use href="#pt" x="342.1" y="244.0"/><use href="#pt" x="416.6" y="242.8"/><use href="#pt" x="361.1" y="247.9"/><use href="#pt" x="433.9" y="284.8"/><use href="#pt" x="388.5" y="257.2"/><use href="#pt" x="445.9" y="266.4"/><use href="#pt" x="461.3" y="263.5"/><use href="#pt" x="467.4" y="267.4"/><use href="#pt" x="427.0" y="263.4"/><use href="#pt" x="456.8" y="262.6"/><use href="#pt" x="455.2" y="275.4"/><use href="#pt" x="413.8" y="260.6"/><use href="#pt" x="414.0" y="240.1"/><use href="#pt" x="374.1" y="245.3"/><use href="#pt" x="462.9" y="271.7"/><use href="#pt" x="446.4" y="249.2"/><use href="#pt" x="417.6" y="262.1"/><use href="#pt" x="365.7" y="255.5"/><use href="#pt" x="390.1" y="249.2"/><use href="#pt" x="416.9" y="282.2"/><use href="#pt" x="420.8" y="284.8"/><use href="#pt" x="425.5" y="276.2"/><use href="#pt" x="403.1" y="266.1"/><use href="#pt" x="454.5" y="249.0"/><use href="#pt" x="398.1" y="266.3"/><use href="#pt" x="390.3" y="267.3"/><use href="#pt" x="459.3" y="278.4"/><use href="#pt" x="453.6" y="279.7"/><use href="#pt" x="405.7" y="240.0"/><use href="#pt" x="416.3" y="246.6"/><use href="#pt" x="411.8" y="272.6"/><use href="#pt" x="405.2" y="278.8"/><use href="#pt" x="413.4" y="256.7"/><use href="#pt" x="376.5" y="262.7"/><use href="#pt" x="419.8" y="249.8"/><use href="#pt" x="415.0" y="258.4"/><use href="#pt" x="369.5" y="253.2"/><use href="#pt" x="430.6" y="278.8"/><use href="#pt" x="390.1" y="260.9"/><use href="#pt" x="425.1" y="266.9"/><use href="#pt" x="420.1" y="267.2"/><use href="#pt" x="438.5" y="270.3"/><use href="#pt" x="406.2" y="258.0"/><use href="#pt" x="430.4" y="246.1"/><use href="#pt" x="387.4" y="247.0"/><use href="#pt" x="394.7" y="255.5"/><use href="#pt" x="354.0" y="242.8"/><use href="#pt" x="395.2" y="252.0"/><use href="#pt" x="405.8" y="247.8"/><use href="#pt" x="387.5" y="242.0"/><use href="#pt" x="365.4" y="252.5"/><use href="#pt" x="374.9" y="242.1"/><use href="#pt" x="385.0" y="263.1"/><use href="#pt" x="386.2" y="260.4"/><use href="#pt" x="419.1" y="273.6"/><use href="#pt" x="420.6" y="267.9"/><use href="#pt" x="457.0" y="259.1"/><use href="#pt" x="428.9" y="294.4"/><use href="#pt" x="468.7" y="273.2"/><use href="#pt" x="422.3" y="280.8"/><use href="#pt" x="422.4" y="257.7"/><use href="#pt" x="385.2" y="270.6"/><use href="#pt" x="388.7" y="266.1"/><use href="#pt" x="412.2" y="247.7"/><use href="#pt" x="420.0" y="277.7"/><use href="#pt" x="459.5" y="272.1"/><use href="#pt" x="420.9" y="289.4"/><use href="#pt" x="395.4" y="274.4"/><use href="#pt" x="383.2" y="245.0"/><use href="#pt" x="433.6" y="264.0"/><use href="#pt" x="459.4" y="256.4"/><use href="#pt" x="389.8" y="250.6"/><use href="#pt" x="389.7" y="262.7"/><use href="#pt" x="364.5" y="255.3"/><use href="#pt" x="423.8" y="244.4"/><use href="#pt" x="444.0" y="285.2"/><use href="#pt" x="483.7" y="263.0"/><use href="#pt" x="392.1" y="271.0"/><use href="#pt" x="440.3" y="258.5"/><use href="#pt" x="380.0" y="258.5"/><use href="#pt" x="427.3" y="266.4"/><use href="#pt" x="446.9" y="261.0"/><use href="#pt" x="464.7" y="241.7"/><use href="#pt" x="448.0" y="277.2"/><use href="#pt" x="403.5" y="268.7"/><use href="#pt" x="386.9" y="255.8"/><use href="#pt" x="407.6" y="269.0"/><use href="#pt" x="412.8" y="261.6"/><use href="#pt" x="413.9" y="284.1"/><use href="#pt" x="456.1" y="278.4"/><use href="#pt" x="419.2" y="274.9"/><use href="#pt" x="409.6" y="278.7"/><use href="#pt" x="369.0" y="260.1"/><use href="#pt" x="424.1" y="280.6"/><use href="#pt" x="424.3" y="259.3"/><use href="#pt" x="432.6" y="292.3"/><use href="#pt" x="417.7" y="288.2"/><use href="#pt" x="427.8" y="280.3"/><use href="#pt" x="403.2" y="262.8"/><use href="#pt" x="375.2" y="263.2"/><use href="#pt" x="457.6" y="269.4"/><use href="#pt" x="393.4" y="259.2"/><use href="#pt" x="397.3" y="254.4"/><use href="#pt" x="431.3" y="296.4"/><use href="#pt" x="404.7" y="250.3"/><use href="#pt" x="394.6" y="270.0"/><use href="#pt" x="371.4" y="251.9"/><use href="#pt" x="361.2" y="247.4"/><use href="#pt" x="445.0" y="265.1"/><use href="#pt" x="480.6" y="265.5"/><use href="#pt" x="438.9" y="275.9"/><use href="#pt" x="395.6" y="262.3"/><use href="#pt" x="350.7" y="248.6"/><use href="#pt" x="443.4" y="263.5"/><use href="#pt" x="385.5" y="260.6"/><use href="#pt" x="416.5" y="284.8"/><use href="#pt" x="421.9" y="289.7"/><use href="#pt" x="442.6" y="255.2"/><use href="#pt" x="386.2" y="244.6"/><use href="#pt" x="412.1" y="269.6"/><use href="#pt" x="411.2" y="279.0"/><use href="#pt" x="421.8" y="262.5"/><use href="#pt" x="390.2" y="253.3"/><use href="#pt" x="375.0" y="252.8"/><use href="#pt" x="475.3" y="257.4"/><use href="#pt" x="389.0" y="267.0"/><use href="#pt" x="428.6" y="265.7"/><use href="#pt" x="386.2" y="262.7"/><use href="#pt" x="448.3" y="280.9"/><use href="#pt" x="440.5" y="278.5"/><use href="#pt" x="432.1" y="273.7"/><use href="#pt" x="459.5" y="270.5"/><use href="#pt" x="380.6" y="250.3"/><use href="#pt" x="360.6" y="247.1"/><use href="#pt" x="395.9" y="261.4"/><use href="#pt" x="448.7" y="248.8"/><use href="#pt" x="428.5" y="295.8"/><use href="#pt" x="468.5" y="269.3"/><use href="#pt" x="440.2" y="250.3"/><use href="#pt" x="448.4" y="271.6"/><use href="#pt" x="362.4" y="239.8"/><use href="#pt" x="457.3" y="277.8"/><use href="#pt" x="431.6" y="248.5"/><use href="#pt" x="407.0" y="246.5"/><use href="#pt" x="366.5" y="254.9"/><use href="#pt" x="446.0" y="284.2"/><use href="#pt" x="430.0" y="257.1"/><use href="#pt" x="411.8" y="252.0"/><use href="#pt" x="389.7" y="273.6"/><use href="#pt" x="376.2" y="245.4"/><use href="#pt" x="357.5" y="241.9"/><use href="#pt" x="365.0" y="256.5"/><use href="#pt" x="446.8" y="270.7"/><use href="#pt" x="401.7" y="267.3"/><use href="#pt" x="433.9" y="266.7"/><use href="#pt" x="348.2" y="245.1"/><use href="#pt" x="450.5" y="285.1"/><use href="#pt" x="376.0" y="258.7"/><use href="#pt" x="349.9" y="249.1"/><use href="#pt" x="408.8" y="255.0"/><use href="#pt" x="434.6" y="266.0"/><use href="#pt" x="406.6" y="258.0"/><use href="#pt" x="414.7" y="288.0"/><use href="#pt" x="419.0" y="250.1"/><use href="#pt" x="406.1" y="260.6"/><use href="#pt" x="424.3" y="292.9"/><use href="#pt" x="372.4" y="259.2"/><use href="#pt" x="420.9" y="275.3"/><use href="#pt" x="375.9" y="243.6"/><use href="#pt" x="405.6" y="268.5"/><use href="#pt" x="423.7" y="272.4"/><use href="#pt" x="373.5" y="247.2"/><use href="#pt" x="420.0" y="283.7"/><use href="#pt" x="437.7" y="259.3"/><use href="#pt" x="445.6" y="276.6"/><use href="#pt" x="383.0" y="247.0"/><use href="#pt" x="405.7" y="259.1"/><use href="#pt" x="430.3" y="279.9"/><use href="#pt" x="408.4" y="275.2"/><use href="#pt" x="417.5" y="282.9"/><use href="#pt" x="388.4" y="271.7"/><use href="#pt" x="404.2" y="280.5"/><use href="#pt" x="349.8" y="243.5"/><use href="#pt" x="381.5" y="261.4"/><use href="#pt" x="394.2" y="264.4"/><use href="#pt" x="354.9" y="249.5"/><use href="#pt" x="437.3" y="267.4"/><use href="#pt" x="417.7" y="289.1"/><use href="#pt" x="496.4" y="253.4"/><use href="#pt" x="350.2" y="246.7"/><use href="#pt" x="437.6" y="251.6"/><use href="#pt" x="376.6" y="252.2"/><use href="#pt" x="359.9" y="244.2"/><use href="#pt" x="391.2" y="247.4"/><use href="#pt" x="402.9" y="274.4"/><use href="#pt" x="443.8" y="252.1"/><use href="#pt" x="418.0" y="263.3"/><use href="#pt" x="492.2" y="257.2"/><use href="#pt" x="415.4" y="279.2"/><use href="#pt" x="375.0" y="261.8"/><use href="#pt" x="449.3" y="268.5"/><use href="#pt" x="349.5" y="246.3"/><use href="#pt" x="443.0" y="254.3"/><use href="#pt" x="392.0" y="274.0"/><use href="#pt" x="409.6" y="284.1"/><use href="#pt" x="395.7" y="259.4"/><use href="#pt" x="404.7" y="248.9"/><use href="#pt" x="418.9" y="281.5"/><use href="#pt" x="467.4" y="253.5"/><use href="#pt" x="359.7" y="255.5"/><use href="#pt" x="450.3" y="284.0"/><use href="#pt" x="395.2" y="266.2"/><use href="#pt" x="466.0" y="263.8"/><use href="#pt" x="412.8" y="276.2"/><use href="#pt" x="381.9" y="255.4"/><use href="#pt" x="433.6" y="253.4"/><use href="#pt" x="350.6" y="249.6"/><use href="#pt" x="463.1" y="266.3"/><use href="#pt" x="451.4" y="282.8"/><use href="#pt" x="396.1" y="246.2"/><use href="#pt" x="394.3" y="274.4"/><use href="#pt" x="396.1" y="257.0"/><use href="#pt" x="449.4" y="274.8"/><use href="#pt" x="433.5" y="292.2"/><use href="#pt" x="442.0" y="281.3"/><use href="#pt" x="347.8" y="240.8"/><use href="#pt" x="394.5" y="243.8"/><use href="#pt" x="369.1" y="259.5"/><use href="#pt" x="434.3" y="294.1"/><use href="#pt" x="428.7" y="258.7"/><use href="#pt" x="432.0" y="290.7"/><use href="#pt" x="485.8" y="255.7"/><use href="#pt" x="380.0" y="242.3"/><use href="#pt" x="419.4" y="276.8"/><use href="#pt" x="419.5" y="281.4"/><use href="#pt" x="418.2" y="271.7"/><use href="#pt" x="440.1" y="281.7"/><use href="#pt" x="391.2" y="247.5"/><use href="#pt" x="360.8" y="252.1"/><use href="#pt" x="432.7" y="278.4"/><use href="#pt" x="412.6" y="263.1"/><use href="#pt" x="394.9" y="256.8"/><use href="#pt" x="412.6" y="262.5"/><use href="#pt" x="383.9" y="263.9"/><use href="#pt" x="401.3" y="269.6"/><use href="#pt" x="401.9" y="258.4"/><use href="#pt" x="377.8" y="265.8"/><use href="#pt" x="433.8" y="265.8"/><use href="#pt" x="382.3" y="241.1"/><use href="#pt" x="397.2" y="244.5"/><use href="#pt" x="445.2" y="266.0"/><use href="#pt" x="458.0" y="267.1"/><use href="#pt" x="417.6" y="284.8"/><use href="#pt" x="419.1" y="273.6"/><use href="#pt" x="449.1" y="247.6"/><use href="#pt" x="435.0" y="277.7"/><use href="#pt" x="363.2" y="244.5"/><use href="#pt" x="435.0" y="283.2"/><use href="#pt" x="378.8" y="260.2"/><use href="#pt" x="421.0" y="286.4"/><use href="#pt" x="416.7" y="272.4"/><use href="#pt" x="429.0" y="288.6"/><use href="#pt" x="399.2" y="276.3"/><use href="#pt" x="398.5" y="243.8"/><use href="#pt" x="387.6" y="272.8"/><use href="#pt" x="436.3" y="276.2"/><use href="#pt" x="445.1" y="264.0"/><use href="#pt" x="418.9" y="285.0"/><use href="#pt" x="434.9" y="260.5"/><use href="#pt" x="364.7" y="245.3"/><use href="#pt" x="358.1" y="249.7"/><use href="#pt" x="464.6" y="249.5"/><use href="#pt" x="472.7" y="266.7"/><use href="#pt" x="376.7" y="246.3"/><use href="#pt" x="442.0" y="251.9"/><use href="#pt" x="386.1" y="262.1"/><use href="#pt" x="417.3" y="286.1"/><use href="#pt" x="411.9" y="274.8"/><use href="#pt" x="438.6" y="289.2"/><use href="#pt" x="438.5" y="270.6"/><use href="#pt" x="440.7" y="265.2"/><use href="#pt" x="423.9" y="294.9"/><use href="#pt" x="456.9" y="273.5"/><use href="#pt" x="377.5" y="250.2"/><use href="#pt" x="381.7" y="258.0"/><use href="#pt" x="364.2" y="242.4"/><use href="#pt" x="344.9" y="242.3"/><use href="#pt" x="430.9" y="291.0"/><use href="#pt" x="408.5" y="272.6"/><use href="#pt" x="452.3" y="279.4"/><use href="#pt" x="414.2" y="275.5"/><use href="#pt" x="377.3" y="250.8"/><use href="#pt" x="432.2" y="297.0"/><use href="#pt" x="458.9" y="272.4"/><use href="#pt" x="371.3" y="252.9"/><use href="#pt" x="416.8" y="271.8"/><use href="#pt" x="469.4" y="271.1"/><use href="#pt" x="400.4" y="277.9"/><use href="#pt" x="417.6" y="241.7"/><use href="#pt" x="374.4" y="246.9"/><use href="#pt" x="391.8" y="269.6"/><use href="#pt" x="464.2" y="251.9"/><use href="#pt" x="424.3" y="286.6"/><use href="#pt" x="417.0" y="289.8"/><use href="#pt" x="399.0" y="253.9"/><use href="#pt" x="366.3" y="244.4"/><use href="#pt" x="426.2" y="296.4"/><use href="#pt" x="438.8" y="278.8"/><use href="#pt" x="384.7" y="253.7"/><use href="#pt" x="421.9" y="243.0"/><use href="#pt" x="439.7" y="289.1"/><use href="#pt" x="366.3" y="241.0"/><use href="#pt" x="462.7" y="242.5"/><use href="#pt" x="431.4" y="274.8"/><use href="#pt" x="424.6" y="265.2"/><use href="#pt" x="451.6" y="259.7"/><use href="#pt" x="378.7" y="240.9"/><use href="#pt" x="347.7" y="246.7"/><use href="#pt" x="426.9" y="249.6"/><use href="#pt" x="427.7" y="258.9"/><use href="#pt" x="384.7" y="258.5"/><use href="#pt" x="450.0" y="268.3"/><use href="#pt" x="373.4" y="258.1"/><use href="#pt" x="440.9" y="270.2"/><use href="#pt" x="433.0" y="269.6"/><use href="#pt" x="396.4" y="258.4"/><use href="#pt" x="412.1" y="286.0"/><use href="#pt" x="427.4" y="262.6"/><use href="#pt" x="431.8" y="278.8"/><use href="#pt" x="456.7" y="265.6"/><use href="#pt" x="390.7" y="265.9"/><use href="#pt" x="398.0" y="260.2"/><use href="#pt" x="408.3" y="244.7"/><use href="#pt" x="372.2" y="255.1"/><use href="#pt" x="431.0" y="279.7"/><use href="#pt" x="346.1" y="245.1"/><use href="#pt" x="438.6" y="251.2"/><use href="#pt" x="422.7" y="281.8"/><use href="#pt" x="470.8" y="272.2"/><use href="#pt" x="420.4" y="250.1"/><use href="#pt" x="430.1" y="275.2"/><use href="#pt" x="394.6" y="265.5"/><use href="#pt" x="424.2" y="246.4"/><use href="#pt" x="348.5" y="242.8"/><use href="#pt" x="442.3" y="271.7"/><use href="#pt" x="389.2" y="250.8"/><use href="#pt" x="409.9" y="246.9"/><use href="#pt" x="451.8" y="277.0"/><use href="#pt" x="413.8" y="270.5"/><use href="#pt" x="371.9" y="253.2"/><use href="#pt" x="415.9" y="249.9"/><use href="#pt" x="386.1" y="269.0"/><use href="#pt" x="398.4" y="259.2"/><use href="#pt" x="435.5" y="279.8"/><use href="#pt" x="391.3" y="248.1"/><use href="#pt" x="450.0" y="262.0"/><use href="#pt" x="369.2" y="248.1"/><use href="#pt" x="450.8" y="258.8"/><use href="#pt" x="427.1" y="284.5"/><use href="#pt" x="413.7" y="288.6"/><use href="#pt" x="474.7" y="268.3"/><use href="#pt" x="457.1" y="255.0"/><use href="#pt" x="363.4" y="252.1"/><use href="#pt" x="403.3" y="255.9"/><use href="#pt" x="440.3" y="289.2"/><use href="#pt" x="440.2" y="281.7"/><use href="#pt" x="437.3" y="286.7"/><use href="#pt" x="401.4" y="274.8"/><use href="#pt" x="377.5" y="241.5"/><use href="#pt" x="367.8" y="242.9"/><use href="#pt" x="424.7" y="287.0"/><use href="#pt" x="432.2" y="277.9"/><use href="#pt" x="378.0" y="244.6"/><use href="#pt" x="408.8" y="278.1"/><use href="#pt" x="462.6" y="240.7"/><use href="#pt" x="399.3" y="257.2"/><use href="#pt" x="384.9" y="266.4"/><use href="#pt" x="391.7" y="250.7"/><use href="#pt" x="425.4" y="241.1"/><use href="#pt" x="418.8" y="260.1"/><use href="#pt" x="428.1" y="287.0"/><use href="#pt" x="378.8" y="258.0"/><use href="#pt" x="424.1" y="269.5"/><use href="#pt" x="410.8" y="247.5"/><use href="#pt" x="442.1" y="280.1"/><use href="#pt" x="399.8" y="253.9"/><use href="#pt" x="397.0" y="247.0"/><use href="#pt" x="456.2" y="276.5"/><use href="#pt" x="427.8" y="272.2"/><use href="#pt" x="434.2" y="264.5"/><use href="#pt" x="423.7" y="288.2"/><use href="#pt" x="444.8" y="287.9"/><use href="#pt" x="430.7" y="280.9"/><use href="#pt" x="365.3" y="259.1"/><use href="#pt" x="397.3" y="249.7"/><use href="#pt" x="431.6" y="245.3"/><use href="#pt" x="449.6" y="264.6"/><use href="#pt" x="415.0" y="272.3"/><use href="#pt" x="439.7" y="282.1"/><use href="#pt" x="390.1" y="246.9"/><use href="#pt" x="438.1" y="274.3"/><use href="#pt" x="368.7" y="260.2"/><use href="#pt" x="444.3" y="264.5"/><use href="#pt" x="396.3" y="248.1"/><use href="#pt" x="386.8" y="241.3"/><use href="#pt" x="374.8" y="242.0"/><use href="#pt" x="407.2" y="242.2"/><use href="#pt" x="398.5" y="260.3"/><use href="#pt" x="425.2" y="285.3"/><use href="#pt" x="376.6" y="255.0"/><use href="#pt" x="369.9" y="242.1"/><use href="#pt" x="434.5" y="278.0"/><use href="#pt" x="444.9" y="277.7"/><use href="#pt" x="459.3" y="257.7"/><use href="#pt" x="386.3" y="252.2"/><use href="#pt" x="453.5" y="283.8"/><use href="#pt" x="436.2" y="273.9"/><use href="#pt" x="420.0" y="288.2"/><use href="#pt" x="424.2" y="291.7"/><use href="#pt" x="386.3" y="251.7"/><use href="#pt" x="433.7" y="243.4"/><use href="#pt" x="448.5" y="263.1"/><use href="#pt" x="419.5" y="264.0"/><use href="#pt" x="434.6" y="253.3"/><use href="#pt" x="450.0" y="263.3"/><use href="#pt" x="376.6" y="256.8"/><use href="#pt" x="454.1" y="271.4"/><use href="#pt" x="426.3" y="241.9"/><use href="#pt" x="389.6" y="241.9"/><use href="#pt" x="381.0" y="261.1"/><use href="#pt" x="371.8" y="248.0"/><use href="#pt" x="400.2" y="252.1"/><use href="#pt" x="430.3" y="247.7"/><use href="#pt" x="446.9" y="269.1"/><use href="#pt" x="432.3" y="273.8"/><use href="#pt" x="414.6" y="258.5"/><use href="#pt" x="367.4" y="255.7"/><use href="#pt" x="359.1" y="254.7"/><use href="#pt" x="393.9" y="267.2"/><use href="#pt" x="484.5" y="256.3"/><use href="#pt" x="395.6" y="246.3"/><use href="#pt" x="437.0" y="280.1"/><use href="#pt" x="407.4" y="265.2"/><use href="#pt" x="408.1" y="270.5"/><use href="#pt" x="396.1" y="248.7"/><use href="#pt" x="426.4" y="271.6"/><use href="#pt" x="440.9" y="262.2"/><use href="#pt" x="444.4" y="266.8"/><use href="#pt" x="385.3" y="252.8"/><use href="#pt" x="414.2" y="257.6"/><use href="#pt" x="344.6" y="241.9"/><use href="#pt" x="419.1" y="282.1"/><use href="#pt" x="429.1" y="295.4"/><use href="#pt" x="447.2" y="256.6"/><use href="#pt" x="433.6" y="294.3"/><use href="#pt" x="387.8" y="264.4"/><use href="#pt" x="455.7" y="275.2"/><use href="#pt" x="414.8" y="273.2"/><use href="#pt" x="445.2" y="277.9"/><use href="#pt" x="379.4" y="261.7"/><use href="#pt" x="374.3" y="241.1"/><use href="#pt" x="421.7" y="268.8"/><use href="#pt" x="413.4" y="248.1"/><use href="#pt" x="346.5" y="242.8"/><use href="#pt" x="381.9" y="250.5"/><use href="#pt" x="415.2" y="288.4"/><use href="#pt" x="456.8" y="272.3"/><use href="#pt" x="444.8" y="260.4"/><use href="#pt" x="387.2" y="260.5"/><use href="#pt" x="389.1" y="259.6"/><use href="#pt" x="428.8" y="282.2"/><use href="#pt" x="438.6" y="271.0"/><use href="#pt" x="408.8" y="281.3"/><use href="#pt" x="390.6" y="269.9"/><use href="#pt" x="411.7" y="270.9"/><use href="#pt" x="413.3" y="260.5"/><use href="#pt" x="364.1" y="248.3"/><use href="#pt" x="410.1" y="277.8"/><use href="#pt" x="419.0" y="264.5"/><use href="#pt" x="452.1" y="253.6"/><use href="#pt" x="375.5" y="252.5"/><use href="#pt" x="473.5" y="269.1"/><use href="#pt" x="417.9" y="285.0"/><use href="#pt" x="417.9" y="259.2"/><use href="#pt" x="409.0" y="240.1"/><use href="#pt" x="405.4" y="247.2"/><use href="#pt" x="381.9" y="265.6"/><use href="#pt" x="399.6" y="280.4"/><use href="#pt" x="389.0" y="266.1"/><use href="#pt" x="427.8" y="296.3"/><use href="#pt" x="445.7" y="276.0"/><use href="#pt" x="408.0" y="261.9"/><use href="#pt" x="426.7" y="286.0"/><use href="#pt" x="357.1" y="245.6"/><use href="#pt" x="360.4" y="250.7"/><use href="#pt" x="439.3" y="290.9"/><use href="#pt" x="459.4" y="270.7"/><use href="#pt" x="370.3" y="249.3"/><use href="#pt" x="426.7" y="280.2"/><use href="#pt" x="425.5" y="263.8"/><use href="#pt" x="425.8" y="270.0"/><use href="#pt" x="375.0" y="262.9"/><use href="#pt" x="365.9" y="252.6"/><use href="#pt" x="444.0" y="241.7"/><use href="#pt" x="396.1" y="273.7"/><use href="#pt" x="373.9" y="242.5"/><use href="#pt" x="441.3" y="279.0"/><use href="#pt" x="451.8" y="284.0"/><use href="#pt" x="405.3" y="276.0"/><use href="#pt" x="437.0" y="288.3"/><use href="#pt" x="423.4" y="267.3"/><use href="#pt" x="412.2" y="266.7"/><use href="#pt" x="419.4" y="273.1"/><use href="#pt" x="395.8" y="246.5"/><use href="#pt" x="446.6" y="280.0"/><use href="#pt" x="436.3" y="250.8"/><use href="#pt" x="404.0" y="255.6"/><use href="#pt" x="431.1" y="285.3"/><use href="#pt" x="336.0" y="240.4"/><use href="#pt" x="451.0" y="272.2"/><use href="#pt" x="390.1" y="270.9"/><use href="#pt" x="441.6" y="260.1"/><use href="#pt" x="361.8" y="246.8"/><use href="#pt" x="347.1" y="242.5"/><use href="#pt" x="444.1" y="248.2"/><use href="#pt" x="419.2" y="283.4"/><use href="#pt" x="437.2" y="281.8"/><use href="#pt" x="411.9" y="271.4"/><use href="#pt" x="420.4" y="261.3"/><use href="#pt" x="376.6" y="242.0"/><use href="#pt" x="383.3" y="261.2"/><use href="#pt" x="405.8" y="259.7"/><use href="#pt" x="375.6" y="256.8"/><use href="#pt" x="371.6" y="249.0"/><use href="#pt" x="427.3" y="284.5"/><use href="#pt" x="425.3" y="268.3"/><use href="#pt" x="417.6" y="259.5"/><use href="#pt" x="396.2" y="265.3"/><use href="#pt" x="338.4" y="241.9"/><use href="#pt" x="424.7" y="240.2"/><use href="#pt" x="449.1" y="250.7"/><use href="#pt" x="433.3" y="265.5"/><use href="#pt" x="397.0" y="260.9"/><use href="#pt" x="394.4" y="262.1"/><use href="#pt" x="415.5" y="277.6"/><use href="#pt" x="450.3" y="271.6"/><use href="#pt" x="349.4" y="241.3"/><use href="#pt" x="417.6" y="283.5"/><use href="#pt" x="391.3" y="262.0"/><use href="#pt" x="442.9" y="284.4"/><use href="#pt" x="412.4" y="276.3"/><use href="#pt" x="415.8" y="280.6"/><use href="#pt" x="440.0" y="260.4"/><use href="#pt" x="422.7" y="278.5"/><use href="#pt" x="400.8" y="248.9"/><use href="#pt" x="431.8" y="252.9"/><use href="#pt" x="365.2" y="243.1"/><use href="#pt" x="431.7" y="254.9"/><use href="#pt" x="444.1" y="262.6"/><use href="#pt" x="399.5" y="256.1"/><use href="#pt" x="442.0" y="277.4"/><use href="#pt" x="408.5" y="261.6"/><use href="#pt" x="382.1" y="259.6"/><use href="#pt" x="383.7" y="260.5"/><use href="#pt" x="401.2" y="254.8"/><use href="#pt" x="467.5" y="267.1"/><use href="#pt" x="370.5" y="242.4"/><use href="#pt" x="439.8" y="280.7"/><use href="#pt" x="441.7" y="242.4"/><use href="#pt" x="426.9" y="294.9"/><use href="#pt" x="460.2" y="278.3"/><use href="#pt" x="364.7" y="248.4"/><use href="#pt" x="377.8" y="240.3"/><use href="#pt" x="396.4" y="243.4"/><use href="#pt" x="460.5" y="273.6"/><use href="#pt" x="395.5" y="251.3"/><use href="#pt" x="456.0" y="258.4"/><use href="#pt" x="402.7" y="241.4"/><use href="#pt" x="415.9" y="261.5"/><use href="#pt" x="419.6" y="279.0"/><use href="#pt" x="434.1" y="292.9"/><use href="#pt" x="384.7" y="247.8"/><use href="#pt" x="367.7" y="245.2"/><use href="#pt" x="382.5" y="243.9"/><use href="#pt" x="422.9" y="285.2"/><use href="#pt" x="397.0" y="259.5"/><use href="#pt" x="422.4" y="249.4"/><use href="#pt" x="405.1" y="259.0"/><use href="#pt" x="455.6" y="272.2"/><use href="#pt" x="438.5" y="247.3"/><use href="#pt" x="441.7" y="280.1"/><use href="#pt" x="427.7" y="255.3"/><use href="#pt" x="430.7" y="260.6"/><use href="#pt" x="405.9" y="243.9"/><use href="#pt" x="428.2" y="293.7"/><use href="#pt" x="456.0" y="246.9"/><use href="#pt" x="378.2" y="248.6"/><use href="#pt" x="393.9" y="267.1"/><use href="#pt" x="424.3" y="286.7"/><use href="#pt" x="360.2" y="251.7"/><use href="#pt" x="432.9" y="241.7"/><use href="#pt" x="445.1" y="272.9"/><use href="#pt" x="416.5" y="247.3"/><use href="#pt" x="379.5" y="247.6"/><use href="#pt" x="381.7" y="266.6"/><use href="#pt" x="414.4" y="264.6"/><use href="#pt" x="449.1" y="250.6"/><use href="#pt" x="434.3" y="247.9"/><use href="#pt" x="387.5" y="255.2"/><use href="#pt" x="374.7" y="249.3"/><use href="#pt" x="394.0" y="274.0"/><use href="#pt" x="430.6" y="252.5"/><use href="#pt" x="438.1" y="288.4"/><use href="#pt" x="448.5" y="278.4"/><use href="#pt" x="445.4" y="285.3"/><use href="#pt" x="473.8" y="269.8"/><use href="#pt" x="467.8" y="270.1"/><use href="#pt" x="425.5" y="263.9"/><use href="#pt" x="373.3" y="257.2"/><use href="#pt" x="450.5" y="267.5"/><use href="#pt" x="469.7" y="245.4"/><use href="#pt" x="406.2" y="278.9"/><use href="#pt" x="439.5" y="264.2"/><use href="#pt" x="416.9" y="287.9"/><use href="#pt" x="471.1" y="270.8"/><use href="#pt" x="376.8" y="255.1"/><use href="#pt" x="386.3" y="240.5"/><use href="#pt" x="376.1" y="248.3"/><use href="#pt" x="421.2" y="244.4"/><use href="#pt" x="428.5" y="279.9"/><use href="#pt" x="389.1" y="252.0"/><use href="#pt" x="426.8" y="284.9"/><use href="#pt" x="393.3" y="258.5"/><use href="#pt" x="369.6" y="249.8"/><use href="#pt" x="399.9" y="240.6"/><use href="#pt" x="422.8" y="270.2"/><use href="#pt" x="426.4" y="292.8"/><use href="#pt" x="412.5" y="247.4"/><use href="#pt" x="368.8" y="243.0"/><use href="#pt" x="374.4" y="261.0"/><use href="#pt" x="440.1" y="285.3"/><use href="#pt" x="400.9" y="240.8"/><use href="#pt" x="423.7" y="280.1"/><use href="#pt" x="431.9" y="268.2"/><use href="#pt" x="423.8" y="267.2"/><use href="#pt" x="423.0" y="280.2"/><use href="#pt" x="404.3" y="240.3"/><use href="#pt" x="395.1" y="246.4"/><use href="#pt" x="404.6" y="254.5"/><use href="#pt" x="389.0" y="266.4"/><use href="#pt" x="377.0" y="258.5"/><use href="#pt" x="421.5" y="276.3"/><use href="#pt" x="421.4" y="244.7"/><use href="#pt" x="421.4" y="241.0"/><use href="#pt" x="441.6" y="266.7"/><use href="#pt" x="415.7" y="266.1"/><use href="#pt" x="440.0" y="290.4"/><use href="#pt" x="442.7" y="269.5"/><use href="#pt" x="444.6" y="260.3"/><use href="#pt" x="366.6" y="246.1"/><use href="#pt" x="436.0" y="279.1"/><use href="#pt" x="417.2" y="250.2"/><use href="#pt" x="358.2" y="243.6"/><use href="#pt" x="399.6" y="262.1"/><use href="#pt" x="388.1" y="269.7"/><use href="#pt" x="381.9" y="249.0"/><use href="#pt" x="413.5" y="269.4"/><use href="#pt" x="407.4" y="280.9"/><use href="#pt" x="338.9" y="240.6"/><use href="#pt" x="384.9" y="259.4"/><use href="#pt" x="411.2" y="279.4"/><use href="#pt" x="394.1" y="256.6"/><use href="#pt" x="394.5" y="272.5"/><use href="#pt" x="426.2" y="245.5"/><use href="#pt" x="439.1" y="289.2"/><use href="#pt" x="397.0" y="250.5"/><use href="#pt" x="387.7" y="242.5"/><use href="#pt" x="431.9" y="274.5"/><use href="#pt" x="427.5" y="247.6"/><use href="#pt" x="346.5" y="240.8"/><use href="#pt" x="420.8" y="248.2"/><use href="#pt" x="390.8" y="241.8"/><use href="#pt" x="342.5" y="242.4"/><use href="#pt" x="448.5" y="259.0"/><use href="#pt" x="428.8" y="278.5"/><use href="#pt" x="410.9" y="270.2"/><use href="#pt" x="408.0" y="260.8"/><use href="#pt" x="366.0" y="252.7"/><use href="#pt" x="454.5" y="267.5"/><use href="#pt" x="421.4" y="288.6"/><use href="#pt" x="383.6" y="265.6"/><use href="#pt" x="378.9" y="257.8"/><use href="#pt" x="438.7" y="256.0"/><use href="#pt" x="374.6" y="250.4"/><use href="#pt" x="421.3" y="252.3"/><use href="#pt" x="435.6" y="265.9"/><use href="#pt" x="434.5" y="280.5"/><use href="#pt" x="375.7" y="264.3"/><use href="#pt" x="426.5" y="291.5"/><use href="#pt" x="353.4" y="244.1"/><use href="#pt" x="395.7" y="267.6"/><use href="#pt" x="410.1" y="260.9"/><use href="#pt" x="440.9" y="268.3"/><use href="#pt" x="381.9" y="242.8"/><use href="#pt" x="369.5" y="257.9"/><use href="#pt" x="436.9" y="292.2"/><use href="#pt" x="403.1" y="278.1"/><use href="#pt" x="379.9" y="249.5"/><use href="#pt" x="428.3" y="246.6"/><use href="#pt" x="429.6" y="292.1"/><use href="#pt" x="435.6" y="271.3"/><use href="#pt" x="423.5" y="278.1"/><use href="#pt" x="471.2" y="254.1"/><use href="#pt" x="427.2" y="258.8"/><use href="#pt" x="379.5" y="242.4"/><use href="#pt" x="396.7" y="244.8"/><use href="#pt" x="354.1" y="250.7"/><use href="#pt" x="434.1" y="267.3"/><use href="#pt" x="410.3" y="255.8"/><use href="#pt" x="383.0" y="251.1"/><use href="#pt" x="422.9" y="282.1"/><use href="#pt" x="385.9" y="249.2"/><use href="#pt" x="409.3" y="264.6"/><use href="#pt" x="386.7" y="267.3"/><use href="#pt" x="451.7" y="269.8"/><use href="#pt" x="463.5" y="264.5"/><use href="#pt" x="410.9" y="251.6"/><use href="#pt" x="432.7" y="273.6"/><use href="#pt" x="406.4" y="244.8"/><use href="#pt" x="422.2" y="268.9"/><use href="#pt" x="444.2" y="276.5"/><use href="#pt" x="480.8" y="263.8"/><use href="#pt" x="444.5" y="269.1"/><use href="#pt" x="426.1" y="245.2"/><use href="#pt" x="347.9" y="244.9"/><use href="#pt" x="375.8" y="258.9"/><use href="#pt" x="382.5" y="248.3"/><use href="#pt" x="427.3" y="288.8"/><use href="#pt" x="368.1" y="258.7"/><use href="#pt" x="376.6" y="244.9"/><use href="#pt" x="440.1" y="281.4"/><use href="#pt" x="383.6" y="248.6"/><use href="#pt" x="429.1" y="248.1"/><use href="#pt" x="428.4" y="254.4"/><use href="#pt" x="460.0" y="273.9"/><use href="#pt" x="437.2" y="262.3"/><use href="#pt" x="418.1" y="283.8"/><use href="#pt" x="425.2" y="267.0"/><use href="#pt" x="357.5" y="244.3"/><use href="#pt" x="385.6" y="255.7"/><use href="#pt" x="441.0" y="256.4"/><use href="#pt" x="411.2" y="279.3"/><use href="#pt" x="386.4" y="268.7"/><use href="#pt" x="448.9" y="271.0"/><use href="#pt" x="436.2" y="285.8"/><use href="#pt" x="419.8" y="261.4"/><use href="#pt" x="421.1" y="251.6"/><use href="#pt" x="372.1" y="246.9"/><use href="#pt" x="408.1" y="276.1"/><use href="#pt" x="393.7" y="265.9"/><use href="#pt" x="416.1" y="290.1"/><use href="#pt" x="448.8" y="275.0"/><use href="#pt" x="413.3" y="279.0"/><use href="#pt" x="456.4" y="271.0"/><use href="#pt" x="423.8" y="291.9"/><use href="#pt" x="451.3" y="268.0"/><use href="#pt" x="404.3" y="260.1"/><use href="#pt" x="435.4" y="279.6"/><use href="#pt" x="339.3" y="239.7"/><use href="#pt" x="393.3" y="262.2"/><use href="#pt" x="396.9" y="256.9"/><use href="#pt" x="376.9" y="265.7"/><use href="#pt" x="381.1" y="257.0"/><use href="#pt" x="454.9" y="280.9"/><use href="#pt" x="404.6" y="255.5"/><use href="#pt" x="435.0" y="293.6"/><use href="#pt" x="420.9" y="260.0"/><use href="#pt" x="433.7" y="272.7"/><use href="#pt" x="387.4" y="259.4"/><use href="#pt" x="375.8" y="251.6"/><use href="#pt" x="428.6" y="256.1"/><use href="#pt" x="384.3" y="250.9"/><use href="#pt" x="449.3" y="258.1"/><use href="#pt" x="470.3" y="272.8"/><use href="#pt" x="388.1" y="257.2"/><use href="#pt" x="476.7" y="258.4"/><use href="#pt" x="470.0" y="268.6"/><use href="#pt" x="376.9" y="246.4"/><use href="#pt" x="396.5" y="256.6"/><use href="#pt" x="387.8" y="256.4"/><use href="#pt" x="412.4" y="272.6"/><use href="#pt" x="375.0" y="260.1"/><use href="#pt" x="435.3" y="243.5"/><use href="#pt" x="419.5" y="289.0"/><use href="#pt" x="412.4" y="273.5"/><use href="#pt" x="456.7" y="261.6"/><use href="#pt" x="387.5" y="267.2"/><use href="#pt" x="391.2" y="254.9"/><use href="#pt" x="364.9" y="255.3"/><use href="#pt" x="426.3" y="268.4"/><use href="#pt" x="351.5" y="241.6"/><use href="#pt" x="397.6" y="267.3"/><use href="#pt" x="423.1" y="287.5"/><use href="#pt" x="436.1" y="290.8"/><use href="#pt" x="397.7" y="277.6"/><use href="#pt" x="383.2" y="256.2"/><use href="#pt" x="414.9" y="282.6"/><use href="#pt" x="398.8" y="279.3"/><use href="#pt" x="360.7" y="245.3"/><use href="#pt" x="412.3" y="285.9"/><use href="#pt" x="480.7" y="257.1"/><use href="#pt" x="460.9" y="270.0"/><use href="#pt" x="416.9" y="243.0"/><use href="#pt" x="425.8" y="273.9"/><use href="#pt" x="433.1" y="286.2"/><use href="#pt" x="419.9" y="254.0"/><use href="#pt" x="409.3" y="265.7"/><use href="#pt" x="405.4" y="250.1"/><use href="#pt" x="438.5" y="257.3"/><use href="#pt" x="435.3" y="258.4"/><use href="#pt" x="431.9" y="296.5"/><use href="#pt" x="373.4" y="250.0"/><use href="#pt" x="432.9" y="283.3"/><use href="#pt" x="439.9" y="285.9"/><use href="#pt" x="446.9" y="269.3"/><use href="#pt" x="379.5" y="243.9"/><use href="#pt" x="423.8" y="260.6"/><use href="#pt" x="375.0" y="261.8"/><use href="#pt" x="404.6" y="261.2"/><use href="#pt" x="387.9" y="262.1"/><use href="#pt" x="422.2" y="268.0"/><use href="#pt" x="373.3" y="244.2"/><use href="#pt" x="347.3" y="247.9"/><use href="#pt" x="458.9" y="250.8"/><use href="#pt" x="367.0" y="246.6"/><use href="#pt" x="424.0" y="269.8"/><use href="#pt" x="412.5" y="268.5"/><use href="#pt" x="431.8" y="285.0"/><use href="#pt" x="412.9" y="268.2"/><use href="#pt" x="415.8" y="262.2"/><use href="#pt" x="454.3" y="271.3"/><use href="#pt" x="421.8" y="281.9"/><use href="#pt" x="438.4" y="252.2"/><use href="#pt" x="413.1" y="274.1"/><use href="#pt" x="417.6" y="258.7"/><use href="#pt" x="411.7" y="242.1"/><use href="#pt" x="479.1" y="260.6"/><use href="#pt" x="428.4" y="273.6"/><use href="#pt" x="401.7" y="266.4"/><use href="#pt" x="387.5" y="258.9"/><use href="#pt" x="448.2" y="281.7"/><use href="#pt" x="378.2" y="241.1"/><use href="#pt" x="426.9" y="246.9"/><use href="#pt" x="393.1" y="251.5"/><use href="#pt" x="358.4" y="242.9"/><use href="#pt" x="415.1" y="257.5"/><use href="#pt" x="354.3" y="241.7"/><use href="#pt" x="369.4" y="244.5"/><use href="#pt" x="419.6" y="281.9"/><use href="#pt" x="422.5" y="277.2"/><use href="#pt" x="359.6" y="251.5"/><use href="#pt" x="414.9" y="244.1"/><use href="#pt" x="384.0" y="265.9"/><use href="#pt" x="380.4" y="249.3"/><use href="#pt" x="459.1" y="275.1"/><use href="#pt" x="399.2" y="265.3"/><use href="#pt" x="367.6" y="245.6"/><use href="#pt" x="439.8" y="253.9"/><use href="#pt" x="447.5" y="271.0"/><use href="#pt" x="431.9" y="251.5"/><use href="#pt" x="428.3" y="243.2"/><use href="#pt" x="452.3" y="276.4"/><use href="#pt" x="460.8" y="271.2"/><use href="#pt" x="363.4" y="256.6"/><use href="#pt" x="369.4" y="247.2"/><use href="#pt" x="452.5" y="275.4"/><use href="#pt" x="441.4" y="248.2"/><use href="#pt" x="366.2" y="244.9"/><use href="#pt" x="357.6" y="250.6"/><use href="#pt" x="442.4" y="257.8"/><use href="#pt" x="377.0" y="254.1"/><use href="#pt" x="352.2" y="247.0"/><use href="#pt" x="381.0" y="241.4"/><use href="#pt" x="356.4" y="248.4"/><use href="#pt" x="458.3" y="261.9"/><use href="#pt" x="348.1" y="241.3"/><use href="#pt" x="439.6" y="258.8"/><use href="#pt" x="345.5" y="242.9"/><use href="#pt" x="348.6" y="240.4"/><use href="#pt" x="438.5" y="260.6"/><use href="#pt" x="410.0" y="277.3"/><use href="#pt" x="429.2" y="297.1"/><use href="#pt" x="452.7" y="275.2"/><use href="#pt" x="428.5" y="287.8"/><use href="#pt" x="415.9" y="271.6"/><use href="#pt" x="391.5" y="249.3"/><use href="#pt" x="418.1" y="266.1"/><use href="#pt" x="430.8" y="277.5"/><use href="#pt" x="439.4" y="258.7"/><use href="#pt" x="430.4" y="266.9"/><use href="#pt" x="450.7" y="283.4"/><use href="#pt" x="356.5" y="243.9"/><use href="#pt" x="401.1" y="259.8"/><use href="#pt" x="460.4" y="275.2"/><use href="#pt" x="366.8" y="244.2"/><use href="#pt" x="428.7" y="289.9"/><use href="#pt" x="420.5" y="267.0"/><use href="#pt" x="403.8" y="279.8"/><use href="#pt" x="353.5" y="239.8"/><use href="#pt" x="451.8" y="249.6"/><use href="#pt" x="443.6" y="264.9"/><use href="#pt" x="413.5" y="281.5"/><use href="#pt" x="418.9" y="289.1"/><use href="#pt" x="403.4" y="261.7"/><use href="#pt" x="426.9" y="292.8"/><use href="#pt" x="416.7" y="271.9"/><use href="#pt" x="422.7" y="292.2"/><use href="#pt" x="355.3" y="251.7"/><use href="#pt" x="465.2" y="255.4"/><use href="#pt" x="400.4" y="274.4"/><use href="#pt" x="431.1" y="270.3"/><use href="#pt" x="372.6" y="260.7"/><use href="#pt" x="370.9" y="240.0"/><use href="#pt" x="391.2" y="262.0"/><use href="#pt" x="378.3" y="262.1"/><use href="#pt" x="377.7" y="264.5"/><use href="#pt" x="413.9" y="280.9"/><use href="#pt" x="433.6" y="286.8"/><use href="#pt" x="384.1" y="248.8"/><use href="#pt" x="434.0" y="292.3"/><use href="#pt" x="403.3" y="263.3"/><use href="#pt" x="442.8" y="286.4"/><use href="#pt" x="394.6" y="249.0"/><use href="#pt" x="353.0" y="249.5"/><use href="#pt" x="392.8" y="260.7"/><use href="#pt" x="396.3" y="267.5"/><use href="#pt" x="402.2" y="276.6"/><use href="#pt" x="356.3" y="252.1"/><use href="#pt" x="385.5" y="243.8"/><use href="#pt" x="421.4" y="281.5"/><use href="#pt" x="409.4" y="266.6"/><use href="#pt" x="365.6" y="248.0"/><use href="#pt" x="361.6" y="256.8"/><use href="#pt" x="443.9" y="268.7"/><use href="#pt" x="439.7" y="279.8"/><use href="#pt" x="380.0" y="253.4"/><use href="#pt" x="356.3" y="242.1"/><use href="#pt" x="412.0" y="280.4"/><use href="#pt" x="453.1" y="281.8"/><use href="#pt" x="451.5" y="265.4"/><use href="#pt" x="427.6" y="258.4"/><use href="#pt" x="380.9" y="249.4"/><use href="#pt" x="403.6" y="273.8"/><use href="#pt" x="427.9" y="293.7"/><use href="#pt" x="422.3" y="291.7"/><use href="#pt" x="461.5" y="249.1"/><use href="#pt" x="410.8" y="275.8"/><use href="#pt" x="430.9" y="268.2"/><use href="#pt" x="371.3" y="254.1"/><use href="#pt" x="422.1" y="281.9"/><use href="#pt" x="365.7" y="256.3"/><use href="#pt" x="353.5" y="244.1"/><use href="#pt" x="353.7" y="248.6"/><use href="#pt" x="417.3" y="284.0"/><use href="#pt" x="415.2" y="251.3"/><use href="#pt" x="403.7" y="258.0"/><use href="#pt" x="452.9" y="274.7"/><use href="#pt" x="473.5" y="255.7"/><use href="#pt" x="428.2" y="244.0"/><use href="#pt" x="380.2" y="258.2"/><use href="#pt" x="391.0" y="275.0"/><use href="#pt" x="402.6" y="271.5"/><use href="#pt" x="442.9" y="277.6"/><use href="#pt" x="416.5" y="286.1"/><use href="#pt" x="362.6" y="244.0"/><use href="#pt" x="420.5" y="273.9"/><use href="#pt" x="416.4" y="256.1"/><use href="#pt" x="448.5" y="244.5"/><use href="#pt" x="424.5" y="288.1"/><use href="#pt" x="437.4" y="281.7"/><use href="#pt" x="427.7" y="251.0"/><use href="#pt" x="423.5" y="245.9"/><use href="#pt" x="432.0" y="295.5"/><use href="#pt" x="438.2" y="267.6"/><use href="#pt" x="459.3" y="279.4"/><use href="#pt" x="402.8" y="252.8"/><use href="#pt" x="433.7" y="284.0"/><use href="#pt" x="418.4" y="287.4"/><use href="#pt" x="425.2" y="268.4"/><use href="#pt" x="412.9" y="247.2"/><use href="#pt" x="438.6" y="290.8"/><use href="#pt" x="398.7" y="256.7"/><use href="#pt" x="463.4" y="260.3"/><use href="#pt" x="380.5" y="242.3"/><use href="#pt" x="423.8" y="243.7"/><use href="#pt" x="442.4" y="284.6"/><use href="#pt" x="374.4" y="250.6"/><use href="#pt" x="424.2" y="259.7"/><use href="#pt" x="488.3" y="241.2"/><use href="#pt" x="385.9" y="257.6"/><use href="#pt" x="472.2" y="252.4"/><use href="#pt" x="444.7" y="260.5"/><use href="#pt" x="414.0" y="268.6"/><use href="#pt" x="397.2" y="265.0"/><use href="#pt" x="361.4" y="243.3"/><use href="#pt" x="430.9" y="241.6"/><use href="#pt" x="451.2" y="278.6"/><use href="#pt" x="409.0" y="276.2"/><use href="#pt" x="473.0" y="260.6"/><use href="#pt" x="458.6" y="277.8"/><use href="#pt" x="366.9" y="246.5"/><use href="#pt" x="459.4" y="261.4"/><use href="#pt" x="412.2" y="267.1"/><use href="#pt" x="415.8" y="285.8"/><use href="#pt" x="403.3" y="271.0"/><use href="#pt" x="383.1" y="247.9"/><use href="#pt" x="414.4" y="278.4"/><use href="#pt" x="377.9" y="267.0"/><use href="#pt" x="397.3" y="241.4"/><use href="#pt" x="408.8" y="264.7"/><use href="#pt" x="402.0" y="248.5"/><use href="#pt" x="393.3" y="275.4"/><use href="#pt" x="409.1" y="261.2"/><use href="#pt" x="415.5" y="239.9"/><use href="#pt" x="427.9" y="296.3"/><use href="#pt" x="423.0" y="251.7"/><use href="#pt" x="455.3" y="270.2"/><use href="#pt" x="435.8" y="288.8"/><use href="#pt" x="406.4" y="262.8"/><use href="#pt" x="389.6" y="245.1"/><use href="#pt" x="406.1" y="256.1"/><use href="#pt" x="417.7" y="259.6"/><use href="#pt" x="407.5" y="272.1"/><use href="#pt" x="355.7" y="242.3"/><use href="#pt" x="442.3" y="249.4"/><use href="#pt" x="410.9" y="276.4"/><use href="#pt" x="431.1" y="277.7"/><use href="#pt" x="385.8" y="262.5"/><use href="#pt" x="447.4" y="286.4"/><use href="#pt" x="441.9" y="273.3"/><use href="#pt" x="417.4" y="250.8"/><use href="#pt" x="416.1" y="262.7"/><use href="#pt" x="422.2" y="270.8"/><use href="#pt" x="439.3" y="261.6"/><use href="#pt" x="454.8" y="271.8"/><use href="#pt" x="382.2" y="253.3"/><use href="#pt" x="394.3" y="266.6"/><use href="#pt" x="408.7" y="254.2"/><use href="#pt" x="457.0" y="260.2"/><use href="#pt" x="420.3" y="258.8"/><use href="#pt" x="378.5" y="257.7"/><use href="#pt" x="404.2" y="272.1"/><use href="#pt" x="457.3" y="280.9"/><use href="#pt" x="405.2" y="270.9"/><use href="#pt" x="398.2" y="263.2"/><use href="#pt" x="424.9" y="247.6"/><use href="#pt" x="432.5" y="271.7"/><use href="#pt" x="403.1" y="260.5"/><use href="#pt" x="438.2" y="246.7"/><use href="#pt" x="429.8" y="246.1"/><use href="#pt" x="391.0" y="267.5"/><use href="#pt" x="438.5" y="249.1"/><use href="#pt" x="373.9" y="264.1"/><use href="#pt" x="349.8" y="242.4"/><use href="#pt" x="431.2" y="246.1"/><use href="#pt" x="376.0" y="254.4"/><use href="#pt" x="441.9" y="264.2"/><use href="#pt" x="448.6" y="263.6"/><use href="#pt" x="355.1" y="247.3"/><use href="#pt" x="455.4" y="274.9"/><use href="#pt" x="439.5" y="287.2"/><use href="#pt" x="362.0" y="247.3"/><use href="#pt" x="437.0" y="267.8"/><use href="#pt" x="398.8" y="267.9"/><use href="#pt" x="416.7" y="248.5"/><use href="#pt" x="461.4" y="261.0"/><use href="#pt" x="441.4" y="283.9"/><use href="#pt" x="438.6" y="284.1"/><use href="#pt" x="402.6" y="278.0"/><use href="#pt" x="366.0" y="248.4"/><use href="#pt" x="382.8" y="242.3"/><use href="#pt" x="409.5" y="277.2"/><use href="#pt" x="367.7" y="250.0"/><use href="#pt" x="464.4" y="270.4"/><use href="#pt" x="456.9" y="249.9"/><use href="#pt" x="382.3" y="269.0"/><use href="#pt" x="392.4" y="270.6"/><use href="#pt" x="436.5" y="268.4"/><use href="#pt" x="429.6" y="297.7"/><use href="#pt" x="435.0" y="253.4"/><use href="#pt" x="425.5" y="270.9"/><use href="#pt" x="473.1" y="271.5"/><use href="#pt" x="355.7" y="241.7"/><use href="#pt" x="417.7" y="286.5"/><use href="#pt" x="426.3" y="292.5"/><use href="#pt" x="442.4" y="266.1"/><use href="#pt" x="378.4" y="262.4"/><use href="#pt" x="436.4" y="286.8"/><use href="#pt" x="444.0" y="248.2"/><use href="#pt" x="397.1" y="269.0"/><use href="#pt" x="433.0" y="262.5"/><use href="#pt" x="396.8" y="272.2"/><use href="#pt" x="447.2" y="250.4"/><use href="#pt" x="407.7" y="272.9"/><use href="#pt" x="442.0" y="245.4"/><use href="#pt" x="434.5" y="266.0"/><use href="#pt" x="427.3" y="264.9"/><use href="#pt" x="489.0" y="246.0"/><use href="#pt" x="442.5" y="262.2"/><use href="#pt" x="453.3" y="246.6"/><use href="#pt" x="437.7" y="274.3"/><use href="#pt" x="390.2" y="258.6"/><use href="#pt" x="436.0" y="285.5"/><use href="#pt" x="444.9" y="269.3"/><use href="#pt" x="447.6" y="284.6"/><use href="#pt" x="432.5" y="258.7"/><use href="#pt" x="407.1" y="247.8"/><use href="#pt" x="430.8" y="271.7"/><use href="#pt" x="411.3" y="265.2"/><use href="#pt" x="369.7" y="243.2"/><use href="#pt" x="371.6" y="259.5"/><use href="#pt" x="409.5" y="259.6"/><use href="#pt" x="378.9" y="243.1"/><use href="#pt" x="448.8" y="248.8"/><use href="#pt" x="412.0" y="278.4"/><use href="#pt" x="398.3" y="265.5"/><use href="#pt" x="385.0" y="250.0"/><use href="#pt" x="436.2" y="270.6"/><use href="#pt" x="411.7" y="279.9"/><use href="#pt" x="474.1" y="262.7"/><use href="#pt" x="396.0" y="274.5"/><use href="#pt" x="460.4" y="262.1"/><use href="#pt" x="409.5" y="256.9"/><use href="#pt" x="437.8" y="287.7"/><use href="#pt" x="378.0" y="258.4"/><use href="#pt" x="373.2" y="259.8"/><use href="#pt" x="391.8" y="263.8"/><use href="#pt" x="385.7" y="264.8"/><use href="#pt" x="418.4" y="291.2"/><use href="#pt" x="434.4" y="276.9"/><use href="#pt" x="344.5" y="242.4"/><use href="#pt" x="396.9" y="269.8"/><use href="#pt" x="375.2" y="254.6"/><use href="#pt" x="440.6" y="279.2"/><use href="#pt" x="400.4" y="253.3"/><use href="#pt" x="417.6" y="273.3"/><use href="#pt" x="470.7" y="269.7"/><use href="#pt" x="421.6" y="244.4"/><use href="#pt" x="379.4" y="266.7"/><use href="#pt" x="432.3" y="286.4"/><use href="#pt" x="410.3" y="277.9"/><use href="#pt" x="433.5" y="289.3"/><use href="#pt" x="420.4" y="287.8"/><use href="#pt" x="398.1" y="244.6"/><use href="#pt" x="362.9" y="246.1"/><use href="#pt" x="398.9" y="279.6"/><use href="#pt" x="420.3" y="267.9"/><use href="#pt" x="442.1" y="261.1"/><use href="#pt" x="467.7" y="269.0"/><use href="#pt" x="386.5" y="263.8"/><use href="#pt" x="372.1" y="252.9"/><use href="#pt" x="433.1" y="258.8"/><use href="#pt" x="373.8" y="245.2"/><use href="#pt" x="444.2" y="255.9"/><use href="#pt" x="390.2" y="264.6"/><use href="#pt" x="391.7" y="272.7"/><use href="#pt" x="433.7" y="260.8"/><use href="#pt" x="427.3" y="250.6"/><use href="#pt" x="412.7" y="276.6"/><use href="#pt" x="405.3" y="257.8"/><use href="#pt" x="464.8" y="270.1"/><use href="#pt" x="373.7" y="255.5"/><use href="#pt" x="459.3" y="275.7"/><use href="#pt" x="350.2" y="243.2"/><use href="#pt" x="390.1" y="270.2"/><use href="#pt" x="413.0" y="263.1"/><use href="#pt" x="399.4" y="269.6"/><use href="#pt" x="387.6" y="255.8"/><use href="#pt" x="357.8" y="243.0"/><use href="#pt" x="411.8" y="243.9"/><use href="#pt" x="370.0" y="241.6"/><use href="#pt" x="461.2" y="270.2"/><use href="#pt" x="425.5" y="286.0"/><use href="#pt" x="414.7" y="270.3"/><use href="#pt" x="408.1" y="254.3"/><use href="#pt" x="429.0" y="285.3"/><use href="#pt" x="453.3" y="278.2"/><use href="#pt" x="428.2" y="240.0"/><use href="#pt" x="421.5" y="291.8"/><use href="#pt" x="429.6" y="279.8"/><use href="#pt" x="417.0" y="284.1"/><use href="#pt" x="390.0" y="250.3"/><use href="#pt" x="438.2" y="268.3"/><use href="#pt" x="363.5" y="253.1"/><use href="#pt" x="427.3" y="273.8"/><use href="#pt" x="433.4" y="243.8"/><use href="#pt" x="335.1" y="240.1"/><use href="#pt" x="423.3" y="289.4"/><use href="#pt" x="411.9" y="265.4"/><use href="#pt" x="413.0" y="285.2"/><use href="#pt" x="399.4" y="258.1"/><use href="#pt" x="375.4" y="245.1"/><use href="#pt" x="387.9" y="263.0"/><use href="#pt" x="409.6" y="256.7"/><use href="#pt" x="350.3" y="243.1"/><use href="#pt" x="420.0" y="251.5"/><use href="#pt" x="380.2" y="244.7"/><use href="#pt" x="374.0" y="246.1"/><use href="#pt" x="422.2" y="260.1"/><use href="#pt" x="428.7" y="245.8"/><use href="#pt" x="402.6" y="276.4"/><use href="#pt" x="381.3" y="251.0"/><use href="#pt" x="380.1" y="242.9"/><use href="#pt" x="422.4" y="288.7"/><use href="#pt" x="413.2" y="257.8"/><use href="#pt" x="426.5" y="285.7"/><use href="#pt" x="392.1" y="264.3"/><use href="#pt" x="435.3" y="291.1"/><use href="#pt" x="363.7" y="257.4"/><use href="#pt" x="374.7" y="257.5"/><use href="#pt" x="462.8" y="269.1"/><use href="#pt" x="446.9" y="268.9"/><use href="#pt" x="437.4" y="276.0"/><use href="#pt" x="335.3" y="240.4"/><use href="#pt" x="445.3" y="262.9"/><use href="#pt" x="440.9" y="286.9"/><use href="#pt" x="361.6" y="240.5"/><use href="#pt" x="387.3" y="270.9"/><use href="#pt" x="448.6" y="279.8"/><use href="#pt" x="427.7" y="281.8"/><use href="#pt" x="416.5" y="264.7"/><use href="#pt" x="417.5" y="274.9"/><use href="#pt" x="440.8" y="259.3"/><use href="#pt" x="378.0" y="260.8"/><use href="#pt" x="471.6" y="264.3"/><use href="#pt" x="401.2" y="251.9"/><use href="#pt" x="378.1" y="258.5"/><use href="#pt" x="359.4" y="248.6"/><use href="#pt" x="432.2" y="266.1"/><use href="#pt" x="441.3" y="283.7"/><use href="#pt" x="404.5" y="259.6"/><use href="#pt" x="383.0" y="268.4"/><use href="#pt" x="402.0" y="265.3"/><use href="#pt" x="474.9" y="243.9"/><use href="#pt" x="428.8" y="278.5"/><use href="#pt" x="435.0" y="293.8"/><use href="#pt" x="359.6" y="251.7"/><use href="#pt" x="439.3" y="264.8"/><use href="#pt" x="420.3" y="241.9"/><use href="#pt" x="386.0" y="271.9"/><use href="#pt" x="407.8" y="278.9"/><use href="#pt" x="381.1" y="240.1"/><use href="#pt" x="429.3" y="254.5"/><use href="#pt" x="361.0" y="252.8"/><use href="#pt" x="350.6" y="245.3"/><use href="#pt" x="469.4" y="262.4"/><use href="#pt" x="392.0" y="272.3"/><use href="#pt" x="389.9" y="242.8"/><use href="#pt" x="394.1" y="271.7"/><use href="#pt" x="446.6" y="264.6"/><use href="#pt" x="446.9" y="288.0"/><use href="#pt" x="413.4" y="278.3"/><use href="#pt" x="353.4" y="243.0"/><use href="#pt" x="356.7" y="240.8"/><use href="#pt" x="361.0" y="243.6"/><use href="#pt" x="416.7" y="243.9"/><use href="#pt" x="445.7" y="273.7"/><use href="#pt" x="382.2" y="264.2"/><use href="#pt" x="456.9" y="247.0"/><use href="#pt" x="407.2" y="282.5"/><use href="#pt" x="419.2" y="271.9"/><use href="#pt" x="404.1" y="267.1"/><use href="#pt" x="433.9" y="294.3"/><use href="#pt" x="436.3" y="270.9"/><use href="#pt" x="350.6" y="248.4"/><use href="#pt" x="449.8" y="279.0"/><use href="#pt" x="349.7" y="248.3"/><use href="#pt" x="367.6" y="245.3"/><use href="#pt" x="388.5" y="264.1"/><use href="#pt" x="370.5" y="261.9"/><use href="#pt" x="446.0" y="282.7"/><use href="#pt" x="412.5" y="254.1"/><use href="#pt" x="385.6" y="244.2"/><use href="#pt" x="423.2" y="274.7"/><use href="#pt" x="397.2" y="261.2"/><use href="#pt" x="388.9" y="252.3"/><use href="#pt" x="343.1" y="243.8"/><use href="#pt" x="372.8" y="260.2"/><use href="#pt" x="441.7" y="283.7"/><use href="#pt" x="396.4" y="245.1"/><use href="#pt" x="436.5" y="246.9"/><use href="#pt" x="448.4" y="265.9"/><use href="#pt" x="429.3" y="288.3"/><use href="#pt" x="449.7" y="279.9"/><use href="#pt" x="392.9" y="259.1"/><use href="#pt" x="445.7" y="281.3"/><use href="#pt" x="405.6" y="263.0"/><use href="#pt" x="371.6" y="262.4"/><use href="#pt" x="446.7" y="288.0"/><use href="#pt" x="427.0" y="297.4"/><use href="#pt" x="369.9" y="251.7"/><use href="#pt" x="387.7" y="250.0"/><use href="#pt" x="432.6" y="280.9"/><use href="#pt" x="459.4" y="272.6"/><use href="#pt" x="413.1" y="258.3"/><use href="#pt" x="411.8" y="271.4"/><use href="#pt" x="443.9" y="275.3"/><use href="#pt" x="414.9" y="269.2"/><use href="#pt" x="387.1" y="266.2"/><use href="#pt" x="370.7" y="251.1"/><use href="#pt" x="383.0" y="269.8"/><use href="#pt" x="419.8" y="257.6"/><use href="#pt" x="433.4" y="240.9"/><use href="#pt" x="433.9" y="290.6"/><use href="#pt" x="372.8" y="240.5"/><use href="#pt" x="431.5" y="293.6"/><use href="#pt" x="392.6" y="262.6"/><use href="#pt" x="361.6" y="244.0"/><use href="#pt" x="422.2" y="265.1"/><use href="#pt" x="390.4" y="261.3"/><use href="#pt" x="420.4" y="289.4"/><use href="#pt" x="411.9" y="278.5"/><use href="#pt" x="445.9" y="274.5"/><use href="#pt" x="358.6" y="248.0"/><use href="#pt" x="436.3" y="251.7"/><use href="#pt" x="441.0" y="285.1"/><use href="#pt" x="382.5" y="258.3"/><use href="#pt" x="361.4" y="243.5"/><use href="#pt" x="385.8" y="271.9"/><use href="#pt" x="408.0" y="258.5"/><use href="#pt" x="396.4" y="262.1"/><use href="#pt" x="410.3" y="251.1"/><use href="#pt" x="440.2" y="269.6"/><use href="#pt" x="440.9" y="289.5"/><use href="#pt" x="339.1" y="240.9"/><use href="#pt" x="426.5" y="273.4"/><use href="#pt" x="412.4" y="262.7"/><use href="#pt" x="423.7" y="288.7"/><use href="#pt" x="385.4" y="258.1"/><use href="#pt" x="372.2" y="245.0"/><use href="#pt" x="368.2" y="242.5"/><use href="#pt" x="370.5" y="256.6"/><use href="#pt" x="446.9" y="285.0"/><use href="#pt" x="425.0" y="274.9"/><use href="#pt" x="386.7" y="252.9"/><use href="#pt" x="354.4" y="241.7"/><use href="#pt" x="391.6" y="273.7"/><use href="#pt" x="431.6" y="281.9"/><use href="#pt" x="433.0" y="294.7"/><use href="#pt" x="398.1" y="248.0"/><use href="#pt" x="435.6" y="294.6"/><use href="#pt" x="373.1" y="258.7"/><use href="#pt" x="446.8" y="269.4"/><use href="#pt" x="385.5" y="265.0"/><use href="#pt" x="407.1" y="274.1"/><use href="#pt" x="432.3" y="292.9"/><use href="#pt" x="383.0" y="252.1"/><use href="#pt" x="417.1" y="287.2"/><use href="#pt" x="379.2" y="255.3"/><use href="#pt" x="371.7" y="256.8"/><use href="#pt" x="452.9" y="269.4"/><use href="#pt" x="397.9" y="244.9"/><use href="#pt" x="466.0" y="262.5"/><use href="#pt" x="458.3" y="268.7"/><use href="#pt" x="446.2" y="272.8"/><use href="#pt" x="449.2" y="258.6"/><use href="#pt" x="445.6" y="273.8"/><use href="#pt" x="402.7" y="280.3"/><use href="#pt" x="458.8" y="278.8"/><use href="#pt" x="367.4" y="246.4"/><use href="#pt" x="384.3" y="263.4"/><use href="#pt" x="435.7" y="250.4"/><use href="#pt" x="384.8" y="246.1"/><use href="#pt" x="415.5" y="280.0"/><use href="#pt" x="428.6" y="253.3"/><use href="#pt" x="365.7" y="246.5"/><use href="#pt" x="438.7" y="277.0"/><use href="#pt" x="396.3" y="241.3"/><use href="#pt" x="443.9" y="271.0"/><use href="#pt" x="388.3" y="257.4"/><use href="#pt" x="424.1" y="282.3"/><use href="#pt" x="433.6" y="279.4"/><use href="#pt" x="456.5" y="277.9"/><use href="#pt" x="446.3" y="270.3"/><use href="#pt" x="450.9" y="255.5"/><use href="#pt" x="429.0" y="295.7"/><use href="#pt" x="438.5" y="260.3"/><use href="#pt" x="408.9" y="278.9"/><use href="#pt" x="369.6" y="240.8"/><use href="#pt" x="404.7" y="240.7"/><use href="#pt" x="430.4" y="280.8"/><use href="#pt" x="429.0" y="279.3"/><use href="#pt" x="350.3" y="244.3"/><use href="#pt" x="410.9" y="263.8"/><use href="#pt" x="395.8" y="261.2"/><use href="#pt" x="418.1" y="275.0"/><use href="#pt" x="423.9" y="269.3"/><use href="#pt" x="386.0" y="253.0"/><use href="#pt" x="398.4" y="278.7"/><use href="#pt" x="397.3" y="260.4"/><use href="#pt" x="361.7" y="246.3"/><use href="#pt" x="432.5" y="273.0"/><use href="#pt" x="366.3" y="242.3"/><use href="#pt" x="383.4" y="258.7"/><use href="#pt" x="389.1" y="242.6"/><use href="#pt" x="402.6" y="240.6"/><use href="#pt" x="416.6" y="244.9"/><use href="#pt" x="400.7" y="276.7"/><use href="#pt" x="452.8" y="263.5"/><use href="#pt" x="431.7" y="264.9"/><use href="#pt" x="464.0" y="276.4"/><use href="#pt" x="351.0" y="248.0"/><use href="#pt" x="413.3" y="266.5"/><use href="#pt" x="441.0" y="261.0"/><use href="#pt" x="438.8" y="254.8"/><use href="#pt" x="382.8" y="246.6"/><use href="#pt" x="430.7" y="275.2"/><use href="#pt" x="422.8" y="273.8"/><use href="#pt" x="368.8" y="257.3"/><use href="#pt" x="382.7" y="260.8"/><use href="#pt" x="406.4" y="280.3"/><use href="#pt" x="395.8" y="270.3"/><use href="#pt" x="362.5" y="253.6"/><use href="#pt" x="404.9" y="263.6"/><use href="#pt" x="428.5" y="261.6"/><use href="#pt" x="460.0" y="274.0"/><use href="#pt" x="394.4" y="240.0"/><use href="#pt" x="410.6" y="255.6"/><use href="#pt" x="450.4" y="267.2"/><use href="#pt" x="415.3" y="265.8"/><use href="#pt" x="392.9" y="272.8"/><use href="#pt" x="350.6" y="247.5"/><use href="#pt" x="435.1" y="255.5"/><use href="#pt" x="478.3" y="263.0"/><use href="#pt" x="406.6" y="245.4"/><use href="#pt" x="370.8" y="251.5"/><use href="#pt" x="398.8" y="275.8"/><use href="#pt" x="403.6" y="250.7"/><use href="#pt" x="442.0" y="246.3"/><use href="#pt" x="435.2" y="283.0"/><use href="#pt" x="430.8" y="258.0"/><use href="#pt" x="453.4" y="248.8"/><use href="#pt" x="449.9" y="267.7"/><use href="#pt" x="351.4" y="247.5"/><use href="#pt" x="416.4" y="242.8"/><use href="#pt" x="465.2" y="259.2"/><use href="#pt" x="371.5" y="256.1"/><use href="#pt" x="382.8" y="264.3"/><use href="#pt" x="435.7" y="250.5"/><use href="#pt" x="428.8" y="293.5"/><use href="#pt" x="410.7" y="244.2"/><use href="#pt" x="356.2" y="250.3"/><use href="#pt" x="368.9" y="254.1"/><use href="#pt" x="390.9" y="260.9"/><use href="#pt" x="435.5" y="280.7"/><use href="#pt" x="464.3" y="251.4"/><use href="#pt" x="357.6" y="243.1"/><use href="#pt" x="459.8" y="274.4"/><use href="#pt" x="362.4" y="254.1"/><use href="#pt" x="452.9" y="277.5"/><use href="#pt" x="437.8" y="254.9"/><use href="#pt" x="367.7" y="240.3"/><use href="#pt" x="415.0" y="269.2"/><use href="#pt" x="421.9" y="291.1"/><use href="#pt" x="432.7" y="293.1"/><use href="#pt" x="403.3" y="282.1"/><use href="#pt" x="464.5" y="262.8"/><use href="#pt" x="465.2" y="262.4"/><use href="#pt" x="414.0" y="248.2"/><use href="#pt" x="466.6" y="273.8"/><use href="#pt" x="438.4" y="256.8"/><use href="#pt" x="404.9" y="240.6"/><use href="#pt" x="395.1" y="252.1"/><use href="#pt" x="436.1" y="247.0"/><use href="#pt" x="423.3" y="279.1"/><use href="#pt" x="403.1" y="270.9"/><use href="#pt" x="367.5" y="244.0"/><use href="#pt" x="377.7" y="247.6"/><use href="#pt" x="411.6" y="247.7"/><use href="#pt" x="415.2" y="281.6"/><use href="#pt" x="477.4" y="263.6"/><use href="#pt" x="414.1" y="276.3"/><use href="#pt" x="466.3" y="252.7"/><use href="#pt" x="454.2" y="254.8"/><use href="#pt" x="397.8" y="270.6"/><use href="#pt" x="350.3" y="245.4"/><use href="#pt" x="450.2" y="281.8"/><use href="#pt" x="390.5" y="242.3"/><use href="#pt" x="391.2" y="268.2"/><use href="#pt" x="406.4" y="280.0"/><use href="#pt" x="411.9" y="287.1"/><use href="#pt" x="435.9" y="243.8"/><use href="#pt" x="431.3" y="285.3"/><use href="#pt" x="367.0" y="243.6"/><use href="#pt" x="351.8" y="242.9"/><use href="#pt" x="395.1" y="271.7"/><use href="#pt" x="378.8" y="261.2"/><use href="#pt" x="439.1" y="260.5"/><use href="#pt" x="393.0" y="272.6"/><use href="#pt" x="439.1" y="250.5"/><use href="#pt" x="365.2" y="239.9"/><use href="#pt" x="458.5" y="265.9"/><use href="#pt" x="446.5" y="263.0"/><use href="#pt" x="373.9" y="241.3"/><use href="#pt" x="362.9" y="256.9"/><use href="#pt" x="393.5" y="257.9"/><use href="#pt" x="399.2" y="278.2"/><use href="#pt" x="379.4" y="251.1"/><use href="#pt" x="470.6" y="263.6"/><use href="#pt" x="385.4" y="261.8"/><use href="#pt" x="439.5" y="252.8"/><use href="#pt" x="405.5" y="261.8"/><use href="#pt" x="368.9" y="251.5"/><use href="#pt" x="399.5" y="241.1"/><use href="#pt" x="381.2" y="256.4"/><use href="#pt" x="448.8" y="278.5"/><use href="#pt" x="356.1" y="244.4"/><use href="#pt" x="414.1" y="268.0"/><use href="#pt" x="344.9" y="240.1"/><use href="#pt" x="396.3" y="275.0"/><use href="#pt" x="390.3" y="265.7"/><use href="#pt" x="404.3" y="265.0"/><use href="#pt" x="386.2" y="251.2"/><use href="#pt" x="443.4" y="287.0"/><use href="#pt" x="419.4" y="261.7"/><use href="#pt" x="404.4" y="262.7"/><use href="#pt" x="442.9" y="284.7"/><use href="#pt" x="379.1" y="255.6"/><use href="#pt" x="443.4" y="284.6"/><use href="#pt" x="430.8" y="240.7"/><use href="#pt" x="416.1" y="243.3"/><use href="#pt" x="382.8" y="266.4"/><use href="#pt" x="373.8" y="261.6"/><use href="#pt" x="419.0" y="276.0"/><use href="#pt" x="399.5" y="259.7"/><use href="#pt" x="407.8" y="254.6"/><use href="#pt" x="439.6" y="264.9"/><use href="#pt" x="421.2" y="245.3"/><use href="#pt" x="410.2" y="258.8"/><use href="#pt" x="425.0" y="270.3"/><use href="#pt" x="389.6" y="247.6"/><use href="#pt" x="423.1" y="269.7"/><use href="#pt" x="415.8" y="279.1"/><use href="#pt" x="476.9" y="256.3"/><use href="#pt" x="438.1" y="243.0"/><use href="#pt" x="434.8" y="291.6"/><use href="#pt" x="482.2" y="255.0"/><use href="#pt" x="405.8" y="268.6"/><use href="#pt" x="442.3" y="272.3"/><use href="#pt" x="426.6" y="293.6"/><use href="#pt" x="383.9" y="255.9"/><use href="#pt" x="451.8" y="283.6"/><use href="#pt" x="449.9" y="274.4"/><use href="#pt" x="431.5" y="273.8"/><use href="#pt" x="369.8" y="254.5"/><use href="#pt" x="424.2" y="278.2"/><use href="#pt" x="407.5" y="280.3"/><use href="#pt" x="398.5" y="277.9"/><use href="#pt" x="363.2" y="246.1"/><use href="#pt" x="381.3" y="250.9"/><use href="#pt" x="453.3" y="283.1"/><use href="#pt" x="391.6" y="263.2"/><use href="#pt" x="449.4" y="251.7"/><use href="#pt" x="372.8" y="254.1"/><use href="#pt" x="447.6" y="258.6"/><use href="#pt" x="443.5" y="289.6"/><use href="#pt" x="378.8" y="249.4"/><use href="#pt" x="431.5" y="286.2"/><use href="#pt" x="413.2" y="287.5"/><use href="#pt" x="414.4" y="256.5"/><use href="#pt" x="405.6" y="280.3"/><use href="#pt" x="448.2" y="274.6"/><use href="#pt" x="372.4" y="242.2"/><use href="#pt" x="448.8" y="264.5"/><use href="#pt" x="383.9" y="243.2"/><use href="#pt" x="441.8" y="272.6"/><use href="#pt" x="458.2" y="267.4"/><use href="#pt" x="461.0" y="260.9"/><use href="#pt" x="449.6" y="286.0"/><use href="#pt" x="435.6" y="276.7"/><use href="#pt" x="471.1" y="269.4"/><use href="#pt" x="455.4" y="270.8"/><use href="#pt" x="364.3" y="254.3"/><use href="#pt" x="413.7" y="284.5"/><use href="#pt" x="437.7" y="243.8"/><use href="#pt" x="417.0" y="290.9"/><use href="#pt" x="390.8" y="258.2"/><use href="#pt" x="373.7" y="252.1"/><use href="#pt" x="385.2" y="268.0"/><use href="#pt" x="422.8" y="252.8"/><use href="#pt" x="359.4" y="248.0"/><use href="#pt" x="344.3" y="244.1"/><use href="#pt" x="384.7" y="261.1"/><use href="#pt" x="436.0" y="293.0"/><use href="#pt" x="350.5" y="244.4"/><use href="#pt" x="423.4" y="262.3"/><use href="#pt" x="419.0" y="272.7"/><use href="#pt" x="455.2" y="266.8"/><use href="#pt" x="426.6" y="296.1"/><use href="#pt" x="365.0" y="252.5"/><use href="#pt" x="390.6" y="243.3"/><use href="#pt" x="342.0" y="240.4"/><use href="#pt" x="463.8" y="265.6"/><use href="#pt" x="429.0" y="259.0"/><use href="#pt" x="378.8" y="257.6"/><use href="#pt" x="422.8" y="291.0"/><use href="#pt" x="416.7" y="265.3"/><use href="#pt" x="344.6" y="240.9"/><use href="#pt" x="361.3" y="251.1"/><use href="#pt" x="433.0" y="287.1"/><use href="#pt" x="346.9" y="246.9"/><use href="#pt" x="377.7" y="243.3"/><use href="#pt" x="382.5" y="263.5"/><use href="#pt" x="429.6" y="255.0"/><use href="#pt" x="415.8" y="279.4"/><use href="#pt" x="424.3" y="284.2"/><use href="#pt" x="419.5" y="286.4"/><use href="#pt" x="449.4" y="279.1"/><use href="#pt" x="418.7" y="278.4"/><use href="#pt" x="432.0" y="291.6"/><use href="#pt" x="450.2" y="256.1"/><use href="#pt" x="449.6" y="254.0"/><use href="#pt" x="375.4" y="260.7"/><use href="#pt" x="427.5" y="289.3"/><use href="#pt" x="388.3" y="265.2"/><use href="#pt" x="441.2" y="253.9"/><use href="#pt" x="434.3" y="260.2"/><use href="#pt" x="415.1" y="289.2"/><use href="#pt" x="391.1" y="264.6"/><use href="#pt" x="415.6" y="280.9"/><use href="#pt" x="435.3" y="295.1"/><use href="#pt" x="401.6" y="278.5"/><use href="#pt" x="417.1" y="250.2"/><use href="#pt" x="362.0" y="254.3"/><use href="#pt" x="427.2" y="269.5"/><use href="#pt" x="409.4" y="266.5"/><use href="#pt" x="445.9" y="246.8"/><use href="#pt" x="410.8" y="267.1"/><use href="#pt" x="433.3" y="251.1"/><use href="#pt" x="400.9" y="274.3"/><use href="#pt" x="492.1" y="259.0"/><use href="#pt" x="378.7" y="265.7"/><use href="#pt" x="434.8" y="257.6"/><use href="#pt" x="389.3" y="240.2"/><use href="#pt" x="364.3" y="243.6"/><use href="#pt" x="455.9" y="273.9"/><use href="#pt" x="420.8" y="288.1"/><use href="#pt" x="415.2" y="282.8"/><use href="#pt" x="377.3" y="265.6"/><use href="#pt" x="455.5" y="282.1"/><use href="#pt" x="371.3" y="248.4"/><use href="#pt" x="415.5" y="274.1"/><use href="#pt" x="421.2" y="275.7"/><use href="#pt" x="416.6" y="289.1"/><use href="#pt" x="427.2" y="290.7"/><use href="#pt" x="408.2" y="254.3"/><use href="#pt" x="412.0" y="284.2"/><use href="#pt" x="403.6" y="279.6"/><use href="#pt" x="446.6" y="282.7"/><use href="#pt" x="412.7" y="277.5"/><use href="#pt" x="405.6" y="279.4"/><use href="#pt" x="396.2" y="254.0"/><use href="#pt" x="436.4" y="264.3"/><use href="#pt" x="355.0" y="247.6"/><use href="#pt" x="425.5" y="283.5"/><use href="#pt" x="448.7" y="283.0"/><use href="#pt" x="448.8" y="283.6"/><use href="#pt" x="461.9" y="258.3"/><use href="#pt" x="390.1" y="267.0"/><use href="#pt" x="430.0" y="253.6"/><use href="#pt" x="458.7" y="266.1"/><use href="#pt" x="368.8" y="258.0"/><use href="#pt" x="413.6" y="273.9"/><use href="#pt" x="457.0" y="267.5"/><use href="#pt" x="402.1" y="268.8"/><use href="#pt" x="416.9" y="276.5"/><use href="#pt" x="405.1" y="257.5"/><use href="#pt" x="348.7" y="244.8"/><use href="#pt" x="420.0" y="287.6"/><use href="#pt" x="419.2" y="276.4"/><use href="#pt" x="404.6" y="247.5"/><use href="#pt" x="374.4" y="254.6"/><use href="#pt" x="384.1" y="267.0"/><use href="#pt" x="429.2" y="274.6"/><use href="#pt" x="431.4" y="288.4"/><use href="#pt" x="468.1" y="263.9"/><use href="#pt" x="382.6" y="247.7"/><use href="#pt" x="361.2" y="252.4"/><use href="#pt" x="409.4" y="266.3"/><use href="#pt" x="444.7" y="283.8"/><use href="#pt" x="417.7" y="288.8"/><use href="#pt" x="444.6" y="266.3"/><use href="#pt" x="369.8" y="247.7"/><use href="#pt" x="376.7" y="256.1"/><use href="#pt" x="423.2" y="271.1"/><use href="#pt" x="416.4" y="290.9"/><use href="#pt" x="383.8" y="263.0"/><use href="#pt" x="378.0" y="260.6"/><use href="#pt" x="388.7" y="271.3"/><use href="#pt" x="383.2" y="260.8"/><use href="#pt" x="417.3" y="274.9"/><use href="#pt" x="444.8" y="253.1"/><use href="#pt" x="435.5" y="276.2"/><use href="#pt" x="359.2" y="242.0"/><use href="#pt" x="404.0" y="277.7"/><use href="#pt" x="442.9" y="278.2"/><use href="#pt" x="403.8" y="274.9"/><use href="#pt" x="415.3" y="240.2"/><use href="#pt" x="391.6" y="255.4"/><use href="#pt" x="404.9" y="260.5"/><use href="#pt" x="392.6" y="269.3"/><use href="#pt" x="411.9" y="272.9"/><use href="#pt" x="384.0" y="270.2"/><use href="#pt" x="431.9" y="276.1"/><use href="#pt" x="439.7" y="278.0"/><use href="#pt" x="415.1" y="239.7"/><use href="#pt" x="436.2" y="251.3"/><use href="#pt" x="432.9" y="250.8"/><use href="#pt" x="365.7" y="240.5"/><use href="#pt" x="425.8" y="263.6"/><use href="#pt" x="413.4" y="273.2"/><use href="#pt" x="404.7" y="258.3"/><use href="#pt" x="382.7" y="258.9"/><use href="#pt" x="402.0" y="280.8"/><use href="#pt" x="415.4" y="252.2"/><use href="#pt" x="428.6" y="268.5"/><use href="#pt" x="385.5" y="247.9"/><use href="#pt" x="418.1" y="270.9"/><use href="#pt" x="396.5" y="269.8"/><use href="#pt" x="357.2" y="239.7"/><use href="#pt" x="384.3" y="259.9"/><use href="#pt" x="426.5" y="272.9"/><use href="#pt" x="400.7" y="260.5"/><use href="#pt" x="416.7" y="241.0"/><use href="#pt" x="413.1" y="249.3"/><use href="#pt" x="338.4" y="241.8"/><use href="#pt" x="433.2" y="249.4"/><use href="#pt" x="342.1" y="239.8"/><use href="#pt" x="378.0" y="248.9"/><use href="#pt" x="436.2" y="277.7"/><use href="#pt" x="461.7" y="276.9"/><use href="#pt" x="377.8" y="243.7"/><use href="#pt" x="390.2" y="259.9"/><use href="#pt" x="436.2" y="282.6"/><use href="#pt" x="421.3" y="263.2"/><use href="#pt" x="428.4" y="250.3"/><use href="#pt" x="332.0" y="360.8"/>
<text x="38.2" y="239.2" font-size="9.2" font-weight="bold" fill="#000" stroke="#000" stroke-width="0.45" textLength="20.6" lengthAdjust="spacingAndGlyphs">Rod</text>
<text x="225.8" y="239.7" font-size="10.4" font-weight="bold" fill="#000" stroke="#000" stroke-width="0.45" textLength="39.2" lengthAdjust="spacingAndGlyphs">Sphere</text>
<text x="136.1" y="366.6" font-size="10.0" font-weight="bold" fill="#000" stroke="#000" stroke-width="0.45" textLength="21.400000000000002" lengthAdjust="spacingAndGlyphs">Disc</text>
<text x="129.1" y="390.6" font-size="11.2" font-weight="bold" fill="#000" stroke="#000" stroke-width="0.45" textLength="36.0" lengthAdjust="spacingAndGlyphs">NPR1</text>
<text x="321.5" y="239.5" font-size="9.2" font-weight="bold" fill="#000" stroke="#000" stroke-width="0.45" textLength="20.0" lengthAdjust="spacingAndGlyphs">Rod</text>
<text x="508.8" y="239.7" font-size="10.4" font-weight="bold" fill="#000" stroke="#000" stroke-width="0.45" textLength="38.4" lengthAdjust="spacingAndGlyphs">Sphere</text>
<text x="419.2" y="303.7" font-size="10.0" font-weight="bold" fill="#000" stroke="#000" stroke-width="0.45" textLength="21.5" lengthAdjust="spacingAndGlyphs">Disc</text>
<text x="412.0" y="391.3" font-size="11.2" font-weight="bold" fill="#000" stroke="#000" stroke-width="0.45" textLength="36.0" lengthAdjust="spacingAndGlyphs">NPR1</text>
<text transform="translate(15.6,301.2) rotate(-90)" x="0" y="0" font-size="11.4" font-weight="bold" text-anchor="middle" fill="#000" stroke="#000" stroke-width="0.5" textLength="34.1" lengthAdjust="spacingAndGlyphs">NPR2</text>
<text transform="translate(299.2,300.7) rotate(-90)" x="0" y="0" font-size="11.4" font-weight="bold" text-anchor="middle" fill="#000" stroke="#000" stroke-width="0.5" textLength="35.3" lengthAdjust="spacingAndGlyphs">NPR2</text>
</svg></body></html>
